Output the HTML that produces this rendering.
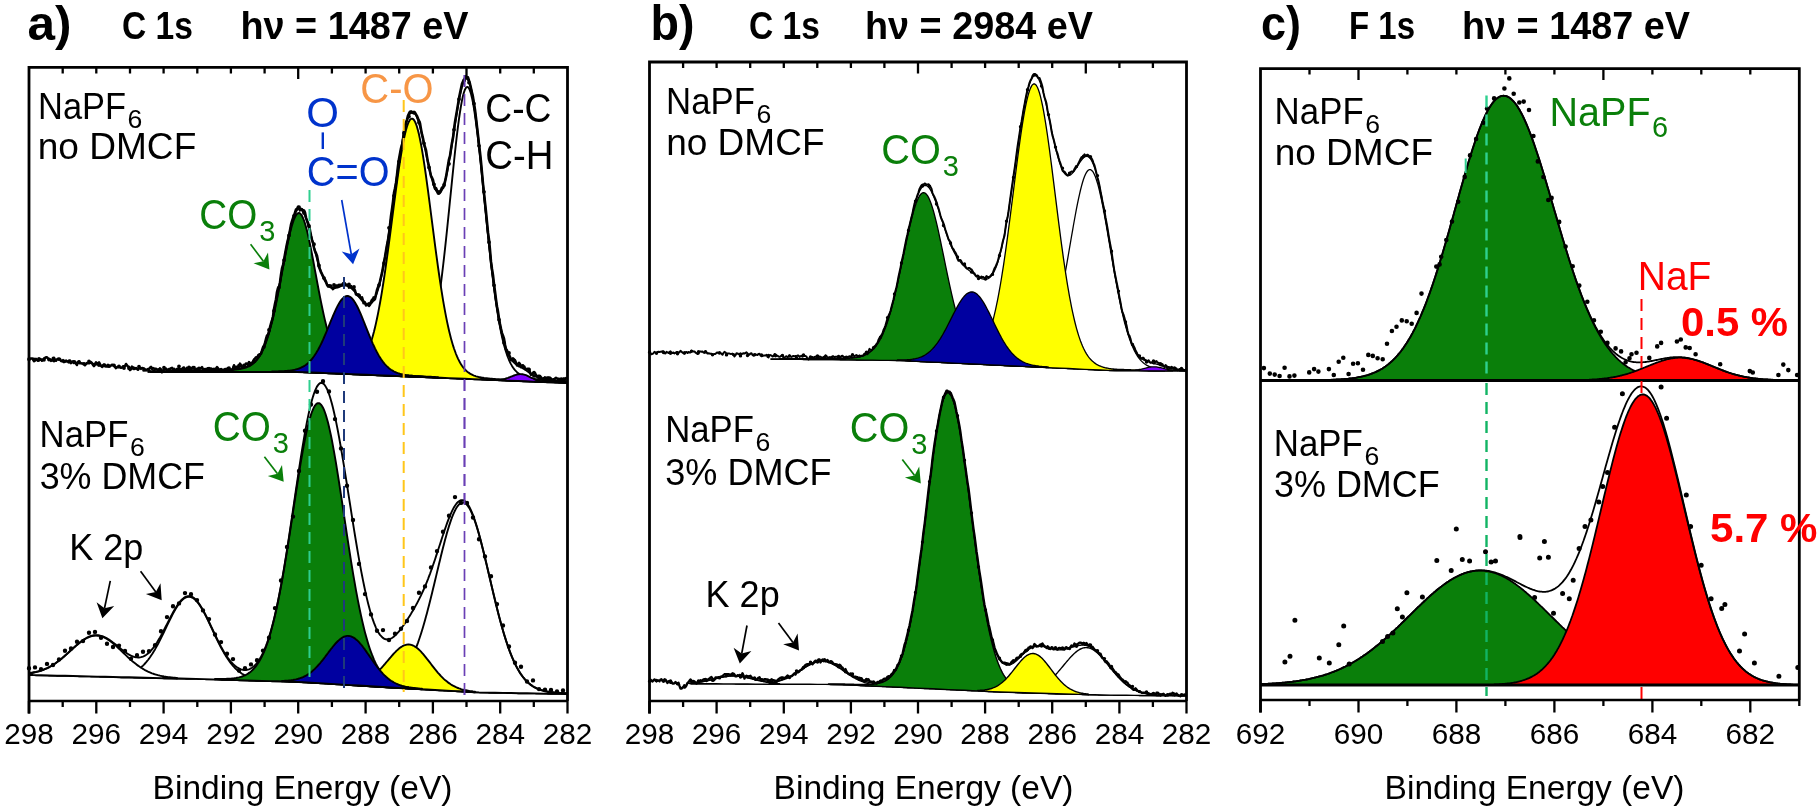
<!DOCTYPE html>
<html><head><meta charset="utf-8"><title>XPS spectra</title>
<style>html,body{margin:0;padding:0;background:#fff}svg{display:block;filter:blur(0.6px)}text{font-family:"Liberation Sans",sans-serif}</style>
</head><body>
<svg width="1820" height="812" viewBox="0 0 1820 812">
<rect width="1820" height="812" fill="#fff"/>
<path d="M464.5 75V696" stroke="#6a3fb5" stroke-width="1.7" stroke-dasharray="12 7" fill="none"/>
<path d="M150.0 372.0 L151.0 372.0 L152.0 372.0 L153.0 372.0 L154.0 372.0 L155.0 372.0 L156.0 372.0 L157.0 372.0 L158.0 372.0 L159.0 372.0 L160.0 372.0 L161.0 372.0 L162.0 372.0 L163.0 372.0 L164.0 372.0 L165.0 372.0 L166.0 372.0 L167.0 372.0 L168.0 372.0 L169.0 372.0 L170.0 372.0 L171.0 372.0 L172.0 372.0 L173.0 372.0 L174.0 372.0 L175.0 372.0 L176.0 372.0 L177.0 372.0 L178.0 372.0 L179.0 372.0 L180.0 372.0 L181.0 372.0 L182.0 372.0 L183.0 372.0 L184.0 372.0 L185.0 372.0 L186.0 372.0 L187.0 372.0 L188.0 372.0 L189.0 372.0 L190.0 372.0 L191.0 372.0 L192.0 372.0 L193.0 372.0 L194.0 372.0 L195.0 372.0 L196.0 372.0 L197.0 372.0 L198.0 372.0 L199.0 372.0 L200.0 372.0 L201.0 372.0 L202.0 372.0 L203.0 372.0 L204.0 372.0 L205.0 372.0 L206.0 372.0 L207.0 372.0 L208.0 372.0 L209.0 372.0 L210.0 372.0 L211.0 372.0 L212.0 372.0 L213.0 372.0 L214.0 372.0 L215.0 372.0 L216.0 372.0 L217.0 372.0 L218.0 372.0 L219.0 372.0 L220.0 372.0 L221.0 372.0 L222.0 372.0 L223.0 372.0 L224.0 372.0 L225.0 372.0 L226.0 372.0 L227.0 372.0 L228.0 372.0 L229.0 372.0 L230.0 372.0 L231.0 372.0 L232.0 372.0 L233.0 372.0 L234.0 372.0 L235.0 372.0 L236.0 372.0 L237.0 372.0 L238.0 372.0 L239.0 372.0 L240.0 372.0 L241.0 372.0 L242.0 372.0 L243.0 372.0 L244.0 372.0 L245.0 372.0 L246.0 372.0 L247.0 372.0 L248.0 372.0 L249.0 372.0 L250.0 372.0 L251.0 372.0 L252.0 372.0 L253.0 372.0 L254.0 372.0 L255.0 372.0 L256.0 372.0 L257.0 372.0 L258.0 372.0 L259.0 372.0 L260.0 372.0 L261.0 372.0 L262.0 372.0 L263.0 372.0 L264.0 372.0 L265.0 372.0 L266.0 372.0 L267.0 372.0 L268.0 372.0 L269.0 372.0 L270.0 372.0 L271.0 372.0 L272.0 372.0 L273.0 372.0 L274.0 372.0 L275.0 372.0 L276.0 372.0 L277.0 372.0 L278.0 372.0 L279.0 372.0 L280.0 372.0 L281.0 372.0 L282.0 372.0 L283.0 372.0 L284.0 372.0 L285.0 372.0 L286.0 372.0 L287.0 372.0 L288.0 372.0 L289.0 372.0 L290.0 372.0 L291.0 372.0 L292.0 372.0 L293.0 372.0 L294.0 372.0 L295.0 372.0 L296.0 372.0 L297.0 372.0 L298.0 372.0 L299.0 372.0 L300.0 372.0 L301.0 372.0 L302.0 372.1 L303.0 372.1 L304.0 372.2 L305.0 372.2 L306.0 372.2 L307.0 372.3 L308.0 372.3 L309.0 372.4 L310.0 372.4 L311.0 372.5 L312.0 372.5 L313.0 372.5 L314.0 372.6 L315.0 372.6 L316.0 372.7 L317.0 372.7 L318.0 372.7 L319.0 372.8 L320.0 372.8 L321.0 372.9 L322.0 372.9 L323.0 372.9 L324.0 373.0 L325.0 373.0 L326.0 373.1 L327.0 373.1 L328.0 373.2 L329.0 373.2 L330.0 373.2 L331.0 373.3 L332.0 373.3 L333.0 373.4 L334.0 373.4 L335.0 373.4 L336.0 373.5 L337.0 373.5 L338.0 373.6 L339.0 373.6 L340.0 373.6 L341.0 373.7 L342.0 373.7 L343.0 373.8 L344.0 373.8 L345.0 373.9 L346.0 373.9 L347.0 373.9 L348.0 374.0 L349.0 374.0 L350.0 374.1 L351.0 374.1 L352.0 374.1 L353.0 374.2 L354.0 374.2 L355.0 374.3 L356.0 374.3 L357.0 374.3 L358.0 374.4 L359.0 374.4 L360.0 374.5 L361.0 374.5 L362.0 374.5 L363.0 374.6 L364.0 374.6 L365.0 374.7 L366.0 374.7 L367.0 374.8 L368.0 374.8 L369.0 374.8 L370.0 374.9 L371.0 374.9 L372.0 375.0 L373.0 375.0 L374.0 375.0 L375.0 375.1 L376.0 375.1 L377.0 375.2 L378.0 375.2 L379.0 375.2 L380.0 375.3 L381.0 375.3 L382.0 375.4 L383.0 375.4 L384.0 375.5 L385.0 375.5 L386.0 375.5 L387.0 375.6 L388.0 375.6 L389.0 375.7 L390.0 375.7 L391.0 375.7 L392.0 375.8 L393.0 375.8 L394.0 375.9 L395.0 375.9 L396.0 375.9 L397.0 376.0 L398.0 376.0 L399.0 376.1 L400.0 376.1 L401.0 376.2 L402.0 376.2 L403.0 376.2 L404.0 376.3 L405.0 376.3 L406.0 376.4 L407.0 376.4 L408.0 376.4 L409.0 376.5 L410.0 376.5 L411.0 376.6 L412.0 376.6 L413.0 376.6 L414.0 376.7 L415.0 376.7 L416.0 376.8 L417.0 376.8 L418.0 376.9 L419.0 376.9 L420.0 376.9 L421.0 377.0 L422.0 377.0 L423.0 377.1 L424.0 377.1 L425.0 377.1 L426.0 377.2 L427.0 377.2 L428.0 377.3 L429.0 377.3 L430.0 377.3 L431.0 377.4 L432.0 377.4 L433.0 377.5 L434.0 377.5 L435.0 377.6 L436.0 377.6 L437.0 377.6 L438.0 377.7 L439.0 377.7 L440.0 377.8 L441.0 377.8 L442.0 377.8 L443.0 377.9 L444.0 377.9 L445.0 378.0 L446.0 378.0 L447.0 378.0 L448.0 378.1 L449.0 378.1 L450.0 378.2 L451.0 378.2 L452.0 378.3 L453.0 378.3 L454.0 378.3 L455.0 378.4 L456.0 378.4 L457.0 378.5 L458.0 378.5 L459.0 378.5 L460.0 378.6 L461.0 378.6 L462.0 378.7 L463.0 378.7 L464.0 378.7 L465.0 378.8 L466.0 378.8 L467.0 378.9 L468.0 378.9 L469.0 378.9 L470.0 379.0 L471.0 379.0 L472.0 379.1 L473.0 379.1 L474.0 379.2 L475.0 379.2 L476.0 379.2 L477.0 379.3 L478.0 379.3 L479.0 379.4 L480.0 379.4 L481.0 379.4 L482.0 379.5 L483.0 379.5 L484.0 379.6 L485.0 379.6 L486.0 379.6 L487.0 379.7 L488.0 379.7 L489.0 379.8 L490.0 379.8 L491.0 379.9 L492.0 379.9 L493.0 379.9 L494.0 380.0 L495.0 380.0 L496.0 380.1 L497.0 380.1 L498.0 380.1 L499.0 380.2 L500.0 380.2 L501.0 380.3 L502.0 380.3 L503.0 380.3 L504.0 380.4 L505.0 380.4 L506.0 380.5 L507.0 380.5 L508.0 380.6 L509.0 380.6 L510.0 380.6 L511.0 380.7 L512.0 380.7 L513.0 380.8 L514.0 380.8 L515.0 380.8 L516.0 380.9 L517.0 380.9 L518.0 381.0 L519.0 381.0 L520.0 381.0 L521.0 381.1 L522.0 381.1 L523.0 381.2 L524.0 381.2 L525.0 381.3 L526.0 381.3 L527.0 381.3 L528.0 381.4 L529.0 381.4 L530.0 381.5 L531.0 381.5 L532.0 381.5 L533.0 381.6 L534.0 381.6 L535.0 381.7 L536.0 381.7 L537.0 381.7 L538.0 381.8 L539.0 381.8 L540.0 381.9 L541.0 381.9 L542.0 382.0 L543.0 382.0 L544.0 382.0 L545.0 382.1 L546.0 382.1 L547.0 382.2 L548.0 382.2 L549.0 382.2 L550.0 382.3 L551.0 382.3 L552.0 382.4 L553.0 382.4 L554.0 382.4 L555.0 382.5 L556.0 382.5 L557.0 382.6 L558.0 382.6 L559.0 382.7 L560.0 382.7 L561.0 382.7 L562.0 382.8 L563.0 382.8 L564.0 382.9 L565.0 382.9 L566.0 382.9 L567.0 383.0" fill="none" stroke="#000" stroke-width="1.9"/>
<path d="M312.0 372.0 L313.0 372.0 L314.0 372.1 L315.0 372.1 L316.0 372.1 L317.0 372.2 L318.0 372.2 L319.0 372.2 L320.0 372.3 L321.0 372.3 L322.0 372.3 L323.0 372.4 L324.0 372.4 L325.0 372.4 L326.0 372.5 L327.0 372.5 L328.0 372.5 L329.0 372.6 L330.0 372.6 L331.0 372.6 L332.0 372.7 L333.0 372.7 L334.0 372.7 L335.0 372.8 L336.0 372.8 L337.0 372.8 L338.0 372.8 L339.0 372.9 L340.0 372.9 L341.0 372.9 L342.0 373.0 L343.0 373.0 L344.0 373.0 L345.0 373.1 L346.0 373.1 L347.0 373.1 L348.0 373.1 L349.0 373.2 L350.0 373.2 L351.0 373.2 L352.0 373.2 L353.0 373.3 L354.0 373.3 L355.0 373.3 L356.0 373.3 L357.0 373.4 L358.0 373.4 L359.0 373.4 L360.0 373.4 L361.0 373.5 L362.0 373.5 L363.0 373.5 L364.0 373.5 L365.0 373.5 L366.0 373.6 L367.0 373.6 L368.0 373.6 L369.0 373.6 L370.0 373.6 L371.0 373.7 L372.0 373.7 L373.0 373.7 L374.0 373.7 L375.0 373.7 L376.0 373.7 L377.0 373.7 L378.0 373.7 L379.0 373.8 L380.0 373.8 L381.0 373.8 L382.0 373.8 L383.0 373.8 L384.0 373.8 L385.0 373.8 L386.0 373.8 L387.0 373.8 L388.0 373.8 L389.0 373.8 L390.0 373.8 L391.0 373.8 L392.0 373.7 L393.0 373.7 L394.0 373.7 L395.0 373.7 L396.0 373.7 L397.0 373.6 L398.0 373.6 L399.0 373.5 L400.0 373.5 L401.0 373.4 L402.0 373.3 L403.0 373.3 L404.0 373.2 L405.0 373.0 L406.0 372.9 L407.0 372.7 L408.0 372.5 L409.0 372.3 L410.0 372.0 L411.0 371.7 L412.0 371.4 L413.0 371.0 L414.0 370.5 L415.0 370.0 L416.0 369.3 L417.0 368.6 L418.0 367.8 L419.0 366.8 L420.0 365.8 L421.0 364.5 L422.0 363.1 L423.0 361.6 L424.0 359.8 L425.0 357.8 L426.0 355.6 L427.0 353.2 L428.0 350.4 L429.0 347.4 L430.0 344.1 L431.0 340.4 L432.0 336.4 L433.0 332.0 L434.0 327.3 L435.0 322.1 L436.0 316.6 L437.0 310.7 L438.0 304.3 L439.0 297.5 L440.0 290.4 L441.0 282.8 L442.0 274.8 L443.0 266.5 L444.0 257.8 L445.0 248.9 L446.0 239.6 L447.0 230.1 L448.0 220.4 L449.0 210.6 L450.0 200.7 L451.0 190.8 L452.0 180.9 L453.0 171.1 L454.0 161.5 L455.0 152.1 L456.0 143.1 L457.0 134.5 L458.0 126.4 L459.0 118.9 L460.0 112.0 L461.0 105.8 L462.0 100.4 L463.0 95.8 L464.0 92.2 L465.0 89.4 L466.0 87.7 L467.0 86.9 L468.0 87.2 L469.0 88.4 L470.0 90.6 L471.0 93.8 L472.0 97.9 L473.0 102.9 L474.0 108.7 L475.0 115.3 L476.0 122.5 L477.0 130.4 L478.0 138.8 L479.0 147.6 L480.0 156.9 L481.0 166.4 L482.0 176.2 L483.0 186.1 L484.0 196.1 L485.0 206.1 L486.0 216.1 L487.0 225.9 L488.0 235.6 L489.0 245.1 L490.0 254.4 L491.0 263.3 L492.0 271.9 L493.0 280.2 L494.0 288.1 L495.0 295.6 L496.0 302.6 L497.0 309.3 L498.0 315.6 L499.0 321.5 L500.0 326.9 L501.0 332.0 L502.0 336.7 L503.0 341.0 L504.0 344.9 L505.0 348.6 L506.0 351.8 L507.0 354.8 L508.0 357.5 L509.0 360.0 L510.0 362.2 L511.0 364.1 L512.0 365.9 L513.0 367.5 L514.0 368.9 L515.0 370.1 L516.0 371.2 L517.0 372.2 L518.0 373.1 L519.0 373.8 L520.0 374.5 L521.0 375.1 L522.0 375.6 L523.0 376.1 L524.0 376.5 L525.0 376.9 L526.0 377.2 L527.0 377.5 L528.0 377.8 L529.0 378.0 L530.0 378.2 L531.0 378.4 L532.0 378.6 L533.0 378.8 L534.0 378.9 L535.0 379.1 L536.0 379.2 L537.0 379.3 L538.0 379.5 L539.0 379.6 L540.0 379.7 L541.0 379.8 L542.0 379.9 L543.0 380.0 L544.0 380.1 L545.0 380.2 L546.0 380.3 L547.0 380.3 L548.0 380.4 L549.0 380.5 L550.0 380.6 L551.0 380.7 L552.0 380.7 L553.0 380.8 L554.0 380.9 L555.0 381.0 L556.0 381.0 L557.0 381.1 L558.0 381.2 L559.0 381.3 L560.0 381.3 L561.0 381.4 L562.0 381.5 L563.0 381.5 L564.0 381.6 L565.0 381.7 L566.0 381.7 L567.0 381.8 L567.0 383.0 L559.0 382.7 L551.0 382.3 L543.0 382.0 L535.0 381.7 L527.0 381.3 L519.0 381.0 L511.0 380.7 L503.0 380.3 L495.0 380.0 L487.0 379.7 L479.0 379.4 L471.0 379.0 L463.0 378.7 L455.0 378.4 L447.0 378.0 L439.0 377.7 L431.0 377.4 L423.0 377.1 L415.0 376.7 L407.0 376.4 L399.0 376.1 L391.0 375.7 L383.0 375.4 L375.0 375.1 L367.0 374.8 L359.0 374.4 L351.0 374.1 L343.0 373.8 L335.0 373.4 L327.0 373.1 L319.0 372.8Z" fill="#fff" stroke="#000" stroke-width="1.9" stroke-linejoin="round"/>
<path d="M295.0 371.5 L296.0 371.5 L297.0 371.5 L298.0 371.5 L299.0 371.5 L300.0 371.5 L301.0 371.5 L302.0 371.5 L303.0 371.6 L304.0 371.6 L305.0 371.6 L306.0 371.6 L307.0 371.7 L308.0 371.7 L309.0 371.7 L310.0 371.8 L311.0 371.8 L312.0 371.8 L313.0 371.8 L314.0 371.9 L315.0 371.9 L316.0 371.9 L317.0 372.0 L318.0 372.0 L319.0 372.0 L320.0 372.0 L321.0 372.0 L322.0 372.1 L323.0 372.1 L324.0 372.1 L325.0 372.1 L326.0 372.2 L327.0 372.2 L328.0 372.2 L329.0 372.2 L330.0 372.2 L331.0 372.2 L332.0 372.2 L333.0 372.2 L334.0 372.2 L335.0 372.2 L336.0 372.2 L337.0 372.2 L338.0 372.1 L339.0 372.1 L340.0 372.0 L341.0 372.0 L342.0 371.9 L343.0 371.8 L344.0 371.7 L345.0 371.6 L346.0 371.4 L347.0 371.2 L348.0 371.0 L349.0 370.8 L350.0 370.5 L351.0 370.1 L352.0 369.7 L353.0 369.3 L354.0 368.8 L355.0 368.2 L356.0 367.6 L357.0 366.9 L358.0 366.0 L359.0 365.1 L360.0 364.0 L361.0 362.9 L362.0 361.6 L363.0 360.1 L364.0 358.5 L365.0 356.8 L366.0 354.8 L367.0 352.7 L368.0 350.4 L369.0 347.8 L370.0 345.0 L371.0 342.0 L372.0 338.8 L373.0 335.2 L374.0 331.5 L375.0 327.4 L376.0 323.1 L377.0 318.5 L378.0 313.6 L379.0 308.4 L380.0 303.0 L381.0 297.3 L382.0 291.3 L383.0 285.0 L384.0 278.5 L385.0 271.8 L386.0 264.8 L387.0 257.7 L388.0 250.4 L389.0 242.9 L390.0 235.3 L391.0 227.7 L392.0 219.9 L393.0 212.2 L394.0 204.5 L395.0 196.9 L396.0 189.4 L397.0 182.0 L398.0 174.9 L399.0 167.9 L400.0 161.3 L401.0 155.0 L402.0 149.1 L403.0 143.6 L404.0 138.5 L405.0 134.0 L406.0 130.0 L407.0 126.5 L408.0 123.7 L409.0 121.4 L410.0 119.8 L411.0 118.9 L412.0 118.6 L413.0 119.0 L414.0 120.0 L415.0 121.7 L416.0 124.0 L417.0 126.9 L418.0 130.5 L419.0 134.6 L420.0 139.2 L421.0 144.3 L422.0 149.9 L423.0 155.9 L424.0 162.3 L425.0 169.0 L426.0 176.0 L427.0 183.3 L428.0 190.7 L429.0 198.3 L430.0 206.0 L431.0 213.8 L432.0 221.6 L433.0 229.4 L434.0 237.1 L435.0 244.8 L436.0 252.3 L437.0 259.7 L438.0 267.0 L439.0 274.0 L440.0 280.8 L441.0 287.4 L442.0 293.7 L443.0 299.8 L444.0 305.6 L445.0 311.1 L446.0 316.4 L447.0 321.4 L448.0 326.0 L449.0 330.5 L450.0 334.6 L451.0 338.4 L452.0 342.0 L453.0 345.4 L454.0 348.5 L455.0 351.3 L456.0 354.0 L457.0 356.4 L458.0 358.6 L459.0 360.6 L460.0 362.5 L461.0 364.2 L462.0 365.7 L463.0 367.1 L464.0 368.3 L465.0 369.5 L466.0 370.5 L467.0 371.4 L468.0 372.2 L469.0 372.9 L470.0 373.6 L471.0 374.2 L472.0 374.7 L473.0 375.2 L474.0 375.6 L475.0 375.9 L476.0 376.3 L477.0 376.6 L478.0 376.8 L479.0 377.1 L480.0 377.3 L481.0 377.5 L482.0 377.7 L483.0 377.8 L484.0 378.0 L485.0 378.1 L486.0 378.2 L487.0 378.3 L488.0 378.4 L489.0 378.5 L490.0 378.6 L491.0 378.7 L492.0 378.8 L493.0 378.9 L494.0 378.9 L495.0 379.0 L496.0 379.1 L497.0 379.2 L498.0 379.2 L499.0 379.3 L500.0 379.4 L501.0 379.4 L502.0 379.5 L503.0 379.5 L504.0 379.6 L505.0 379.7 L506.0 379.7 L507.0 379.8 L508.0 379.8 L509.0 379.9 L510.0 379.9 L511.0 380.0 L512.0 380.0 L513.0 380.1 L514.0 380.1 L515.0 380.2 L516.0 380.3 L517.0 380.3 L518.0 380.4 L519.0 380.4 L520.0 380.5 L521.0 380.5 L522.0 380.6 L523.0 380.6 L524.0 380.7 L525.0 380.7 L526.0 380.8 L527.0 380.8 L528.0 380.9 L529.0 380.9 L529.0 381.4 L521.0 381.1 L513.0 380.8 L505.0 380.4 L497.0 380.1 L489.0 379.8 L481.0 379.4 L473.0 379.1 L465.0 378.8 L457.0 378.5 L449.0 378.1 L441.0 377.8 L433.0 377.5 L425.0 377.1 L417.0 376.8 L409.0 376.5 L401.0 376.2 L393.0 375.8 L385.0 375.5 L377.0 375.2 L369.0 374.8 L361.0 374.5 L353.0 374.2 L345.0 373.9 L337.0 373.5 L329.0 373.2 L321.0 372.9 L313.0 372.5 L305.0 372.2 L297.0 372.0Z" fill="#ffff00" stroke="#000" stroke-width="1.9" stroke-linejoin="round"/>
<path d="M159.0 371.5 L160.0 371.5 L161.0 371.5 L162.0 371.5 L163.0 371.5 L164.0 371.5 L165.0 371.5 L166.0 371.4 L167.0 371.4 L168.0 371.4 L169.0 371.4 L170.0 371.4 L171.0 371.4 L172.0 371.4 L173.0 371.4 L174.0 371.4 L175.0 371.4 L176.0 371.4 L177.0 371.3 L178.0 371.3 L179.0 371.3 L180.0 371.3 L181.0 371.3 L182.0 371.3 L183.0 371.3 L184.0 371.3 L185.0 371.3 L186.0 371.2 L187.0 371.2 L188.0 371.2 L189.0 371.2 L190.0 371.2 L191.0 371.2 L192.0 371.2 L193.0 371.1 L194.0 371.1 L195.0 371.1 L196.0 371.1 L197.0 371.1 L198.0 371.1 L199.0 371.0 L200.0 371.0 L201.0 371.0 L202.0 371.0 L203.0 371.0 L204.0 370.9 L205.0 370.9 L206.0 370.9 L207.0 370.9 L208.0 370.8 L209.0 370.8 L210.0 370.8 L211.0 370.8 L212.0 370.7 L213.0 370.7 L214.0 370.7 L215.0 370.7 L216.0 370.6 L217.0 370.6 L218.0 370.6 L219.0 370.5 L220.0 370.5 L221.0 370.4 L222.0 370.4 L223.0 370.4 L224.0 370.3 L225.0 370.3 L226.0 370.2 L227.0 370.2 L228.0 370.1 L229.0 370.1 L230.0 370.0 L231.0 369.9 L232.0 369.9 L233.0 369.8 L234.0 369.7 L235.0 369.6 L236.0 369.5 L237.0 369.4 L238.0 369.3 L239.0 369.1 L240.0 369.0 L241.0 368.8 L242.0 368.6 L243.0 368.4 L244.0 368.1 L245.0 367.8 L246.0 367.5 L247.0 367.2 L248.0 366.7 L249.0 366.3 L250.0 365.8 L251.0 365.2 L252.0 364.5 L253.0 363.8 L254.0 362.9 L255.0 362.0 L256.0 361.0 L257.0 359.8 L258.0 358.5 L259.0 357.1 L260.0 355.5 L261.0 353.8 L262.0 351.9 L263.0 349.8 L264.0 347.5 L265.0 345.1 L266.0 342.4 L267.0 339.5 L268.0 336.4 L269.0 333.1 L270.0 329.6 L271.0 325.8 L272.0 321.9 L273.0 317.7 L274.0 313.3 L275.0 308.7 L276.0 304.0 L277.0 299.1 L278.0 294.0 L279.0 288.9 L280.0 283.6 L281.0 278.3 L282.0 272.9 L283.0 267.5 L284.0 262.2 L285.0 256.9 L286.0 251.7 L287.0 246.7 L288.0 241.8 L289.0 237.2 L290.0 232.9 L291.0 228.9 L292.0 225.3 L293.0 222.1 L294.0 219.3 L295.0 217.0 L296.0 215.2 L297.0 213.9 L298.0 213.2 L299.0 213.0 L300.0 213.4 L301.0 214.4 L302.0 215.9 L303.0 218.0 L304.0 220.5 L305.0 223.5 L306.0 226.9 L307.0 230.8 L308.0 234.9 L309.0 239.4 L310.0 244.2 L311.0 249.1 L312.0 254.2 L313.0 259.5 L314.0 264.9 L315.0 270.3 L316.0 275.7 L317.0 281.1 L318.0 286.5 L319.0 291.7 L320.0 296.9 L321.0 301.9 L322.0 306.8 L323.0 311.5 L324.0 316.1 L325.0 320.4 L326.0 324.5 L327.0 328.5 L328.0 332.2 L329.0 335.6 L330.0 338.9 L331.0 342.0 L332.0 344.8 L333.0 347.4 L334.0 349.8 L335.0 352.1 L336.0 354.1 L337.0 356.0 L338.0 357.7 L339.0 359.3 L340.0 360.7 L341.0 362.0 L342.0 363.1 L343.0 364.2 L344.0 365.1 L345.0 365.9 L346.0 366.7 L347.0 367.4 L348.0 368.0 L349.0 368.5 L350.0 369.0 L351.0 369.4 L352.0 369.8 L353.0 370.1 L354.0 370.4 L355.0 370.7 L356.0 371.0 L357.0 371.2 L358.0 371.4 L359.0 371.6 L360.0 371.8 L361.0 371.9 L362.0 372.1 L363.0 372.2 L364.0 372.4 L365.0 372.5 L366.0 372.6 L367.0 372.7 L368.0 372.8 L369.0 372.9 L370.0 373.0 L371.0 373.1 L372.0 373.2 L373.0 373.3 L374.0 373.4 L375.0 373.5 L376.0 373.5 L377.0 373.6 L378.0 373.7 L379.0 373.8 L380.0 373.9 L381.0 373.9 L382.0 374.0 L383.0 374.1 L384.0 374.1 L385.0 374.2 L386.0 374.3 L387.0 374.4 L388.0 374.4 L389.0 374.5 L390.0 374.6 L391.0 374.6 L392.0 374.7 L393.0 374.7 L394.0 374.8 L395.0 374.9 L396.0 374.9 L397.0 375.0 L398.0 375.1 L399.0 375.1 L400.0 375.2 L401.0 375.2 L402.0 375.3 L403.0 375.3 L404.0 375.4 L405.0 375.5 L406.0 375.5 L407.0 375.6 L408.0 375.6 L409.0 375.7 L410.0 375.7 L411.0 375.8 L412.0 375.8 L413.0 375.9 L414.0 376.0 L415.0 376.0 L416.0 376.1 L417.0 376.1 L418.0 376.2 L419.0 376.2 L420.0 376.3 L421.0 376.3 L422.0 376.4 L423.0 376.4 L424.0 376.5 L425.0 376.5 L426.0 376.6 L427.0 376.6 L428.0 376.7 L429.0 376.7 L430.0 376.8 L431.0 376.8 L432.0 376.9 L433.0 376.9 L434.0 377.0 L435.0 377.0 L436.0 377.1 L437.0 377.1 L438.0 377.2 L438.0 377.7 L430.0 377.3 L422.0 377.0 L414.0 376.7 L406.0 376.4 L398.0 376.0 L390.0 375.7 L382.0 375.4 L374.0 375.0 L366.0 374.7 L358.0 374.4 L350.0 374.1 L342.0 373.7 L334.0 373.4 L326.0 373.1 L318.0 372.7 L310.0 372.4 L302.0 372.1 L294.0 372.0 L286.0 372.0 L278.0 372.0 L270.0 372.0 L262.0 372.0 L254.0 372.0 L246.0 372.0 L238.0 372.0 L230.0 372.0 L222.0 372.0 L214.0 372.0 L206.0 372.0 L198.0 372.0 L190.0 372.0 L182.0 372.0 L174.0 372.0 L166.0 372.0Z" fill="#0a7f0a" stroke="#000" stroke-width="1.9" stroke-linejoin="round"/>
<path d="M272.0 371.5 L273.0 371.5 L274.0 371.5 L275.0 371.4 L276.0 371.4 L277.0 371.4 L278.0 371.4 L279.0 371.3 L280.0 371.3 L281.0 371.3 L282.0 371.2 L283.0 371.2 L284.0 371.1 L285.0 371.0 L286.0 371.0 L287.0 370.9 L288.0 370.8 L289.0 370.7 L290.0 370.6 L291.0 370.4 L292.0 370.3 L293.0 370.1 L294.0 369.9 L295.0 369.7 L296.0 369.4 L297.0 369.1 L298.0 368.8 L299.0 368.5 L300.0 368.1 L301.0 367.7 L302.0 367.2 L303.0 366.7 L304.0 366.1 L305.0 365.5 L306.0 364.8 L307.0 364.0 L308.0 363.2 L309.0 362.2 L310.0 361.2 L311.0 360.1 L312.0 359.0 L313.0 357.7 L314.0 356.3 L315.0 354.8 L316.0 353.3 L317.0 351.6 L318.0 349.9 L319.0 348.0 L320.0 346.1 L321.0 344.1 L322.0 342.0 L323.0 339.8 L324.0 337.5 L325.0 335.2 L326.0 332.9 L327.0 330.5 L328.0 328.0 L329.0 325.6 L330.0 323.1 L331.0 320.7 L332.0 318.3 L333.0 315.9 L334.0 313.6 L335.0 311.3 L336.0 309.2 L337.0 307.2 L338.0 305.2 L339.0 303.5 L340.0 301.8 L341.0 300.4 L342.0 299.1 L343.0 298.1 L344.0 297.2 L345.0 296.6 L346.0 296.2 L347.0 296.0 L348.0 296.0 L349.0 296.3 L350.0 296.8 L351.0 297.5 L352.0 298.4 L353.0 299.6 L354.0 300.9 L355.0 302.5 L356.0 304.2 L357.0 306.0 L358.0 308.0 L359.0 310.1 L360.0 312.4 L361.0 314.7 L362.0 317.1 L363.0 319.6 L364.0 322.0 L365.0 324.6 L366.0 327.1 L367.0 329.6 L368.0 332.1 L369.0 334.6 L370.0 337.1 L371.0 339.5 L372.0 341.8 L373.0 344.1 L374.0 346.2 L375.0 348.4 L376.0 350.4 L377.0 352.3 L378.0 354.1 L379.0 355.9 L380.0 357.5 L381.0 359.1 L382.0 360.5 L383.0 361.9 L384.0 363.1 L385.0 364.3 L386.0 365.4 L387.0 366.4 L388.0 367.3 L389.0 368.2 L390.0 369.0 L391.0 369.7 L392.0 370.3 L393.0 370.9 L394.0 371.5 L395.0 372.0 L396.0 372.4 L397.0 372.8 L398.0 373.2 L399.0 373.5 L400.0 373.8 L401.0 374.1 L402.0 374.3 L403.0 374.5 L404.0 374.7 L405.0 374.9 L406.0 375.1 L407.0 375.2 L408.0 375.3 L409.0 375.5 L410.0 375.6 L411.0 375.7 L412.0 375.8 L413.0 375.9 L414.0 375.9 L415.0 376.0 L416.0 376.1 L417.0 376.2 L418.0 376.2 L419.0 376.3 L420.0 376.4 L421.0 376.4 L422.0 376.5 L423.0 376.5 L423.0 377.1 L415.0 376.7 L407.0 376.4 L399.0 376.1 L391.0 375.7 L383.0 375.4 L375.0 375.1 L367.0 374.8 L359.0 374.4 L351.0 374.1 L343.0 373.8 L335.0 373.4 L327.0 373.1 L319.0 372.8 L311.0 372.5 L303.0 372.1 L295.0 372.0 L287.0 372.0 L279.0 372.0Z" fill="#0000a0" stroke="#000" stroke-width="1.9" stroke-linejoin="round"/>
<path d="M500.0 379.7 L501.0 379.6 L502.0 379.4 L503.0 379.3 L504.0 379.1 L505.0 378.8 L506.0 378.5 L507.0 378.2 L508.0 377.9 L509.0 377.5 L510.0 377.1 L511.0 376.7 L512.0 376.3 L513.0 375.9 L514.0 375.5 L515.0 375.1 L516.0 374.8 L517.0 374.5 L518.0 374.3 L519.0 374.2 L520.0 374.1 L521.0 374.1 L522.0 374.2 L523.0 374.3 L524.0 374.6 L525.0 374.9 L526.0 375.2 L527.0 375.6 L528.0 376.1 L529.0 376.6 L530.0 377.1 L531.0 377.6 L532.0 378.0 L533.0 378.5 L534.0 379.0 L535.0 379.4 L536.0 379.8 L537.0 380.1 L538.0 380.4 L539.0 380.7 L540.0 381.0 L541.0 381.2 L542.0 381.4 L542.0 382.0 L534.0 381.6 L526.0 381.3 L518.0 381.0 L510.0 380.6 L502.0 380.3Z" fill="#8000ff" stroke="#000" stroke-width="1.9" stroke-linejoin="round"/>
<path d="M150.0 371.3 L151.0 371.2 L152.0 371.2 L153.0 371.2 L154.0 371.2 L155.0 371.2 L156.0 371.2 L157.0 371.2 L158.0 371.2 L159.0 371.2 L160.0 371.2 L161.0 371.2 L162.0 371.1 L163.0 371.1 L164.0 371.1 L165.0 371.1 L166.0 371.1 L167.0 371.1 L168.0 371.1 L169.0 371.1 L170.0 371.1 L171.0 371.0 L172.0 371.0 L173.0 371.0 L174.0 371.0 L175.0 371.0 L176.0 371.0 L177.0 371.0 L178.0 371.0 L179.0 370.9 L180.0 370.9 L181.0 370.9 L182.0 370.9 L183.0 370.9 L184.0 370.9 L185.0 370.8 L186.0 370.8 L187.0 370.8 L188.0 370.8 L189.0 370.8 L190.0 370.8 L191.0 370.7 L192.0 370.7 L193.0 370.7 L194.0 370.7 L195.0 370.7 L196.0 370.6 L197.0 370.6 L198.0 370.6 L199.0 370.6 L200.0 370.6 L201.0 370.5 L202.0 370.5 L203.0 370.5 L204.0 370.5 L205.0 370.4 L206.0 370.4 L207.0 370.4 L208.0 370.3 L209.0 370.3 L210.0 370.3 L211.0 370.2 L212.0 370.2 L213.0 370.2 L214.0 370.1 L215.0 370.1 L216.0 370.1 L217.0 370.0 L218.0 370.0 L219.0 370.0 L220.0 369.9 L221.0 369.9 L222.0 369.8 L223.0 369.8 L224.0 369.7 L225.0 369.7 L226.0 369.6 L227.0 369.6 L228.0 369.5 L229.0 369.4 L230.0 369.4 L231.0 369.3 L232.0 369.2 L233.0 369.1 L234.0 369.0 L235.0 368.9 L236.0 368.8 L237.0 368.7 L238.0 368.6 L239.0 368.4 L240.0 368.2 L241.0 368.1 L242.0 367.8 L243.0 367.6 L244.0 367.4 L245.0 367.1 L246.0 366.7 L247.0 366.4 L248.0 365.9 L249.0 365.5 L250.0 364.9 L251.0 364.3 L252.0 363.7 L253.0 362.9 L254.0 362.1 L255.0 361.1 L256.0 360.1 L257.0 358.9 L258.0 357.6 L259.0 356.1 L260.0 354.6 L261.0 352.8 L262.0 350.9 L263.0 348.8 L264.0 346.5 L265.0 344.0 L266.0 341.3 L267.0 338.4 L268.0 335.3 L269.0 332.0 L270.0 328.4 L271.0 324.7 L272.0 320.7 L273.0 316.5 L274.0 312.1 L275.0 307.5 L276.0 302.7 L277.0 297.8 L278.0 292.7 L279.0 287.5 L280.0 282.2 L281.0 276.8 L282.0 271.3 L283.0 265.9 L284.0 260.5 L285.0 255.1 L286.0 249.9 L287.0 244.7 L288.0 239.8 L289.0 235.1 L290.0 230.6 L291.0 226.5 L292.0 222.7 L293.0 219.3 L294.0 216.3 L295.0 213.7 L296.0 211.7 L297.0 210.1 L298.0 209.1 L299.0 208.5 L300.0 208.5 L301.0 209.0 L302.0 210.0 L303.0 211.5 L304.0 213.4 L305.0 215.7 L306.0 218.4 L307.0 221.4 L308.0 224.7 L309.0 228.2 L310.0 231.8 L311.0 235.6 L312.0 239.5 L313.0 243.5 L314.0 247.4 L315.0 251.3 L316.0 255.1 L317.0 258.7 L318.0 262.3 L319.0 265.7 L320.0 268.8 L321.0 271.8 L322.0 274.5 L323.0 276.9 L324.0 279.2 L325.0 281.1 L326.0 282.8 L327.0 284.3 L328.0 285.4 L329.0 286.4 L330.0 287.1 L331.0 287.7 L332.0 288.0 L333.0 288.2 L334.0 288.2 L335.0 288.1 L336.0 287.9 L337.0 287.6 L338.0 287.3 L339.0 286.9 L340.0 286.5 L341.0 286.2 L342.0 285.9 L343.0 285.7 L344.0 285.6 L345.0 285.6 L346.0 285.6 L347.0 285.8 L348.0 286.2 L349.0 286.6 L350.0 287.2 L351.0 288.0 L352.0 288.8 L353.0 289.8 L354.0 290.8 L355.0 292.0 L356.0 293.2 L357.0 294.4 L358.0 295.7 L359.0 297.0 L360.0 298.2 L361.0 299.5 L362.0 300.6 L363.0 301.7 L364.0 302.6 L365.0 303.4 L366.0 304.0 L367.0 304.4 L368.0 304.5 L369.0 304.5 L370.0 304.1 L371.0 303.5 L372.0 302.5 L373.0 301.3 L374.0 299.7 L375.0 297.7 L376.0 295.4 L377.0 292.6 L378.0 289.6 L379.0 286.1 L380.0 282.2 L381.0 278.0 L382.0 273.4 L383.0 268.5 L384.0 263.2 L385.0 257.6 L386.0 251.7 L387.0 245.5 L388.0 239.0 L389.0 232.4 L390.0 225.5 L391.0 218.5 L392.0 211.4 L393.0 204.2 L394.0 196.9 L395.0 189.7 L396.0 182.5 L397.0 175.5 L398.0 168.6 L399.0 161.9 L400.0 155.4 L401.0 149.3 L402.0 143.4 L403.0 138.0 L404.0 133.0 L405.0 128.4 L406.0 124.4 L407.0 120.8 L408.0 117.8 L409.0 115.4 L410.0 113.6 L411.0 112.4 L412.0 111.8 L413.0 111.8 L414.0 112.3 L415.0 113.5 L416.0 115.2 L417.0 117.4 L418.0 120.1 L419.0 123.2 L420.0 126.8 L421.0 130.7 L422.0 134.9 L423.0 139.3 L424.0 143.9 L425.0 148.6 L426.0 153.4 L427.0 158.2 L428.0 162.9 L429.0 167.4 L430.0 171.8 L431.0 175.9 L432.0 179.6 L433.0 183.0 L434.0 186.0 L435.0 188.5 L436.0 190.5 L437.0 191.9 L438.0 192.7 L439.0 193.0 L440.0 192.6 L441.0 191.6 L442.0 189.9 L443.0 187.6 L444.0 184.8 L445.0 181.3 L446.0 177.3 L447.0 172.7 L448.0 167.7 L449.0 162.2 L450.0 156.4 L451.0 150.3 L452.0 144.0 L453.0 137.5 L454.0 131.0 L455.0 124.4 L456.0 118.0 L457.0 111.8 L458.0 105.9 L459.0 100.4 L460.0 95.3 L461.0 90.7 L462.0 86.8 L463.0 83.6 L464.0 81.2 L465.0 79.5 L466.0 78.8 L467.0 78.9 L468.0 79.9 L469.0 81.8 L470.0 84.7 L471.0 88.4 L472.0 93.0 L473.0 98.4 L474.0 104.6 L475.0 111.5 L476.0 119.1 L477.0 127.2 L478.0 135.8 L479.0 144.9 L480.0 154.3 L481.0 164.0 L482.0 173.9 L483.0 183.9 L484.0 194.1 L485.0 204.2 L486.0 214.2 L487.0 224.1 L488.0 233.9 L489.0 243.4 L490.0 252.7 L491.0 261.7 L492.0 270.3 L493.0 278.6 L494.0 286.5 L495.0 294.0 L496.0 301.1 L497.0 307.7 L498.0 314.0 L499.0 319.8 L500.0 325.1 L501.0 330.1 L502.0 334.6 L503.0 338.7 L504.0 342.5 L505.0 345.8 L506.0 348.8 L507.0 351.5 L508.0 353.8 L509.0 355.9 L510.0 357.6 L511.0 359.2 L512.0 360.5 L513.0 361.6 L514.0 362.6 L515.0 363.5 L516.0 364.2 L517.0 364.9 L518.0 365.5 L519.0 366.1 L520.0 366.7 L521.0 367.2 L522.0 367.8 L523.0 368.4 L524.0 369.0 L525.0 369.7 L526.0 370.3 L527.0 371.0 L528.0 371.7 L529.0 372.4 L530.0 373.1 L531.0 373.7 L532.0 374.4 L533.0 375.0 L534.0 375.5 L535.0 376.1 L536.0 376.6 L537.0 377.0 L538.0 377.4 L539.0 377.8 L540.0 378.1 L541.0 378.4 L542.0 378.7 L543.0 378.9 L544.0 379.1 L545.0 379.3 L546.0 379.4 L547.0 379.6 L548.0 379.7 L549.0 379.8 L550.0 379.9 L551.0 380.0 L552.0 380.1 L553.0 380.2 L554.0 380.3 L555.0 380.4 L556.0 380.5 L557.0 380.6 L558.0 380.6 L559.0 380.7 L560.0 380.8 L561.0 380.9 L562.0 380.9 L563.0 381.0 L564.0 381.1 L565.0 381.2 L566.0 381.2 L567.0 381.3" fill="none" stroke="#000" stroke-width="1.9"/>
<path d="M29.0 359.7 L30.0 358.7 L31.0 358.5 L32.0 358.5 L33.0 359.0 L34.0 361.2 L35.0 360.7 L36.0 358.9 L37.0 359.8 L38.0 360.8 L39.0 360.5 L40.0 359.3 L41.0 359.2 L42.0 360.7 L43.0 359.6 L44.0 358.5 L45.0 358.0 L46.0 357.3 L47.0 357.4 L48.0 358.4 L49.0 358.9 L50.0 359.4 L51.0 360.8 L52.0 360.4 L53.0 358.0 L54.0 357.7 L55.0 360.0 L56.0 360.6 L57.0 359.3 L58.0 358.8 L59.0 359.3 L60.0 359.0 L61.0 361.0 L62.0 361.1 L63.0 360.2 L64.0 361.9 L65.0 361.5 L66.0 360.6 L67.0 361.4 L68.0 361.6 L69.0 360.5 L70.0 360.6 L71.0 363.1 L72.0 361.7 L73.0 361.4 L74.0 363.0 L75.0 361.7 L76.0 363.6 L77.0 364.9 L78.0 362.1 L79.0 361.6 L80.0 363.3 L81.0 363.2 L82.0 363.4 L83.0 363.6 L84.0 363.7 L85.0 365.2 L86.0 364.0 L87.0 363.0 L88.0 363.3 L89.0 363.3 L90.0 362.8 L91.0 362.2 L92.0 363.2 L93.0 364.7 L94.0 366.0 L95.0 364.1 L96.0 362.4 L97.0 364.3 L98.0 363.3 L99.0 362.4 L100.0 364.2 L101.0 365.9 L102.0 366.8 L103.0 365.4 L104.0 364.5 L105.0 364.7 L106.0 366.5 L107.0 366.5 L108.0 364.9 L109.0 365.7 L110.0 366.0 L111.0 365.6 L112.0 364.8 L113.0 365.0 L114.0 365.8 L115.0 366.9 L116.0 368.1 L117.0 367.1 L118.0 367.2 L119.0 367.0 L120.0 367.4 L121.0 367.8 L122.0 367.5 L123.0 366.4 L124.0 366.3 L125.0 366.0 L126.0 364.0 L127.0 365.3 L128.0 366.5 L129.0 367.0 L130.0 370.0 L131.0 369.2 L132.0 366.6 L133.0 367.7 L134.0 368.8 L135.0 368.6 L136.0 368.0 L137.0 368.9 L138.0 369.7 L139.0 368.2 L140.0 367.8 L141.0 368.8 L142.0 368.0 L143.0 368.3 L144.0 368.6 L145.0 369.4 L146.0 370.4 L147.0 369.7 L148.0 369.1 L149.0 369.0 L150.0 367.8 L151.0 366.9 L152.0 369.0 L153.0 368.1 L154.0 368.6 L155.0 368.9 L156.0 368.8 L157.0 369.6 L158.0 369.7 L159.0 370.6 L160.0 368.4 L161.0 369.4 L162.0 372.2 L163.0 371.0 L164.0 369.4 L165.0 369.3 L166.0 368.6 L167.0 369.8 L168.0 370.2 L169.0 369.1 L170.0 368.9 L171.0 368.3 L172.0 367.9 L173.0 369.6 L174.0 370.6 L175.0 370.4 L176.0 370.5 L177.0 369.0 L178.0 368.7 L179.0 368.8 L180.0 369.1 L181.0 369.2 L182.0 368.9 L183.0 368.0 L184.0 367.5 L185.0 370.3 L186.0 370.4 L187.0 367.9 L188.0 368.8 L189.0 371.1 L190.0 369.4 L191.0 367.9 L192.0 368.7 L193.0 367.2 L194.0 368.5 L195.0 370.0 L196.0 369.4 L197.0 368.7 L198.0 369.1 L199.0 369.2 L200.0 368.7 L201.0 368.1 L202.0 367.1 L203.0 369.4 L204.0 370.0 L205.0 369.0 L206.0 369.4 L207.0 368.7 L208.0 368.3 L209.0 369.2 L210.0 369.4 L211.0 368.6 L212.0 368.9 L213.0 370.1 L214.0 370.7 L215.0 369.9 L216.0 368.7 L217.0 367.1 L218.0 368.4 L219.0 370.6 L220.0 369.5 L221.0 369.1 L222.0 369.9 L223.0 370.1 L224.0 370.2 L225.0 369.0 L226.0 369.5 L227.0 368.7 L228.0 368.0 L229.0 369.6 L230.0 369.5 L231.0 370.7 L232.0 371.2 L233.0 368.3 L234.0 365.3 L235.0 367.0 L236.0 367.6 L237.0 366.7 L238.0 368.3 L239.0 366.6 L240.0 363.7 L241.0 365.3 L242.0 367.1 L243.0 366.4 L244.0 366.1 L245.0 365.3 L246.0 363.5 L247.0 363.8 L248.0 363.9 L249.0 362.1 L250.0 362.9 L251.0 363.7 L252.0 363.0 L253.0 361.4 L254.0 359.5 L255.0 358.6 L256.0 357.3 L257.0 357.3 L258.0 356.0 L259.0 354.8 L260.0 354.2 L261.0 354.0 L262.0 350.5 L263.0 347.3 L264.0 346.2 L265.0 342.9 L266.0 339.0 L267.0 335.7 L268.0 334.6 L269.0 331.6 L270.0 327.4 L271.0 323.5 L272.0 320.5 L273.0 316.5 L274.0 309.0 L275.0 303.8 L276.0 299.3 L277.0 292.0 L278.0 288.2 L279.0 287.2 L280.0 282.4 L281.0 274.7 L282.0 268.4 L283.0 265.1 L284.0 260.7 L285.0 254.3 L286.0 248.9 L287.0 243.7 L288.0 239.6 L289.0 235.3 L290.0 230.3 L291.0 224.7 L292.0 221.2 L293.0 218.1 L294.0 215.7 L295.0 212.6 L296.0 209.4 L297.0 209.0 L298.0 206.8 L299.0 207.9 L300.0 210.4 L301.0 208.9 L302.0 209.3 L303.0 211.6 L304.0 210.4 L305.0 212.6 L306.0 217.6 L307.0 220.4 L308.0 222.8 L309.0 225.9 L310.0 230.4 L311.0 235.6 L312.0 239.9 L313.0 242.8 L314.0 247.8 L315.0 251.2 L316.0 253.2 L317.0 255.7 L318.0 261.1 L319.0 267.0 L320.0 269.5 L321.0 272.2 L322.0 274.2 L323.0 276.2 L324.0 278.1 L325.0 279.7 L326.0 281.7 L327.0 284.7 L328.0 286.3 L329.0 285.9 L330.0 285.5 L331.0 285.5 L332.0 287.9 L333.0 289.1 L334.0 287.7 L335.0 286.8 L336.0 285.5 L337.0 285.5 L338.0 287.0 L339.0 286.3 L340.0 285.0 L341.0 284.8 L342.0 284.8 L343.0 283.4 L344.0 282.9 L345.0 283.6 L346.0 284.7 L347.0 284.9 L348.0 285.0 L349.0 287.6 L350.0 287.3 L351.0 286.1 L352.0 287.4 L353.0 288.9 L354.0 288.9 L355.0 290.5 L356.0 294.4 L357.0 295.0 L358.0 294.3 L359.0 294.8 L360.0 296.6 L361.0 297.6 L362.0 297.4 L363.0 300.8 L364.0 301.9 L365.0 302.5 L366.0 305.4 L367.0 305.0 L368.0 304.3 L369.0 305.8 L370.0 304.7 L371.0 301.8 L372.0 299.8 L373.0 299.1 L374.0 300.1 L375.0 298.9 L376.0 294.4 L377.0 290.0 L378.0 287.3 L379.0 284.9 L380.0 281.3 L381.0 277.0 L382.0 272.9 L383.0 267.5 L384.0 261.9 L385.0 256.8 L386.0 250.8 L387.0 244.9 L388.0 240.2 L389.0 233.6 L390.0 225.1 L391.0 216.0 L392.0 209.2 L393.0 201.7 L394.0 192.8 L395.0 188.2 L396.0 183.0 L397.0 175.0 L398.0 165.9 L399.0 159.0 L400.0 153.5 L401.0 148.2 L402.0 145.1 L403.0 139.3 L404.0 131.5 L405.0 125.6 L406.0 122.2 L407.0 119.6 L408.0 115.6 L409.0 113.5 L410.0 111.7 L411.0 111.4 L412.0 112.8 L413.0 112.7 L414.0 111.9 L415.0 112.5 L416.0 114.5 L417.0 115.9 L418.0 118.4 L419.0 120.7 L420.0 123.3 L421.0 129.1 L422.0 134.4 L423.0 138.3 L424.0 144.0 L425.0 147.0 L426.0 150.1 L427.0 156.6 L428.0 162.4 L429.0 166.4 L430.0 171.4 L431.0 176.0 L432.0 177.7 L433.0 180.0 L434.0 184.9 L435.0 188.6 L436.0 188.1 L437.0 190.4 L438.0 193.5 L439.0 193.7 L440.0 192.5 L441.0 189.9 L442.0 187.6 L443.0 187.9 L444.0 185.9 L445.0 181.6 L446.0 177.1 L447.0 171.3 L448.0 165.3 L449.0 159.3 L450.0 156.0 L451.0 149.1 L452.0 142.8 L453.0 137.8 L454.0 129.3 L455.0 122.0 L456.0 116.2 L457.0 110.4 L458.0 104.4 L459.0 98.1 L460.0 93.2 L461.0 88.5 L462.0 83.7 L463.0 81.4 L464.0 80.9 L465.0 77.9 L466.0 76.3 L467.0 77.3 L468.0 77.4 L469.0 80.7 L470.0 84.0 L471.0 88.3 L472.0 92.7 L473.0 97.1 L474.0 103.8 L475.0 109.6 L476.0 117.9 L477.0 126.6 L478.0 135.2 L479.0 144.4 L480.0 152.3 L481.0 161.9 L482.0 172.9 L483.0 183.9 L484.0 193.1 L485.0 202.3 L486.0 211.6 L487.0 222.2 L488.0 232.5 L489.0 239.8 L490.0 250.0 L491.0 261.7 L492.0 269.0 L493.0 275.2 L494.0 283.8 L495.0 291.3 L496.0 299.4 L497.0 306.4 L498.0 311.6 L499.0 318.6 L500.0 324.0 L501.0 328.8 L502.0 333.1 L503.0 335.7 L504.0 338.7 L505.0 344.8 L506.0 349.2 L507.0 350.4 L508.0 353.0 L509.0 355.0 L510.0 356.8 L511.0 360.0 L512.0 360.3 L513.0 358.3 L514.0 359.3 L515.0 360.3 L516.0 362.7 L517.0 365.3 L518.0 364.4 L519.0 362.9 L520.0 364.1 L521.0 367.2 L522.0 365.5 L523.0 365.3 L524.0 367.5 L525.0 368.7 L526.0 369.3 L527.0 368.8 L528.0 369.1 L529.0 369.1 L530.0 372.4 L531.0 374.8 L532.0 373.8 L533.0 372.8 L534.0 372.0 L535.0 373.0 L536.0 375.2 L537.0 375.9 L538.0 376.3 L539.0 375.7 L540.0 376.0 L541.0 377.3 L542.0 378.8 L543.0 380.8 L544.0 379.7 L545.0 377.4 L546.0 377.7 L547.0 378.0 L548.0 377.5 L549.0 378.1 L550.0 377.9 L551.0 378.6 L552.0 379.6 L553.0 379.4 L554.0 379.4 L555.0 378.6 L556.0 377.9 L557.0 378.5 L558.0 378.9 L559.0 379.4 L560.0 380.0 L561.0 378.6 L562.0 378.8 L563.0 378.8 L564.0 378.3 L565.0 379.3 L566.0 378.1 L567.0 378.5" fill="none" stroke="#000" stroke-width="2.6" stroke-linejoin="round"/>
<path d="M29.0 359.2h0M34.0 359.4h0M39.0 358.8h0M44.0 359.8h0M49.0 359.6h0M54.0 360.6h0M59.0 359.1h0M64.0 361.4h0M69.0 361.8h0M74.0 361.9h0M79.0 362.0h0M84.0 363.8h0M89.0 361.5h0M94.0 364.7h0M99.0 365.0h0M104.0 365.5h0M109.0 366.2h0M114.0 365.3h0M119.0 366.3h0M124.0 368.0h0M129.0 368.2h0M134.0 368.4h0M139.0 366.7h0M144.0 369.9h0M149.0 371.2h0M154.0 371.1h0M159.0 370.0h0M164.0 367.7h0M169.0 370.9h0M174.0 369.4h0M179.0 366.3h0M184.0 370.0h0M189.0 367.5h0M194.0 367.7h0M199.0 368.5h0M204.0 370.9h0M209.0 368.6h0M214.0 369.3h0M219.0 371.1h0M224.0 370.7h0M229.0 368.2h0M234.0 367.6h0M239.0 365.7h0M244.0 365.4h0M249.0 365.0h0M254.0 361.6h0M259.0 355.3h0M264.0 346.8h0M269.0 330.0h0M274.0 311.0h0M279.0 287.4h0M284.0 260.2h0M289.0 235.5h0M294.0 215.8h0M299.0 207.1h0M304.0 212.9h0M309.0 225.9h0M314.0 244.2h0M319.0 265.4h0M324.0 278.1h0M329.0 285.8h0M334.0 285.0h0M339.0 285.4h0M344.0 283.8h0M349.0 284.5h0M354.0 286.9h0M359.0 295.5h0M364.0 302.7h0M369.0 304.0h0M374.0 297.9h0M379.0 285.1h0M384.0 263.2h0M389.0 227.8h0M394.0 195.8h0M399.0 161.6h0M404.0 132.9h0M409.0 116.6h0M414.0 112.8h0M419.0 122.6h0M424.0 143.3h0M429.0 167.4h0M434.0 184.3h0M439.0 191.9h0M444.0 184.9h0M449.0 163.8h0M454.0 129.8h0M459.0 99.3h0M464.0 80.4h0M469.0 82.6h0M474.0 103.6h0M479.0 145.8h0M484.0 191.8h0M489.0 242.2h0M494.0 285.3h0M499.0 319.8h0M504.0 342.8h0M509.0 352.9h0M514.0 360.4h0M519.0 365.5h0M524.0 367.2h0M529.0 369.4h0M534.0 375.9h0M539.0 377.4h0M544.0 378.7h0M549.0 378.2h0M554.0 380.7h0M559.0 379.4h0M564.0 381.5h0" stroke="#000" stroke-width="3.8" stroke-linecap="round" fill="none"/>
<path d="M29.0 675.0 L30.0 675.0 L31.0 675.0 L32.0 675.1 L33.0 675.1 L34.0 675.1 L35.0 675.1 L36.0 675.2 L37.0 675.2 L38.0 675.2 L39.0 675.2 L40.0 675.3 L41.0 675.3 L42.0 675.3 L43.0 675.3 L44.0 675.4 L45.0 675.4 L46.0 675.4 L47.0 675.4 L48.0 675.4 L49.0 675.5 L50.0 675.5 L51.0 675.5 L52.0 675.5 L53.0 675.6 L54.0 675.6 L55.0 675.6 L56.0 675.6 L57.0 675.7 L58.0 675.7 L59.0 675.7 L60.0 675.7 L61.0 675.7 L62.0 675.8 L63.0 675.8 L64.0 675.8 L65.0 675.8 L66.0 675.9 L67.0 675.9 L68.0 675.9 L69.0 675.9 L70.0 676.0 L71.0 676.0 L72.0 676.0 L73.0 676.0 L74.0 676.1 L75.0 676.1 L76.0 676.1 L77.0 676.1 L78.0 676.1 L79.0 676.2 L80.0 676.2 L81.0 676.2 L82.0 676.2 L83.0 676.3 L84.0 676.3 L85.0 676.3 L86.0 676.3 L87.0 676.4 L88.0 676.4 L89.0 676.4 L90.0 676.4 L91.0 676.5 L92.0 676.5 L93.0 676.5 L94.0 676.5 L95.0 676.5 L96.0 676.6 L97.0 676.6 L98.0 676.6 L99.0 676.6 L100.0 676.7 L101.0 676.7 L102.0 676.7 L103.0 676.7 L104.0 676.8 L105.0 676.8 L106.0 676.8 L107.0 676.8 L108.0 676.8 L109.0 676.9 L110.0 676.9 L111.0 676.9 L112.0 676.9 L113.0 677.0 L114.0 677.0 L115.0 677.0 L116.0 677.0 L117.0 677.1 L118.0 677.1 L119.0 677.1 L120.0 677.1 L121.0 677.2 L122.0 677.2 L123.0 677.2 L124.0 677.2 L125.0 677.2 L126.0 677.3 L127.0 677.3 L128.0 677.3 L129.0 677.3 L130.0 677.4 L131.0 677.4 L132.0 677.4 L133.0 677.4 L134.0 677.5 L135.0 677.5 L136.0 677.5 L137.0 677.5 L138.0 677.5 L139.0 677.6 L140.0 677.6 L141.0 677.6 L142.0 677.6 L143.0 677.7 L144.0 677.7 L145.0 677.7 L146.0 677.7 L147.0 677.8 L148.0 677.8 L149.0 677.8 L150.0 677.8 L151.0 677.9 L152.0 677.9 L153.0 677.9 L154.0 677.9 L155.0 677.9 L156.0 678.0 L157.0 678.0 L158.0 678.0 L159.0 678.0 L160.0 678.1 L161.0 678.1 L162.0 678.1 L163.0 678.1 L164.0 678.2 L165.0 678.2 L166.0 678.2 L167.0 678.2 L168.0 678.3 L169.0 678.3 L170.0 678.3 L171.0 678.3 L172.0 678.3 L173.0 678.4 L174.0 678.4 L175.0 678.4 L176.0 678.4 L177.0 678.5 L178.0 678.5 L179.0 678.5 L180.0 678.5 L181.0 678.6 L182.0 678.6 L183.0 678.6 L184.0 678.6 L185.0 678.6 L186.0 678.7 L187.0 678.7 L188.0 678.7 L189.0 678.7 L190.0 678.8 L191.0 678.8 L192.0 678.8 L193.0 678.8 L194.0 678.9 L195.0 678.9 L196.0 678.9 L197.0 678.9 L198.0 679.0 L199.0 679.0 L200.0 679.0 L201.0 679.0 L202.0 679.1 L203.0 679.1 L204.0 679.1 L205.0 679.1 L206.0 679.2 L207.0 679.2 L208.0 679.2 L209.0 679.3 L210.0 679.3 L211.0 679.3 L212.0 679.4 L213.0 679.4 L214.0 679.4 L215.0 679.5 L216.0 679.5 L217.0 679.5 L218.0 679.5 L219.0 679.6 L220.0 679.6 L221.0 679.6 L222.0 679.7 L223.0 679.7 L224.0 679.7 L225.0 679.8 L226.0 679.8 L227.0 679.8 L228.0 679.8 L229.0 679.9 L230.0 679.9 L231.0 679.9 L232.0 680.0 L233.0 680.0 L234.0 680.0 L235.0 680.0 L236.0 680.1 L237.0 680.1 L238.0 680.1 L239.0 680.2 L240.0 680.2 L241.0 680.2 L242.0 680.3 L243.0 680.3 L244.0 680.3 L245.0 680.4 L246.0 680.4 L247.0 680.4 L248.0 680.4 L249.0 680.5 L250.0 680.5 L251.0 680.5 L252.0 680.6 L253.0 680.6 L254.0 680.6 L255.0 680.6 L256.0 680.7 L257.0 680.7 L258.0 680.7 L259.0 680.8 L260.0 680.8 L261.0 680.8 L262.0 680.9 L263.0 680.9 L264.0 680.9 L265.0 681.0 L266.0 681.0 L267.0 681.0 L268.0 681.0 L269.0 681.1 L270.0 681.1 L271.0 681.1 L272.0 681.2 L273.0 681.2 L274.0 681.2 L275.0 681.2 L276.0 681.3 L277.0 681.3 L278.0 681.3 L279.0 681.4 L280.0 681.4 L281.0 681.4 L282.0 681.5 L283.0 681.5 L284.0 681.5 L285.0 681.5 L286.0 681.6 L287.0 681.6 L288.0 681.6 L289.0 681.7 L290.0 681.7 L291.0 681.7 L292.0 681.8 L293.0 681.8 L294.0 681.8 L295.0 681.9 L296.0 681.9 L297.0 681.9 L298.0 681.9 L299.0 682.0 L300.0 682.0 L301.0 682.1 L302.0 682.1 L303.0 682.2 L304.0 682.2 L305.0 682.3 L306.0 682.4 L307.0 682.4 L308.0 682.5 L309.0 682.5 L310.0 682.6 L311.0 682.7 L312.0 682.7 L313.0 682.8 L314.0 682.8 L315.0 682.9 L316.0 683.0 L317.0 683.0 L318.0 683.1 L319.0 683.1 L320.0 683.2 L321.0 683.3 L322.0 683.3 L323.0 683.4 L324.0 683.4 L325.0 683.5 L326.0 683.6 L327.0 683.6 L328.0 683.7 L329.0 683.7 L330.0 683.8 L331.0 683.9 L332.0 683.9 L333.0 684.0 L334.0 684.0 L335.0 684.1 L336.0 684.2 L337.0 684.2 L338.0 684.3 L339.0 684.3 L340.0 684.4 L341.0 684.5 L342.0 684.5 L343.0 684.6 L344.0 684.6 L345.0 684.7 L346.0 684.8 L347.0 684.8 L348.0 684.9 L349.0 684.9 L350.0 685.0 L351.0 685.1 L352.0 685.1 L353.0 685.2 L354.0 685.2 L355.0 685.3 L356.0 685.4 L357.0 685.4 L358.0 685.5 L359.0 685.5 L360.0 685.6 L361.0 685.7 L362.0 685.7 L363.0 685.8 L364.0 685.8 L365.0 685.9 L366.0 686.0 L367.0 686.0 L368.0 686.1 L369.0 686.1 L370.0 686.2 L371.0 686.3 L372.0 686.3 L373.0 686.4 L374.0 686.4 L375.0 686.5 L376.0 686.6 L377.0 686.6 L378.0 686.7 L379.0 686.7 L380.0 686.8 L381.0 686.9 L382.0 686.9 L383.0 687.0 L384.0 687.0 L385.0 687.1 L386.0 687.2 L387.0 687.2 L388.0 687.3 L389.0 687.3 L390.0 687.4 L391.0 687.5 L392.0 687.5 L393.0 687.6 L394.0 687.6 L395.0 687.7 L396.0 687.8 L397.0 687.8 L398.0 687.9 L399.0 687.9 L400.0 688.0 L401.0 688.1 L402.0 688.1 L403.0 688.2 L404.0 688.2 L405.0 688.3 L406.0 688.3 L407.0 688.4 L408.0 688.5 L409.0 688.5 L410.0 688.6 L411.0 688.6 L412.0 688.7 L413.0 688.7 L414.0 688.8 L415.0 688.8 L416.0 688.9 L417.0 689.0 L418.0 689.0 L419.0 689.1 L420.0 689.1 L421.0 689.2 L422.0 689.2 L423.0 689.3 L424.0 689.4 L425.0 689.4 L426.0 689.5 L427.0 689.5 L428.0 689.6 L429.0 689.6 L430.0 689.7 L431.0 689.7 L432.0 689.8 L433.0 689.9 L434.0 689.9 L435.0 690.0 L436.0 690.0 L437.0 690.1 L438.0 690.1 L439.0 690.2 L440.0 690.2 L441.0 690.3 L442.0 690.4 L443.0 690.4 L444.0 690.5 L445.0 690.5 L446.0 690.6 L447.0 690.6 L448.0 690.7 L449.0 690.8 L450.0 690.8 L451.0 690.9 L452.0 690.9 L453.0 691.0 L454.0 691.0 L455.0 691.1 L456.0 691.1 L457.0 691.2 L458.0 691.3 L459.0 691.3 L460.0 691.4 L461.0 691.4 L462.0 691.5 L463.0 691.5 L464.0 691.6 L465.0 691.7 L466.0 691.7 L467.0 691.8 L468.0 691.8 L469.0 691.9 L470.0 691.9 L471.0 692.0 L472.0 692.0 L473.0 692.1 L474.0 692.2 L475.0 692.2 L476.0 692.3 L477.0 692.3 L478.0 692.4 L479.0 692.4 L480.0 692.5 L481.0 692.5 L482.0 692.5 L483.0 692.6 L484.0 692.6 L485.0 692.6 L486.0 692.6 L487.0 692.6 L488.0 692.6 L489.0 692.7 L490.0 692.7 L491.0 692.7 L492.0 692.7 L493.0 692.7 L494.0 692.7 L495.0 692.8 L496.0 692.8 L497.0 692.8 L498.0 692.8 L499.0 692.8 L500.0 692.8 L501.0 692.9 L502.0 692.9 L503.0 692.9 L504.0 692.9 L505.0 692.9 L506.0 692.9 L507.0 693.0 L508.0 693.0 L509.0 693.0 L510.0 693.0 L511.0 693.0 L512.0 693.0 L513.0 693.1 L514.0 693.1 L515.0 693.1 L516.0 693.1 L517.0 693.1 L518.0 693.2 L519.0 693.2 L520.0 693.2 L521.0 693.2 L522.0 693.2 L523.0 693.2 L524.0 693.3 L525.0 693.3 L526.0 693.3 L527.0 693.3 L528.0 693.3 L529.0 693.3 L530.0 693.4 L531.0 693.4 L532.0 693.4 L533.0 693.4 L534.0 693.4 L535.0 693.4 L536.0 693.5 L537.0 693.5 L538.0 693.5 L539.0 693.5 L540.0 693.5 L541.0 693.5 L542.0 693.6 L543.0 693.6 L544.0 693.6 L545.0 693.6 L546.0 693.6 L547.0 693.6 L548.0 693.7 L549.0 693.7 L550.0 693.7 L551.0 693.7 L552.0 693.7 L553.0 693.8 L554.0 693.8 L555.0 693.8 L556.0 693.8 L557.0 693.8 L558.0 693.8 L559.0 693.9 L560.0 693.9 L561.0 693.9 L562.0 693.9 L563.0 693.9 L564.0 693.9 L565.0 694.0 L566.0 694.0 L567.0 694.0" fill="none" stroke="#000" stroke-width="1.9"/>
<path d="M110.0 676.4 L111.0 676.3 L112.0 676.3 L113.0 676.3 L114.0 676.2 L115.0 676.2 L116.0 676.1 L117.0 676.1 L118.0 676.0 L119.0 675.9 L120.0 675.8 L121.0 675.7 L122.0 675.5 L123.0 675.4 L124.0 675.2 L125.0 675.0 L126.0 674.8 L127.0 674.5 L128.0 674.3 L129.0 674.0 L130.0 673.7 L131.0 673.3 L132.0 672.9 L133.0 672.5 L134.0 672.0 L135.0 671.5 L136.0 670.9 L137.0 670.3 L138.0 669.7 L139.0 669.0 L140.0 668.2 L141.0 667.4 L142.0 666.5 L143.0 665.6 L144.0 664.6 L145.0 663.5 L146.0 662.4 L147.0 661.2 L148.0 660.0 L149.0 658.7 L150.0 657.3 L151.0 655.8 L152.0 654.3 L153.0 652.7 L154.0 651.1 L155.0 649.4 L156.0 647.6 L157.0 645.8 L158.0 644.0 L159.0 642.1 L160.0 640.1 L161.0 638.1 L162.0 636.1 L163.0 634.0 L164.0 632.0 L165.0 629.9 L166.0 627.8 L167.0 625.7 L168.0 623.6 L169.0 621.5 L170.0 619.5 L171.0 617.5 L172.0 615.5 L173.0 613.6 L174.0 611.8 L175.0 610.0 L176.0 608.3 L177.0 606.7 L178.0 605.2 L179.0 603.8 L180.0 602.5 L181.0 601.3 L182.0 600.2 L183.0 599.3 L184.0 598.5 L185.0 597.9 L186.0 597.4 L187.0 597.0 L188.0 596.8 L189.0 596.7 L190.0 596.8 L191.0 597.1 L192.0 597.5 L193.0 598.0 L194.0 598.7 L195.0 599.6 L196.0 600.5 L197.0 601.7 L198.0 602.9 L199.0 604.2 L200.0 605.7 L201.0 607.3 L202.0 608.9 L203.0 610.7 L204.0 612.5 L205.0 614.4 L206.0 616.4 L207.0 618.4 L208.0 620.4 L209.0 622.5 L210.0 624.7 L211.0 626.8 L212.0 628.9 L213.0 631.1 L214.0 633.2 L215.0 635.3 L216.0 637.5 L217.0 639.5 L218.0 641.6 L219.0 643.6 L220.0 645.6 L221.0 647.5 L222.0 649.3 L223.0 651.1 L224.0 652.9 L225.0 654.6 L226.0 656.2 L227.0 657.8 L228.0 659.3 L229.0 660.7 L230.0 662.1 L231.0 663.4 L232.0 664.6 L233.0 665.8 L234.0 666.9 L235.0 668.0 L236.0 669.0 L237.0 669.9 L238.0 670.7 L239.0 671.6 L240.0 672.3 L241.0 673.0 L242.0 673.7 L243.0 674.3 L244.0 674.9 L245.0 675.4 L246.0 675.9 L247.0 676.3 L248.0 676.7 L249.0 677.1 L250.0 677.5 L251.0 677.8 L252.0 678.1 L253.0 678.3 L254.0 678.6 L255.0 678.8 L256.0 679.0 L257.0 679.2 L258.0 679.4 L259.0 679.5 L260.0 679.7 L261.0 679.8 L262.0 680.0 L263.0 680.1 L264.0 680.2 L265.0 680.3 L266.0 680.4 L267.0 680.4 L268.0 680.5 L268.0 681.0 L260.0 680.8 L252.0 680.6 L244.0 680.3 L236.0 680.1 L228.0 679.8 L220.0 679.6 L212.0 679.4 L204.0 679.1 L196.0 678.9 L188.0 678.7 L180.0 678.5 L172.0 678.3 L164.0 678.2 L156.0 678.0 L148.0 677.8 L140.0 677.6 L132.0 677.4 L124.0 677.2 L116.0 677.0Z" fill="#fff" stroke="#000" stroke-width="1.9" stroke-linejoin="round"/>
<path d="M29.0 673.3 L30.0 673.2 L31.0 673.0 L32.0 672.9 L33.0 672.7 L34.0 672.5 L35.0 672.3 L36.0 672.1 L37.0 671.8 L38.0 671.6 L39.0 671.3 L40.0 671.0 L41.0 670.7 L42.0 670.3 L43.0 670.0 L44.0 669.6 L45.0 669.2 L46.0 668.7 L47.0 668.3 L48.0 667.8 L49.0 667.3 L50.0 666.8 L51.0 666.2 L52.0 665.6 L53.0 665.0 L54.0 664.3 L55.0 663.7 L56.0 663.0 L57.0 662.3 L58.0 661.5 L59.0 660.8 L60.0 660.0 L61.0 659.2 L62.0 658.4 L63.0 657.5 L64.0 656.7 L65.0 655.8 L66.0 654.9 L67.0 654.0 L68.0 653.1 L69.0 652.2 L70.0 651.3 L71.0 650.4 L72.0 649.5 L73.0 648.5 L74.0 647.6 L75.0 646.8 L76.0 645.9 L77.0 645.0 L78.0 644.2 L79.0 643.3 L80.0 642.6 L81.0 641.8 L82.0 641.1 L83.0 640.4 L84.0 639.7 L85.0 639.1 L86.0 638.5 L87.0 638.0 L88.0 637.5 L89.0 637.1 L90.0 636.7 L91.0 636.3 L92.0 636.1 L93.0 635.9 L94.0 635.7 L95.0 635.6 L96.0 635.6 L97.0 635.6 L98.0 635.7 L99.0 635.8 L100.0 636.0 L101.0 636.3 L102.0 636.6 L103.0 637.0 L104.0 637.4 L105.0 637.9 L106.0 638.4 L107.0 639.0 L108.0 639.6 L109.0 640.3 L110.0 641.0 L111.0 641.7 L112.0 642.5 L113.0 643.3 L114.0 644.2 L115.0 645.0 L116.0 645.9 L117.0 646.8 L118.0 647.8 L119.0 648.7 L120.0 649.6 L121.0 650.6 L122.0 651.6 L123.0 652.5 L124.0 653.5 L125.0 654.4 L126.0 655.4 L127.0 656.3 L128.0 657.3 L129.0 658.2 L130.0 659.1 L131.0 660.0 L132.0 660.9 L133.0 661.7 L134.0 662.5 L135.0 663.3 L136.0 664.1 L137.0 664.9 L138.0 665.6 L139.0 666.3 L140.0 667.0 L141.0 667.7 L142.0 668.3 L143.0 668.9 L144.0 669.5 L145.0 670.1 L146.0 670.6 L147.0 671.1 L148.0 671.6 L149.0 672.0 L150.0 672.5 L151.0 672.9 L152.0 673.3 L153.0 673.6 L154.0 674.0 L155.0 674.3 L156.0 674.6 L157.0 674.9 L158.0 675.2 L159.0 675.4 L160.0 675.7 L161.0 675.9 L162.0 676.1 L163.0 676.3 L164.0 676.5 L165.0 676.6 L166.0 676.8 L167.0 676.9 L168.0 677.1 L169.0 677.2 L170.0 677.3 L171.0 677.4 L172.0 677.5 L173.0 677.6 L174.0 677.7 L175.0 677.8 L176.0 677.9 L177.0 677.9 L177.0 678.5 L169.0 678.3 L161.0 678.1 L153.0 677.9 L145.0 677.7 L137.0 677.5 L129.0 677.3 L121.0 677.2 L113.0 677.0 L105.0 676.8 L97.0 676.6 L89.0 676.4 L81.0 676.2 L73.0 676.0 L65.0 675.8 L57.0 675.7 L49.0 675.5 L41.0 675.3 L33.0 675.1Z" fill="#fff" stroke="#000" stroke-width="1.9" stroke-linejoin="round"/>
<path d="M356.0 684.8 L357.0 684.9 L358.0 684.9 L359.0 685.0 L360.0 685.0 L361.0 685.0 L362.0 685.1 L363.0 685.1 L364.0 685.1 L365.0 685.1 L366.0 685.2 L367.0 685.2 L368.0 685.2 L369.0 685.2 L370.0 685.2 L371.0 685.2 L372.0 685.1 L373.0 685.1 L374.0 685.1 L375.0 685.0 L376.0 685.0 L377.0 684.9 L378.0 684.8 L379.0 684.7 L380.0 684.6 L381.0 684.5 L382.0 684.3 L383.0 684.1 L384.0 683.9 L385.0 683.7 L386.0 683.4 L387.0 683.1 L388.0 682.8 L389.0 682.5 L390.0 682.1 L391.0 681.6 L392.0 681.2 L393.0 680.6 L394.0 680.1 L395.0 679.4 L396.0 678.8 L397.0 678.0 L398.0 677.2 L399.0 676.3 L400.0 675.4 L401.0 674.4 L402.0 673.3 L403.0 672.1 L404.0 670.9 L405.0 669.5 L406.0 668.1 L407.0 666.5 L408.0 664.9 L409.0 663.2 L410.0 661.3 L411.0 659.4 L412.0 657.3 L413.0 655.1 L414.0 652.9 L415.0 650.5 L416.0 648.0 L417.0 645.3 L418.0 642.6 L419.0 639.7 L420.0 636.8 L421.0 633.7 L422.0 630.5 L423.0 627.2 L424.0 623.8 L425.0 620.2 L426.0 616.6 L427.0 612.9 L428.0 609.1 L429.0 605.3 L430.0 601.3 L431.0 597.3 L432.0 593.2 L433.0 589.1 L434.0 585.0 L435.0 580.8 L436.0 576.6 L437.0 572.4 L438.0 568.2 L439.0 564.0 L440.0 559.9 L441.0 555.8 L442.0 551.7 L443.0 547.7 L444.0 543.9 L445.0 540.1 L446.0 536.4 L447.0 532.8 L448.0 529.4 L449.0 526.1 L450.0 523.1 L451.0 520.1 L452.0 517.4 L453.0 514.9 L454.0 512.6 L455.0 510.5 L456.0 508.6 L457.0 507.0 L458.0 505.6 L459.0 504.4 L460.0 503.6 L461.0 503.0 L462.0 502.6 L463.0 502.5 L464.0 502.7 L465.0 503.2 L466.0 503.9 L467.0 504.9 L468.0 506.1 L469.0 507.6 L470.0 509.4 L471.0 511.4 L472.0 513.6 L473.0 516.0 L474.0 518.6 L475.0 521.5 L476.0 524.5 L477.0 527.7 L478.0 531.1 L479.0 534.6 L480.0 538.3 L481.0 542.0 L482.0 545.9 L483.0 549.9 L484.0 553.9 L485.0 558.0 L486.0 562.2 L487.0 566.4 L488.0 570.7 L489.0 575.0 L490.0 579.2 L491.0 583.5 L492.0 587.8 L493.0 592.0 L494.0 596.2 L495.0 600.3 L496.0 604.4 L497.0 608.4 L498.0 612.4 L499.0 616.2 L500.0 620.0 L501.0 623.7 L502.0 627.3 L503.0 630.8 L504.0 634.1 L505.0 637.4 L506.0 640.6 L507.0 643.6 L508.0 646.6 L509.0 649.4 L510.0 652.1 L511.0 654.7 L512.0 657.1 L513.0 659.5 L514.0 661.7 L515.0 663.9 L516.0 665.9 L517.0 667.8 L518.0 669.6 L519.0 671.3 L520.0 672.9 L521.0 674.4 L522.0 675.8 L523.0 677.2 L524.0 678.4 L525.0 679.6 L526.0 680.7 L527.0 681.7 L528.0 682.7 L529.0 683.5 L530.0 684.4 L531.0 685.1 L532.0 685.8 L533.0 686.5 L534.0 687.1 L535.0 687.6 L536.0 688.1 L537.0 688.6 L538.0 689.0 L539.0 689.4 L540.0 689.8 L541.0 690.1 L542.0 690.4 L543.0 690.7 L544.0 691.0 L545.0 691.2 L546.0 691.4 L547.0 691.6 L548.0 691.8 L549.0 692.0 L550.0 692.1 L551.0 692.3 L552.0 692.4 L553.0 692.5 L554.0 692.6 L555.0 692.7 L556.0 692.8 L557.0 692.9 L558.0 692.9 L559.0 693.0 L560.0 693.1 L561.0 693.1 L562.0 693.2 L563.0 693.2 L564.0 693.3 L565.0 693.3 L566.0 693.4 L567.0 693.4 L567.0 694.0 L559.0 693.9 L551.0 693.7 L543.0 693.6 L535.0 693.4 L527.0 693.3 L519.0 693.2 L511.0 693.0 L503.0 692.9 L495.0 692.8 L487.0 692.6 L479.0 692.4 L471.0 692.0 L463.0 691.5 L455.0 691.1 L447.0 690.6 L439.0 690.2 L431.0 689.7 L423.0 689.3 L415.0 688.8 L407.0 688.4 L399.0 687.9 L391.0 687.5 L383.0 687.0 L375.0 686.5 L367.0 686.0 L359.0 685.5Z" fill="#fff" stroke="#000" stroke-width="1.9" stroke-linejoin="round"/>
<path d="M343.0 684.1 L344.0 684.1 L345.0 684.1 L346.0 684.1 L347.0 684.0 L348.0 684.0 L349.0 684.0 L350.0 683.9 L351.0 683.8 L352.0 683.7 L353.0 683.6 L354.0 683.5 L355.0 683.4 L356.0 683.2 L357.0 683.0 L358.0 682.8 L359.0 682.6 L360.0 682.4 L361.0 682.1 L362.0 681.7 L363.0 681.4 L364.0 681.0 L365.0 680.6 L366.0 680.1 L367.0 679.6 L368.0 679.1 L369.0 678.5 L370.0 677.9 L371.0 677.3 L372.0 676.6 L373.0 675.8 L374.0 675.0 L375.0 674.2 L376.0 673.3 L377.0 672.4 L378.0 671.5 L379.0 670.5 L380.0 669.4 L381.0 668.4 L382.0 667.3 L383.0 666.2 L384.0 665.0 L385.0 663.9 L386.0 662.7 L387.0 661.5 L388.0 660.3 L389.0 659.1 L390.0 658.0 L391.0 656.8 L392.0 655.6 L393.0 654.5 L394.0 653.4 L395.0 652.4 L396.0 651.3 L397.0 650.4 L398.0 649.5 L399.0 648.6 L400.0 647.8 L401.0 647.1 L402.0 646.5 L403.0 645.9 L404.0 645.4 L405.0 645.1 L406.0 644.8 L407.0 644.6 L408.0 644.5 L409.0 644.5 L410.0 644.6 L411.0 644.8 L412.0 645.1 L413.0 645.5 L414.0 646.0 L415.0 646.6 L416.0 647.3 L417.0 648.0 L418.0 648.8 L419.0 649.7 L420.0 650.7 L421.0 651.7 L422.0 652.8 L423.0 653.9 L424.0 655.1 L425.0 656.3 L426.0 657.6 L427.0 658.9 L428.0 660.1 L429.0 661.4 L430.0 662.7 L431.0 664.0 L432.0 665.3 L433.0 666.6 L434.0 667.9 L435.0 669.2 L436.0 670.4 L437.0 671.6 L438.0 672.8 L439.0 673.9 L440.0 675.0 L441.0 676.1 L442.0 677.1 L443.0 678.1 L444.0 679.1 L445.0 680.0 L446.0 680.8 L447.0 681.6 L448.0 682.4 L449.0 683.1 L450.0 683.8 L451.0 684.5 L452.0 685.1 L453.0 685.7 L454.0 686.2 L455.0 686.7 L456.0 687.2 L457.0 687.6 L458.0 688.0 L459.0 688.4 L460.0 688.7 L461.0 689.1 L462.0 689.4 L463.0 689.6 L464.0 689.9 L465.0 690.1 L466.0 690.3 L467.0 690.5 L468.0 690.7 L469.0 690.9 L470.0 691.1 L471.0 691.2 L472.0 691.3 L473.0 691.5 L474.0 691.6 L475.0 691.7 L475.0 692.2 L467.0 691.8 L459.0 691.3 L451.0 690.9 L443.0 690.4 L435.0 690.0 L427.0 689.5 L419.0 689.1 L411.0 688.6 L403.0 688.2 L395.0 687.7 L387.0 687.2 L379.0 686.7 L371.0 686.3 L363.0 685.8 L355.0 685.3 L347.0 684.8Z" fill="#ffff00" stroke="#000" stroke-width="1.9" stroke-linejoin="round"/>
<path d="M215.0 678.9 L216.0 679.0 L217.0 679.0 L218.0 679.0 L219.0 679.0 L220.0 679.0 L221.0 679.0 L222.0 679.0 L223.0 678.9 L224.0 678.9 L225.0 678.9 L226.0 678.9 L227.0 678.8 L228.0 678.8 L229.0 678.7 L230.0 678.7 L231.0 678.6 L232.0 678.5 L233.0 678.4 L234.0 678.3 L235.0 678.1 L236.0 678.0 L237.0 677.8 L238.0 677.6 L239.0 677.4 L240.0 677.1 L241.0 676.8 L242.0 676.5 L243.0 676.1 L244.0 675.7 L245.0 675.3 L246.0 674.8 L247.0 674.2 L248.0 673.6 L249.0 672.9 L250.0 672.2 L251.0 671.4 L252.0 670.5 L253.0 669.5 L254.0 668.5 L255.0 667.3 L256.0 666.1 L257.0 664.7 L258.0 663.3 L259.0 661.7 L260.0 660.0 L261.0 658.1 L262.0 656.2 L263.0 654.0 L264.0 651.8 L265.0 649.3 L266.0 646.8 L267.0 644.0 L268.0 641.1 L269.0 638.0 L270.0 634.7 L271.0 631.3 L272.0 627.6 L273.0 623.8 L274.0 619.8 L275.0 615.5 L276.0 611.1 L277.0 606.6 L278.0 601.8 L279.0 596.8 L280.0 591.7 L281.0 586.3 L282.0 580.9 L283.0 575.2 L284.0 569.4 L285.0 563.4 L286.0 557.4 L287.0 551.2 L288.0 544.8 L289.0 538.4 L290.0 532.0 L291.0 525.4 L292.0 518.8 L293.0 512.2 L294.0 505.6 L295.0 499.0 L296.0 492.5 L297.0 486.0 L298.0 479.6 L299.0 473.3 L300.0 467.1 L301.0 461.1 L302.0 455.3 L303.0 449.7 L304.0 444.3 L305.0 439.2 L306.0 434.3 L307.0 429.7 L308.0 425.4 L309.0 421.5 L310.0 417.9 L311.0 414.6 L312.0 411.8 L313.0 409.3 L314.0 407.2 L315.0 405.6 L316.0 404.3 L317.0 403.5 L318.0 403.1 L319.0 403.2 L320.0 403.7 L321.0 404.6 L322.0 406.0 L323.0 407.7 L324.0 409.9 L325.0 412.5 L326.0 415.5 L327.0 418.9 L328.0 422.6 L329.0 426.7 L330.0 431.1 L331.0 435.8 L332.0 440.8 L333.0 446.1 L334.0 451.6 L335.0 457.3 L336.0 463.2 L337.0 469.3 L338.0 475.6 L339.0 482.0 L340.0 488.5 L341.0 495.1 L342.0 501.7 L343.0 508.4 L344.0 515.1 L345.0 521.8 L346.0 528.5 L347.0 535.1 L348.0 541.7 L349.0 548.1 L350.0 554.5 L351.0 560.8 L352.0 567.0 L353.0 573.1 L354.0 578.9 L355.0 584.7 L356.0 590.3 L357.0 595.7 L358.0 600.9 L359.0 606.0 L360.0 610.8 L361.0 615.5 L362.0 620.0 L363.0 624.3 L364.0 628.4 L365.0 632.4 L366.0 636.1 L367.0 639.6 L368.0 643.0 L369.0 646.2 L370.0 649.2 L371.0 652.0 L372.0 654.7 L373.0 657.2 L374.0 659.6 L375.0 661.8 L376.0 663.9 L377.0 665.8 L378.0 667.6 L379.0 669.3 L380.0 670.8 L381.0 672.3 L382.0 673.6 L383.0 674.8 L384.0 676.0 L385.0 677.0 L386.0 678.0 L387.0 678.9 L388.0 679.8 L389.0 680.5 L390.0 681.2 L391.0 681.9 L392.0 682.4 L393.0 683.0 L394.0 683.5 L395.0 683.9 L396.0 684.3 L397.0 684.7 L398.0 685.1 L399.0 685.4 L400.0 685.7 L401.0 686.0 L402.0 686.2 L403.0 686.4 L404.0 686.6 L405.0 686.8 L406.0 687.0 L407.0 687.2 L408.0 687.3 L409.0 687.5 L410.0 687.6 L411.0 687.7 L412.0 687.8 L413.0 687.9 L414.0 688.0 L415.0 688.1 L416.0 688.2 L417.0 688.3 L418.0 688.4 L419.0 688.5 L420.0 688.6 L421.0 688.7 L422.0 688.7 L422.0 689.2 L414.0 688.8 L406.0 688.3 L398.0 687.9 L390.0 687.4 L382.0 686.9 L374.0 686.4 L366.0 686.0 L358.0 685.5 L350.0 685.0 L342.0 684.5 L334.0 684.0 L326.0 683.6 L318.0 683.1 L310.0 682.6 L302.0 682.1 L294.0 681.8 L286.0 681.6 L278.0 681.3 L270.0 681.1 L262.0 680.9 L254.0 680.6 L246.0 680.4 L238.0 680.1 L230.0 679.9 L222.0 679.7Z" fill="#0a7f0a" stroke="#000" stroke-width="1.9" stroke-linejoin="round"/>
<path d="M282.0 680.9 L283.0 680.9 L284.0 680.9 L285.0 680.8 L286.0 680.8 L287.0 680.7 L288.0 680.6 L289.0 680.5 L290.0 680.4 L291.0 680.3 L292.0 680.1 L293.0 680.0 L294.0 679.8 L295.0 679.6 L296.0 679.4 L297.0 679.1 L298.0 678.8 L299.0 678.5 L300.0 678.2 L301.0 677.8 L302.0 677.5 L303.0 677.1 L304.0 676.6 L305.0 676.1 L306.0 675.6 L307.0 675.0 L308.0 674.4 L309.0 673.7 L310.0 673.0 L311.0 672.2 L312.0 671.4 L313.0 670.5 L314.0 669.6 L315.0 668.7 L316.0 667.7 L317.0 666.6 L318.0 665.5 L319.0 664.4 L320.0 663.3 L321.0 662.0 L322.0 660.8 L323.0 659.6 L324.0 658.3 L325.0 657.0 L326.0 655.6 L327.0 654.3 L328.0 653.0 L329.0 651.6 L330.0 650.3 L331.0 649.0 L332.0 647.8 L333.0 646.5 L334.0 645.3 L335.0 644.1 L336.0 643.0 L337.0 642.0 L338.0 641.0 L339.0 640.1 L340.0 639.2 L341.0 638.5 L342.0 637.8 L343.0 637.2 L344.0 636.7 L345.0 636.4 L346.0 636.1 L347.0 635.9 L348.0 635.9 L349.0 636.0 L350.0 636.1 L351.0 636.4 L352.0 636.8 L353.0 637.3 L354.0 637.9 L355.0 638.6 L356.0 639.4 L357.0 640.2 L358.0 641.2 L359.0 642.2 L360.0 643.3 L361.0 644.5 L362.0 645.7 L363.0 647.0 L364.0 648.4 L365.0 649.7 L366.0 651.1 L367.0 652.6 L368.0 654.0 L369.0 655.4 L370.0 656.9 L371.0 658.3 L372.0 659.8 L373.0 661.2 L374.0 662.6 L375.0 664.0 L376.0 665.3 L377.0 666.7 L378.0 668.0 L379.0 669.2 L380.0 670.4 L381.0 671.6 L382.0 672.7 L383.0 673.8 L384.0 674.8 L385.0 675.8 L386.0 676.7 L387.0 677.6 L388.0 678.4 L389.0 679.2 L390.0 680.0 L391.0 680.7 L392.0 681.3 L393.0 681.9 L394.0 682.5 L395.0 683.0 L396.0 683.5 L397.0 684.0 L398.0 684.4 L399.0 684.8 L400.0 685.2 L401.0 685.5 L402.0 685.9 L403.0 686.1 L404.0 686.4 L405.0 686.7 L406.0 686.9 L407.0 687.1 L408.0 687.3 L409.0 687.5 L410.0 687.6 L411.0 687.8 L412.0 687.9 L413.0 688.1 L414.0 688.2 L415.0 688.3 L415.0 688.8 L407.0 688.4 L399.0 687.9 L391.0 687.5 L383.0 687.0 L375.0 686.5 L367.0 686.0 L359.0 685.5 L351.0 685.1 L343.0 684.6 L335.0 684.1 L327.0 683.6 L319.0 683.1 L311.0 682.7 L303.0 682.2 L295.0 681.9 L287.0 681.6Z" fill="#0000a0" stroke="#000" stroke-width="1.9" stroke-linejoin="round"/>
<path d="M29.0 673.1 L30.0 673.0 L31.0 672.8 L32.0 672.7 L33.0 672.5 L34.0 672.3 L35.0 672.1 L36.0 671.9 L37.0 671.6 L38.0 671.4 L39.0 671.1 L40.0 670.8 L41.0 670.5 L42.0 670.1 L43.0 669.8 L44.0 669.4 L45.0 669.0 L46.0 668.5 L47.0 668.1 L48.0 667.6 L49.0 667.1 L50.0 666.5 L51.0 666.0 L52.0 665.4 L53.0 664.8 L54.0 664.1 L55.0 663.5 L56.0 662.8 L57.0 662.1 L58.0 661.3 L59.0 660.5 L60.0 659.8 L61.0 659.0 L62.0 658.1 L63.0 657.3 L64.0 656.4 L65.0 655.5 L66.0 654.7 L67.0 653.8 L68.0 652.9 L69.0 651.9 L70.0 651.0 L71.0 650.1 L72.0 649.2 L73.0 648.3 L74.0 647.4 L75.0 646.5 L76.0 645.6 L77.0 644.7 L78.0 643.9 L79.0 643.1 L80.0 642.3 L81.0 641.5 L82.0 640.8 L83.0 640.1 L84.0 639.4 L85.0 638.8 L86.0 638.2 L87.0 637.6 L88.0 637.2 L89.0 636.7 L90.0 636.3 L91.0 636.0 L92.0 635.7 L93.0 635.5 L94.0 635.3 L95.0 635.2 L96.0 635.2 L97.0 635.2 L98.0 635.3 L99.0 635.4 L100.0 635.6 L101.0 635.8 L102.0 636.1 L103.0 636.5 L104.0 636.9 L105.0 637.3 L106.0 637.8 L107.0 638.4 L108.0 639.0 L109.0 639.6 L110.0 640.3 L111.0 641.0 L112.0 641.7 L113.0 642.5 L114.0 643.2 L115.0 644.0 L116.0 644.8 L117.0 645.6 L118.0 646.5 L119.0 647.3 L120.0 648.1 L121.0 648.9 L122.0 649.7 L123.0 650.5 L124.0 651.2 L125.0 652.0 L126.0 652.7 L127.0 653.4 L128.0 654.0 L129.0 654.6 L130.0 655.2 L131.0 655.7 L132.0 656.1 L133.0 656.5 L134.0 656.8 L135.0 657.1 L136.0 657.3 L137.0 657.4 L138.0 657.5 L139.0 657.5 L140.0 657.4 L141.0 657.2 L142.0 656.9 L143.0 656.6 L144.0 656.2 L145.0 655.6 L146.0 655.0 L147.0 654.3 L148.0 653.5 L149.0 652.6 L150.0 651.7 L151.0 650.6 L152.0 649.4 L153.0 648.2 L154.0 646.9 L155.0 645.5 L156.0 644.0 L157.0 642.5 L158.0 640.8 L159.0 639.1 L160.0 637.4 L161.0 635.6 L162.0 633.8 L163.0 631.9 L164.0 629.9 L165.0 628.0 L166.0 626.0 L167.0 624.1 L168.0 622.1 L169.0 620.1 L170.0 618.2 L171.0 616.3 L172.0 614.4 L173.0 612.5 L174.0 610.7 L175.0 609.0 L176.0 607.4 L177.0 605.8 L178.0 604.3 L179.0 603.0 L180.0 601.7 L181.0 600.5 L182.0 599.5 L183.0 598.6 L184.0 597.8 L185.0 597.2 L186.0 596.7 L187.0 596.4 L188.0 596.2 L189.0 596.1 L190.0 596.2 L191.0 596.5 L192.0 596.9 L193.0 597.4 L194.0 598.1 L195.0 599.0 L196.0 600.0 L197.0 601.1 L198.0 602.3 L199.0 603.6 L200.0 605.1 L201.0 606.7 L202.0 608.3 L203.0 610.1 L204.0 611.9 L205.0 613.8 L206.0 615.7 L207.0 617.7 L208.0 619.8 L209.0 621.9 L210.0 624.0 L211.0 626.1 L212.0 628.2 L213.0 630.4 L214.0 632.5 L215.0 634.6 L216.0 636.7 L217.0 638.7 L218.0 640.8 L219.0 642.7 L220.0 644.7 L221.0 646.6 L222.0 648.4 L223.0 650.2 L224.0 651.9 L225.0 653.5 L226.0 655.1 L227.0 656.6 L228.0 658.0 L229.0 659.3 L230.0 660.6 L231.0 661.8 L232.0 662.9 L233.0 664.0 L234.0 664.9 L235.0 665.8 L236.0 666.6 L237.0 667.3 L238.0 667.9 L239.0 668.5 L240.0 668.9 L241.0 669.3 L242.0 669.6 L243.0 669.8 L244.0 670.0 L245.0 670.0 L246.0 670.0 L247.0 669.8 L248.0 669.6 L249.0 669.3 L250.0 668.9 L251.0 668.3 L252.0 667.7 L253.0 667.0 L254.0 666.2 L255.0 665.2 L256.0 664.1 L257.0 662.9 L258.0 661.6 L259.0 660.1 L260.0 658.5 L261.0 656.8 L262.0 654.9 L263.0 652.9 L264.0 650.7 L265.0 648.3 L266.0 645.8 L267.0 643.1 L268.0 640.2 L269.0 637.1 L270.0 633.9 L271.0 630.4 L272.0 626.8 L273.0 623.0 L274.0 618.9 L275.0 614.7 L276.0 610.3 L277.0 605.7 L278.0 600.9 L279.0 595.9 L280.0 590.7 L281.0 585.4 L282.0 579.8 L283.0 574.1 L284.0 568.3 L285.0 562.2 L286.0 556.1 L287.0 549.8 L288.0 543.4 L289.0 536.8 L290.0 530.2 L291.0 523.5 L292.0 516.8 L293.0 510.0 L294.0 503.2 L295.0 496.4 L296.0 489.5 L297.0 482.8 L298.0 476.1 L299.0 469.4 L300.0 462.9 L301.0 456.5 L302.0 450.2 L303.0 444.1 L304.0 438.2 L305.0 432.5 L306.0 427.1 L307.0 421.8 L308.0 416.9 L309.0 412.2 L310.0 407.8 L311.0 403.7 L312.0 400.0 L313.0 396.6 L314.0 393.5 L315.0 390.9 L316.0 388.6 L317.0 386.6 L318.0 385.1 L319.0 384.0 L320.0 383.2 L321.0 382.9 L322.0 383.0 L323.0 383.4 L324.0 384.2 L325.0 385.5 L326.0 387.1 L327.0 389.0 L328.0 391.4 L329.0 394.0 L330.0 397.0 L331.0 400.4 L332.0 404.0 L333.0 408.0 L334.0 412.2 L335.0 416.7 L336.0 421.4 L337.0 426.4 L338.0 431.5 L339.0 436.9 L340.0 442.5 L341.0 448.2 L342.0 454.1 L343.0 460.1 L344.0 466.2 L345.0 472.3 L346.0 478.6 L347.0 484.9 L348.0 491.3 L349.0 497.7 L350.0 504.0 L351.0 510.4 L352.0 516.8 L353.0 523.1 L354.0 529.3 L355.0 535.5 L356.0 541.5 L357.0 547.5 L358.0 553.4 L359.0 559.1 L360.0 564.7 L361.0 570.1 L362.0 575.3 L363.0 580.4 L364.0 585.3 L365.0 590.0 L366.0 594.6 L367.0 598.9 L368.0 603.0 L369.0 606.8 L370.0 610.5 L371.0 613.9 L372.0 617.2 L373.0 620.1 L374.0 622.9 L375.0 625.4 L376.0 627.8 L377.0 629.8 L378.0 631.7 L379.0 633.4 L380.0 634.8 L381.0 636.0 L382.0 637.1 L383.0 637.9 L384.0 638.6 L385.0 639.0 L386.0 639.3 L387.0 639.5 L388.0 639.4 L389.0 639.3 L390.0 639.0 L391.0 638.5 L392.0 638.0 L393.0 637.3 L394.0 636.5 L395.0 635.6 L396.0 634.7 L397.0 633.6 L398.0 632.5 L399.0 631.3 L400.0 630.1 L401.0 628.8 L402.0 627.4 L403.0 626.0 L404.0 624.6 L405.0 623.2 L406.0 621.7 L407.0 620.1 L408.0 618.6 L409.0 617.0 L410.0 615.4 L411.0 613.8 L412.0 612.1 L413.0 610.4 L414.0 608.7 L415.0 606.9 L416.0 605.1 L417.0 603.3 L418.0 601.4 L419.0 599.4 L420.0 597.4 L421.0 595.4 L422.0 593.2 L423.0 591.0 L424.0 588.8 L425.0 586.5 L426.0 584.1 L427.0 581.6 L428.0 579.1 L429.0 576.4 L430.0 573.8 L431.0 571.0 L432.0 568.2 L433.0 565.3 L434.0 562.4 L435.0 559.5 L436.0 556.4 L437.0 553.4 L438.0 550.3 L439.0 547.3 L440.0 544.2 L441.0 541.1 L442.0 538.0 L443.0 535.0 L444.0 532.0 L445.0 529.1 L446.0 526.2 L447.0 523.4 L448.0 520.7 L449.0 518.1 L450.0 515.7 L451.0 513.4 L452.0 511.2 L453.0 509.2 L454.0 507.3 L455.0 505.7 L456.0 504.2 L457.0 503.0 L458.0 502.0 L459.0 501.2 L460.0 500.6 L461.0 500.2 L462.0 500.2 L463.0 500.3 L464.0 500.7 L465.0 501.3 L466.0 502.2 L467.0 503.4 L468.0 504.7 L469.0 506.3 L470.0 508.2 L471.0 510.3 L472.0 512.6 L473.0 515.1 L474.0 517.8 L475.0 520.7 L476.0 523.8 L477.0 527.0 L478.0 530.5 L479.0 534.0 L480.0 537.7 L481.0 541.5 L482.0 545.4 L483.0 549.4 L484.0 553.4 L485.0 557.6 L486.0 561.8 L487.0 566.0 L488.0 570.3 L489.0 574.6 L490.0 578.8 L491.0 583.1 L492.0 587.4 L493.0 591.6 L494.0 595.8 L495.0 600.0 L496.0 604.1 L497.0 608.1 L498.0 612.0 L499.0 615.9 L500.0 619.7 L501.0 623.4 L502.0 627.0 L503.0 630.5 L504.0 633.9 L505.0 637.1 L506.0 640.3 L507.0 643.3 L508.0 646.3 L509.0 649.1 L510.0 651.8 L511.0 654.4 L512.0 656.9 L513.0 659.2 L514.0 661.5 L515.0 663.6 L516.0 665.6 L517.0 667.5 L518.0 669.3 L519.0 671.1 L520.0 672.7 L521.0 674.2 L522.0 675.6 L523.0 677.0 L524.0 678.2 L525.0 679.4 L526.0 680.5 L527.0 681.5 L528.0 682.4 L529.0 683.3 L530.0 684.1 L531.0 684.9 L532.0 685.6 L533.0 686.3 L534.0 686.9 L535.0 687.4 L536.0 687.9 L537.0 688.4 L538.0 688.8 L539.0 689.2 L540.0 689.6 L541.0 689.9 L542.0 690.3 L543.0 690.5 L544.0 690.8 L545.0 691.0 L546.0 691.2 L547.0 691.4 L548.0 691.6 L549.0 691.8 L550.0 691.9 L551.0 692.1 L552.0 692.2 L553.0 692.3 L554.0 692.4 L555.0 692.5 L556.0 692.6 L557.0 692.7 L558.0 692.8 L559.0 692.8 L560.0 692.9 L561.0 693.0 L562.0 693.0 L563.0 693.1 L564.0 693.1 L565.0 693.2 L566.0 693.2 L567.0 693.3" fill="none" stroke="#000" stroke-width="1.9"/>
<path d="M29.0 668.2h0M35.0 667.4h0M41.0 669.2h0M47.0 663.9h0M53.0 665.0h0M59.0 659.4h0M65.0 650.7h0M71.0 648.4h0M77.0 641.7h0M83.0 641.1h0M89.0 632.8h0M95.0 631.9h0M101.0 637.8h0M107.0 643.7h0M113.0 647.0h0M119.0 645.6h0M125.0 650.9h0M131.0 658.8h0M137.0 655.2h0M143.0 651.7h0M149.0 651.2h0M155.0 645.2h0M161.0 631.2h0M167.0 617.1h0M173.0 606.2h0M179.0 603.4h0M185.0 593.1h0M191.0 594.3h0M197.0 600.1h0M203.0 610.4h0M209.0 619.1h0M215.0 634.5h0M221.0 642.1h0M227.0 653.8h0M233.0 659.1h0M239.0 670.5h0M245.0 668.3h0M251.0 664.4h0M257.0 660.2h0M263.0 650.6h0M269.0 637.8h0M275.0 608.1h0M281.0 580.5h0M287.0 547.0h0M293.0 516.6h0M299.0 471.0h0M305.0 430.7h0M311.0 404.5h0M317.0 391.8h0M323.0 381.2h0M329.0 391.4h0M335.0 419.1h0M341.0 448.4h0M347.0 485.7h0M353.0 520.0h0M359.0 563.9h0M365.0 594.1h0M371.0 614.4h0M377.0 630.7h0M383.0 630.1h0M389.0 640.0h0M395.0 633.7h0M401.0 628.8h0M407.0 621.0h0M413.0 608.0h0M419.0 592.7h0M425.0 586.4h0M431.0 567.4h0M437.0 551.1h0M443.0 531.8h0M449.0 515.8h0M455.0 497.1h0M461.0 502.9h0M467.0 503.0h0M473.0 517.5h0M479.0 539.2h0M485.0 556.5h0M491.0 576.2h0M497.0 604.1h0M503.0 625.5h0M509.0 646.4h0M515.0 662.8h0M521.0 666.7h0M527.0 681.5h0M533.0 680.4h0M539.0 689.1h0M545.0 689.6h0M551.0 690.0h0M557.0 691.4h0M563.0 690.4h0" stroke="#000" stroke-width="4.4" stroke-linecap="round" fill="none"/>
<path d="M309.5 190V677" stroke="#2fcf8f" stroke-width="2.0" stroke-dasharray="12 7" fill="none"/>
<path d="M344 277V692" stroke="#1f3a7a" stroke-width="2.0" stroke-dasharray="12 7" fill="none"/>
<path d="M403.7 100V692" stroke="#ffc61a" stroke-width="2.0" stroke-dasharray="12 7" fill="none"/>
<path d="M464.5 75V696" stroke="#6a3fb5" stroke-width="1.7" stroke-dasharray="12 7" fill="none"/>
<path d="M29 713.5V66.0M29 67.4H567.5M567.5 66.0V701" fill="none" stroke="#000" stroke-width="2.8"/>
<path d="M29 701H567.5" fill="none" stroke="#000" stroke-width="2.3"/>
<text x="29.0" y="743.5" font-size="29.7" text-anchor="middle">298</text>
<text x="96.3" y="743.5" font-size="29.7" text-anchor="middle">296</text>
<text x="163.6" y="743.5" font-size="29.7" text-anchor="middle">294</text>
<text x="230.9" y="743.5" font-size="29.7" text-anchor="middle">292</text>
<text x="298.2" y="743.5" font-size="29.7" text-anchor="middle">290</text>
<text x="365.6" y="743.5" font-size="29.7" text-anchor="middle">288</text>
<text x="432.9" y="743.5" font-size="29.7" text-anchor="middle">286</text>
<text x="500.2" y="743.5" font-size="29.7" text-anchor="middle">284</text>
<text x="567.5" y="743.5" font-size="29.7" text-anchor="middle">282</text>
<path d="M29.0 701v12.5M62.7 701v6M62.7 67.4v6M96.3 701v12.5M96.3 67.4v6M130.0 701v6M130.0 67.4v6M163.6 701v12.5M163.6 67.4v6M197.3 701v6M197.3 67.4v6M230.9 701v12.5M230.9 67.4v6M264.6 701v6M264.6 67.4v6M298.2 701v12.5M298.2 67.4v11.5M331.9 701v6M331.9 67.4v6M365.6 701v12.5M365.6 67.4v6M399.2 701v6M399.2 67.4v6M432.9 701v12.5M432.9 67.4v6M466.5 701v6M466.5 67.4v11.5M500.2 701v12.5M500.2 67.4v6M533.8 701v6M533.8 67.4v6M567.5 701v12.5" stroke="#000" stroke-width="2.3" fill="none"/>
<path d="M770.5 359.4 L771.5 359.4 L772.5 359.4 L773.5 359.4 L774.5 359.4 L775.5 359.4 L776.5 359.4 L777.5 359.4 L778.5 359.4 L779.5 359.4 L780.5 359.4 L781.5 359.4 L782.5 359.4 L783.5 359.4 L784.5 359.4 L785.5 359.4 L786.5 359.4 L787.5 359.4 L788.5 359.4 L789.5 359.4 L790.5 359.4 L791.5 359.4 L792.5 359.4 L793.5 359.4 L794.5 359.4 L795.5 359.4 L796.5 359.4 L797.5 359.4 L798.5 359.4 L799.5 359.4 L800.5 359.4 L801.5 359.4 L802.5 359.4 L803.5 359.5 L804.5 359.5 L805.5 359.5 L806.5 359.5 L807.5 359.5 L808.5 359.5 L809.5 359.5 L810.5 359.5 L811.5 359.5 L812.5 359.5 L813.5 359.5 L814.5 359.5 L815.5 359.5 L816.5 359.5 L817.5 359.5 L818.5 359.5 L819.5 359.5 L820.5 359.5 L821.5 359.5 L822.5 359.5 L823.5 359.5 L824.5 359.6 L825.5 359.6 L826.5 359.6 L827.5 359.6 L828.5 359.6 L829.5 359.6 L830.5 359.6 L831.5 359.6 L832.5 359.7 L833.5 359.7 L834.5 359.7 L835.5 359.7 L836.5 359.7 L837.5 359.7 L838.5 359.7 L839.5 359.7 L840.5 359.8 L841.5 359.8 L842.5 359.8 L843.5 359.8 L844.5 359.8 L845.5 359.8 L846.5 359.8 L847.5 359.8 L848.5 359.9 L849.5 359.9 L850.5 359.9 L851.5 359.9 L852.5 359.9 L853.5 359.9 L854.5 359.9 L855.5 359.9 L856.5 360.0 L857.5 360.0 L858.5 360.0 L859.5 360.0 L860.5 360.0 L861.5 360.0 L862.5 360.0 L863.5 360.0 L864.5 360.1 L865.5 360.1 L866.5 360.1 L867.5 360.1 L868.5 360.1 L869.5 360.1 L870.5 360.1 L871.5 360.1 L872.5 360.2 L873.5 360.2 L874.5 360.2 L875.5 360.2 L876.5 360.2 L877.5 360.2 L878.5 360.2 L879.5 360.2 L880.5 360.3 L881.5 360.3 L882.5 360.3 L883.5 360.3 L884.5 360.3 L885.5 360.3 L886.5 360.3 L887.5 360.3 L888.5 360.4 L889.5 360.4 L890.5 360.4 L891.5 360.4 L892.5 360.4 L893.5 360.4 L894.5 360.4 L895.5 360.4 L896.5 360.5 L897.5 360.5 L898.5 360.5 L899.5 360.5 L900.5 360.5 L901.5 360.6 L902.5 360.6 L903.5 360.7 L904.5 360.7 L905.5 360.8 L906.5 360.8 L907.5 360.9 L908.5 360.9 L909.5 361.0 L910.5 361.0 L911.5 361.0 L912.5 361.1 L913.5 361.1 L914.5 361.2 L915.5 361.2 L916.5 361.3 L917.5 361.3 L918.5 361.4 L919.5 361.4 L920.5 361.5 L921.5 361.5 L922.5 361.6 L923.5 361.6 L924.5 361.7 L925.5 361.7 L926.5 361.8 L927.5 361.8 L928.5 361.9 L929.5 361.9 L930.5 362.0 L931.5 362.0 L932.5 362.0 L933.5 362.1 L934.5 362.1 L935.5 362.2 L936.5 362.2 L937.5 362.3 L938.5 362.3 L939.5 362.4 L940.5 362.4 L941.5 362.5 L942.5 362.5 L943.5 362.6 L944.5 362.6 L945.5 362.7 L946.5 362.7 L947.5 362.8 L948.5 362.8 L949.5 362.9 L950.5 362.9 L951.5 363.0 L952.5 363.0 L953.5 363.0 L954.5 363.1 L955.5 363.1 L956.5 363.2 L957.5 363.2 L958.5 363.3 L959.5 363.3 L960.5 363.4 L961.5 363.4 L962.5 363.5 L963.5 363.5 L964.5 363.6 L965.5 363.6 L966.5 363.7 L967.5 363.7 L968.5 363.8 L969.5 363.8 L970.5 363.9 L971.5 363.9 L972.5 364.0 L973.5 364.0 L974.5 364.0 L975.5 364.1 L976.5 364.1 L977.5 364.2 L978.5 364.2 L979.5 364.3 L980.5 364.3 L981.5 364.4 L982.5 364.4 L983.5 364.5 L984.5 364.5 L985.5 364.6 L986.5 364.6 L987.5 364.7 L988.5 364.7 L989.5 364.8 L990.5 364.8 L991.5 364.9 L992.5 364.9 L993.5 365.0 L994.5 365.0 L995.5 365.0 L996.5 365.1 L997.5 365.1 L998.5 365.2 L999.5 365.2 L1000.5 365.3 L1001.5 365.3 L1002.5 365.4 L1003.5 365.4 L1004.5 365.5 L1005.5 365.5 L1006.5 365.6 L1007.5 365.6 L1008.5 365.7 L1009.5 365.7 L1010.5 365.8 L1011.5 365.8 L1012.5 365.9 L1013.5 365.9 L1014.5 366.0 L1015.5 366.0 L1016.5 366.0 L1017.5 366.1 L1018.5 366.1 L1019.5 366.2 L1020.5 366.2 L1021.5 366.3 L1022.5 366.3 L1023.5 366.4 L1024.5 366.4 L1025.5 366.5 L1026.5 366.5 L1027.5 366.6 L1028.5 366.6 L1029.5 366.7 L1030.5 366.7 L1031.5 366.8 L1032.5 366.8 L1033.5 366.9 L1034.5 366.9 L1035.5 367.0 L1036.5 367.0 L1037.5 367.0 L1038.5 367.1 L1039.5 367.1 L1040.5 367.2 L1041.5 367.2 L1042.5 367.3 L1043.5 367.3 L1044.5 367.4 L1045.5 367.4 L1046.5 367.5 L1047.5 367.5 L1048.5 367.6 L1049.5 367.6 L1050.5 367.7 L1051.5 367.7 L1052.5 367.8 L1053.5 367.8 L1054.5 367.9 L1055.5 367.9 L1056.5 368.0 L1057.5 368.0 L1058.5 368.0 L1059.5 368.1 L1060.5 368.1 L1061.5 368.2 L1062.5 368.2 L1063.5 368.3 L1064.5 368.3 L1065.5 368.4 L1066.5 368.4 L1067.5 368.5 L1068.5 368.5 L1069.5 368.6 L1070.5 368.6 L1071.5 368.7 L1072.5 368.7 L1073.5 368.8 L1074.5 368.8 L1075.5 368.9 L1076.5 368.9 L1077.5 369.0 L1078.5 369.0 L1079.5 369.0 L1080.5 369.1 L1081.5 369.1 L1082.5 369.2 L1083.5 369.2 L1084.5 369.3 L1085.5 369.3 L1086.5 369.4 L1087.5 369.4 L1088.5 369.5 L1089.5 369.5 L1090.5 369.6 L1091.5 369.6 L1092.5 369.7 L1093.5 369.7 L1094.5 369.8 L1095.5 369.8 L1096.5 369.9 L1097.5 369.9 L1098.5 370.0 L1099.5 370.0 L1100.5 370.0 L1101.5 370.1 L1102.5 370.1 L1103.5 370.2 L1104.5 370.2 L1105.5 370.3 L1106.5 370.3 L1107.5 370.4 L1108.5 370.4 L1109.5 370.5 L1110.5 370.5 L1111.5 370.5 L1112.5 370.5 L1113.5 370.5 L1114.5 370.5 L1115.5 370.5 L1116.5 370.5 L1117.5 370.5 L1118.5 370.6 L1119.5 370.6 L1120.5 370.6 L1121.5 370.6 L1122.5 370.6 L1123.5 370.6 L1124.5 370.6 L1125.5 370.6 L1126.5 370.6 L1127.5 370.6 L1128.5 370.6 L1129.5 370.6 L1130.5 370.6 L1131.5 370.6 L1132.5 370.6 L1133.5 370.7 L1134.5 370.7 L1135.5 370.7 L1136.5 370.7 L1137.5 370.7 L1138.5 370.7 L1139.5 370.7 L1140.5 370.7 L1141.5 370.7 L1142.5 370.7 L1143.5 370.7 L1144.5 370.7 L1145.5 370.7 L1146.5 370.7 L1147.5 370.7 L1148.5 370.8 L1149.5 370.8 L1150.5 370.8 L1151.5 370.8 L1152.5 370.8 L1153.5 370.8 L1154.5 370.8 L1155.5 370.8 L1156.5 370.8 L1157.5 370.8 L1158.5 370.8 L1159.5 370.8 L1160.5 370.8 L1161.5 370.8 L1162.5 370.8 L1163.5 370.8 L1164.5 370.9 L1165.5 370.9 L1166.5 370.9 L1167.5 370.9 L1168.5 370.9 L1169.5 370.9 L1170.5 370.9 L1171.5 370.9 L1172.5 370.9 L1173.5 370.9 L1174.5 370.9 L1175.5 370.9 L1176.5 370.9 L1177.5 370.9 L1178.5 370.9 L1179.5 371.0 L1180.5 371.0 L1181.5 371.0 L1182.5 371.0 L1183.5 371.0 L1184.5 371.0 L1185.5 371.0 L1186.5 371.0" fill="none" stroke="#000" stroke-width="1.3"/>
<path d="M985.5 364.1 L986.5 364.1 L987.5 364.1 L988.5 364.2 L989.5 364.2 L990.5 364.3 L991.5 364.3 L992.5 364.3 L993.5 364.4 L994.5 364.4 L995.5 364.4 L996.5 364.5 L997.5 364.5 L998.5 364.5 L999.5 364.6 L1000.5 364.6 L1001.5 364.6 L1002.5 364.7 L1003.5 364.7 L1004.5 364.7 L1005.5 364.7 L1006.5 364.8 L1007.5 364.8 L1008.5 364.8 L1009.5 364.8 L1010.5 364.8 L1011.5 364.8 L1012.5 364.8 L1013.5 364.8 L1014.5 364.8 L1015.5 364.8 L1016.5 364.8 L1017.5 364.8 L1018.5 364.7 L1019.5 364.7 L1020.5 364.6 L1021.5 364.5 L1022.5 364.4 L1023.5 364.3 L1024.5 364.2 L1025.5 364.0 L1026.5 363.8 L1027.5 363.6 L1028.5 363.3 L1029.5 363.0 L1030.5 362.6 L1031.5 362.2 L1032.5 361.8 L1033.5 361.3 L1034.5 360.7 L1035.5 360.0 L1036.5 359.3 L1037.5 358.4 L1038.5 357.5 L1039.5 356.5 L1040.5 355.3 L1041.5 354.1 L1042.5 352.7 L1043.5 351.1 L1044.5 349.5 L1045.5 347.6 L1046.5 345.7 L1047.5 343.5 L1048.5 341.1 L1049.5 338.6 L1050.5 335.9 L1051.5 333.0 L1052.5 329.9 L1053.5 326.6 L1054.5 323.0 L1055.5 319.3 L1056.5 315.3 L1057.5 311.2 L1058.5 306.8 L1059.5 302.2 L1060.5 297.5 L1061.5 292.5 L1062.5 287.4 L1063.5 282.2 L1064.5 276.8 L1065.5 271.2 L1066.5 265.6 L1067.5 259.8 L1068.5 254.0 L1069.5 248.2 L1070.5 242.4 L1071.5 236.5 L1072.5 230.8 L1073.5 225.0 L1074.5 219.5 L1075.5 214.0 L1076.5 208.7 L1077.5 203.7 L1078.5 198.8 L1079.5 194.3 L1080.5 190.0 L1081.5 186.1 L1082.5 182.5 L1083.5 179.3 L1084.5 176.6 L1085.5 174.2 L1086.5 172.4 L1087.5 171.0 L1088.5 170.0 L1089.5 169.6 L1090.5 169.6 L1091.5 170.2 L1092.5 171.2 L1093.5 172.7 L1094.5 174.7 L1095.5 177.1 L1096.5 180.0 L1097.5 183.2 L1098.5 186.9 L1099.5 190.9 L1100.5 195.3 L1101.5 199.9 L1102.5 204.8 L1103.5 210.0 L1104.5 215.4 L1105.5 220.9 L1106.5 226.6 L1107.5 232.4 L1108.5 238.3 L1109.5 244.2 L1110.5 250.1 L1111.5 256.0 L1112.5 261.9 L1113.5 267.7 L1114.5 273.4 L1115.5 279.0 L1116.5 284.4 L1117.5 289.7 L1118.5 294.9 L1119.5 299.9 L1120.5 304.7 L1121.5 309.3 L1122.5 313.8 L1123.5 318.0 L1124.5 322.0 L1125.5 325.8 L1126.5 329.4 L1127.5 332.7 L1128.5 335.9 L1129.5 338.9 L1130.5 341.6 L1131.5 344.2 L1132.5 346.6 L1133.5 348.8 L1134.5 350.9 L1135.5 352.8 L1136.5 354.5 L1137.5 356.1 L1138.5 357.5 L1139.5 358.8 L1140.5 360.0 L1141.5 361.1 L1142.5 362.1 L1143.5 363.0 L1144.5 363.8 L1145.5 364.5 L1146.5 365.1 L1147.5 365.7 L1148.5 366.2 L1149.5 366.7 L1150.5 367.1 L1151.5 367.4 L1152.5 367.8 L1153.5 368.1 L1154.5 368.3 L1155.5 368.5 L1156.5 368.7 L1157.5 368.9 L1158.5 369.1 L1159.5 369.2 L1160.5 369.3 L1161.5 369.4 L1162.5 369.5 L1163.5 369.6 L1164.5 369.7 L1165.5 369.7 L1166.5 369.8 L1167.5 369.9 L1168.5 369.9 L1169.5 370.0 L1170.5 370.0 L1171.5 370.0 L1172.5 370.1 L1173.5 370.1 L1174.5 370.1 L1175.5 370.2 L1176.5 370.2 L1177.5 370.2 L1178.5 370.2 L1179.5 370.3 L1180.5 370.3 L1181.5 370.3 L1182.5 370.3 L1183.5 370.4 L1184.5 370.4 L1185.5 370.4 L1186.5 370.4 L1186.5 371.0 L1178.5 370.9 L1170.5 370.9 L1162.5 370.8 L1154.5 370.8 L1146.5 370.7 L1138.5 370.7 L1130.5 370.6 L1122.5 370.6 L1114.5 370.5 L1106.5 370.3 L1098.5 370.0 L1090.5 369.6 L1082.5 369.2 L1074.5 368.8 L1066.5 368.4 L1058.5 368.0 L1050.5 367.7 L1042.5 367.3 L1034.5 366.9 L1026.5 366.5 L1018.5 366.1 L1010.5 365.8 L1002.5 365.4 L994.5 365.0 L986.5 364.6Z" fill="#fff" stroke="#000" stroke-width="1.3" stroke-linejoin="round"/>
<path d="M904.5 360.2 L905.5 360.2 L906.5 360.3 L907.5 360.3 L908.5 360.4 L909.5 360.4 L910.5 360.4 L911.5 360.5 L912.5 360.5 L913.5 360.6 L914.5 360.6 L915.5 360.6 L916.5 360.7 L917.5 360.7 L918.5 360.7 L919.5 360.8 L920.5 360.8 L921.5 360.9 L922.5 360.9 L923.5 360.9 L924.5 361.0 L925.5 361.0 L926.5 361.0 L927.5 361.1 L928.5 361.1 L929.5 361.1 L930.5 361.2 L931.5 361.2 L932.5 361.2 L933.5 361.3 L934.5 361.3 L935.5 361.3 L936.5 361.4 L937.5 361.4 L938.5 361.4 L939.5 361.4 L940.5 361.5 L941.5 361.5 L942.5 361.5 L943.5 361.5 L944.5 361.6 L945.5 361.6 L946.5 361.6 L947.5 361.6 L948.5 361.6 L949.5 361.6 L950.5 361.6 L951.5 361.6 L952.5 361.6 L953.5 361.6 L954.5 361.6 L955.5 361.6 L956.5 361.5 L957.5 361.5 L958.5 361.4 L959.5 361.4 L960.5 361.3 L961.5 361.2 L962.5 361.0 L963.5 360.9 L964.5 360.7 L965.5 360.5 L966.5 360.3 L967.5 360.0 L968.5 359.7 L969.5 359.4 L970.5 359.0 L971.5 358.5 L972.5 358.0 L973.5 357.4 L974.5 356.8 L975.5 356.0 L976.5 355.2 L977.5 354.3 L978.5 353.3 L979.5 352.1 L980.5 350.8 L981.5 349.4 L982.5 347.9 L983.5 346.2 L984.5 344.3 L985.5 342.2 L986.5 340.0 L987.5 337.6 L988.5 334.9 L989.5 332.1 L990.5 329.0 L991.5 325.7 L992.5 322.1 L993.5 318.3 L994.5 314.2 L995.5 309.8 L996.5 305.2 L997.5 300.3 L998.5 295.1 L999.5 289.7 L1000.5 284.0 L1001.5 278.0 L1002.5 271.7 L1003.5 265.3 L1004.5 258.5 L1005.5 251.6 L1006.5 244.4 L1007.5 237.1 L1008.5 229.5 L1009.5 221.9 L1010.5 214.1 L1011.5 206.2 L1012.5 198.3 L1013.5 190.4 L1014.5 182.4 L1015.5 174.5 L1016.5 166.7 L1017.5 159.0 L1018.5 151.4 L1019.5 144.1 L1020.5 137.0 L1021.5 130.2 L1022.5 123.7 L1023.5 117.6 L1024.5 111.9 L1025.5 106.7 L1026.5 101.9 L1027.5 97.6 L1028.5 93.8 L1029.5 90.7 L1030.5 88.1 L1031.5 86.1 L1032.5 84.7 L1033.5 84.0 L1034.5 83.9 L1035.5 84.5 L1036.5 85.7 L1037.5 87.5 L1038.5 90.0 L1039.5 93.0 L1040.5 96.6 L1041.5 100.8 L1042.5 105.5 L1043.5 110.6 L1044.5 116.3 L1045.5 122.3 L1046.5 128.8 L1047.5 135.5 L1048.5 142.6 L1049.5 149.9 L1050.5 157.5 L1051.5 165.2 L1052.5 173.1 L1053.5 181.1 L1054.5 189.1 L1055.5 197.2 L1056.5 205.2 L1057.5 213.2 L1058.5 221.1 L1059.5 228.9 L1060.5 236.6 L1061.5 244.1 L1062.5 251.4 L1063.5 258.6 L1064.5 265.5 L1065.5 272.2 L1066.5 278.6 L1067.5 284.8 L1068.5 290.7 L1069.5 296.3 L1070.5 301.7 L1071.5 306.8 L1072.5 311.6 L1073.5 316.2 L1074.5 320.5 L1075.5 324.5 L1076.5 328.3 L1077.5 331.8 L1078.5 335.1 L1079.5 338.1 L1080.5 341.0 L1081.5 343.6 L1082.5 346.0 L1083.5 348.2 L1084.5 350.2 L1085.5 352.1 L1086.5 353.8 L1087.5 355.4 L1088.5 356.8 L1089.5 358.1 L1090.5 359.2 L1091.5 360.3 L1092.5 361.3 L1093.5 362.1 L1094.5 362.9 L1095.5 363.6 L1096.5 364.3 L1097.5 364.8 L1098.5 365.4 L1099.5 365.8 L1100.5 366.2 L1101.5 366.6 L1102.5 366.9 L1103.5 367.3 L1104.5 367.5 L1105.5 367.8 L1106.5 368.0 L1107.5 368.2 L1108.5 368.4 L1109.5 368.6 L1110.5 368.7 L1111.5 368.8 L1112.5 368.9 L1113.5 369.0 L1114.5 369.1 L1115.5 369.1 L1116.5 369.2 L1117.5 369.3 L1118.5 369.3 L1119.5 369.4 L1120.5 369.4 L1121.5 369.4 L1122.5 369.5 L1123.5 369.5 L1124.5 369.6 L1125.5 369.6 L1126.5 369.6 L1127.5 369.6 L1128.5 369.7 L1129.5 369.7 L1130.5 369.7 L1131.5 369.8 L1132.5 369.8 L1133.5 369.8 L1134.5 369.8 L1135.5 369.9 L1136.5 369.9 L1137.5 369.9 L1138.5 369.9 L1139.5 369.9 L1140.5 370.0 L1141.5 370.0 L1142.5 370.0 L1143.5 370.0 L1144.5 370.0 L1145.5 370.1 L1146.5 370.1 L1147.5 370.1 L1148.5 370.1 L1149.5 370.1 L1150.5 370.1 L1151.5 370.2 L1152.5 370.2 L1153.5 370.2 L1154.5 370.2 L1155.5 370.2 L1156.5 370.2 L1157.5 370.3 L1158.5 370.3 L1159.5 370.3 L1160.5 370.3 L1161.5 370.3 L1162.5 370.3 L1163.5 370.3 L1164.5 370.4 L1164.5 370.9 L1156.5 370.8 L1148.5 370.8 L1140.5 370.7 L1132.5 370.6 L1124.5 370.6 L1116.5 370.5 L1108.5 370.4 L1100.5 370.0 L1092.5 369.7 L1084.5 369.3 L1076.5 368.9 L1068.5 368.5 L1060.5 368.1 L1052.5 367.8 L1044.5 367.4 L1036.5 367.0 L1028.5 366.6 L1020.5 366.2 L1012.5 365.9 L1004.5 365.5 L996.5 365.1 L988.5 364.7 L980.5 364.3 L972.5 364.0 L964.5 363.6 L956.5 363.2 L948.5 362.8 L940.5 362.4 L932.5 362.0 L924.5 361.7 L916.5 361.3 L908.5 360.9Z" fill="#ffff00" stroke="#000" stroke-width="1.3" stroke-linejoin="round"/>
<path d="M799.5 358.9 L800.5 358.9 L801.5 358.9 L802.5 358.9 L803.5 358.9 L804.5 358.9 L805.5 358.9 L806.5 358.9 L807.5 358.9 L808.5 358.9 L809.5 358.9 L810.5 358.9 L811.5 358.9 L812.5 358.9 L813.5 358.8 L814.5 358.8 L815.5 358.8 L816.5 358.8 L817.5 358.8 L818.5 358.8 L819.5 358.8 L820.5 358.8 L821.5 358.8 L822.5 358.8 L823.5 358.8 L824.5 358.8 L825.5 358.8 L826.5 358.8 L827.5 358.8 L828.5 358.8 L829.5 358.8 L830.5 358.8 L831.5 358.7 L832.5 358.7 L833.5 358.7 L834.5 358.7 L835.5 358.7 L836.5 358.7 L837.5 358.7 L838.5 358.7 L839.5 358.6 L840.5 358.6 L841.5 358.6 L842.5 358.6 L843.5 358.5 L844.5 358.5 L845.5 358.5 L846.5 358.4 L847.5 358.4 L848.5 358.3 L849.5 358.3 L850.5 358.2 L851.5 358.1 L852.5 358.0 L853.5 357.9 L854.5 357.8 L855.5 357.7 L856.5 357.5 L857.5 357.4 L858.5 357.2 L859.5 356.9 L860.5 356.7 L861.5 356.4 L862.5 356.1 L863.5 355.8 L864.5 355.4 L865.5 354.9 L866.5 354.4 L867.5 353.9 L868.5 353.3 L869.5 352.6 L870.5 351.8 L871.5 351.0 L872.5 350.1 L873.5 349.1 L874.5 348.0 L875.5 346.8 L876.5 345.5 L877.5 344.0 L878.5 342.5 L879.5 340.8 L880.5 338.9 L881.5 337.0 L882.5 334.9 L883.5 332.6 L884.5 330.1 L885.5 327.5 L886.5 324.8 L887.5 321.9 L888.5 318.8 L889.5 315.5 L890.5 312.1 L891.5 308.5 L892.5 304.7 L893.5 300.8 L894.5 296.8 L895.5 292.6 L896.5 288.2 L897.5 283.8 L898.5 279.2 L899.5 274.6 L900.5 269.9 L901.5 265.1 L902.5 260.4 L903.5 255.6 L904.5 250.8 L905.5 246.0 L906.5 241.3 L907.5 236.6 L908.5 232.1 L909.5 227.6 L910.5 223.4 L911.5 219.3 L912.5 215.4 L913.5 211.7 L914.5 208.3 L915.5 205.2 L916.5 202.4 L917.5 199.9 L918.5 197.7 L919.5 195.9 L920.5 194.5 L921.5 193.5 L922.5 192.9 L923.5 192.6 L924.5 192.8 L925.5 193.4 L926.5 194.3 L927.5 195.7 L928.5 197.4 L929.5 199.5 L930.5 202.0 L931.5 204.8 L932.5 207.9 L933.5 211.3 L934.5 214.9 L935.5 218.8 L936.5 222.9 L937.5 227.2 L938.5 231.7 L939.5 236.3 L940.5 241.0 L941.5 245.8 L942.5 250.6 L943.5 255.5 L944.5 260.4 L945.5 265.3 L946.5 270.2 L947.5 275.0 L948.5 279.7 L949.5 284.4 L950.5 288.9 L951.5 293.3 L952.5 297.7 L953.5 301.8 L954.5 305.9 L955.5 309.7 L956.5 313.5 L957.5 317.0 L958.5 320.4 L959.5 323.6 L960.5 326.7 L961.5 329.6 L962.5 332.3 L963.5 334.8 L964.5 337.2 L965.5 339.5 L966.5 341.6 L967.5 343.5 L968.5 345.3 L969.5 347.0 L970.5 348.6 L971.5 350.0 L972.5 351.3 L973.5 352.5 L974.5 353.6 L975.5 354.6 L976.5 355.5 L977.5 356.4 L978.5 357.1 L979.5 357.8 L980.5 358.5 L981.5 359.0 L982.5 359.6 L983.5 360.0 L984.5 360.5 L985.5 360.8 L986.5 361.2 L987.5 361.5 L988.5 361.8 L989.5 362.1 L990.5 362.3 L991.5 362.5 L992.5 362.7 L993.5 362.9 L994.5 363.1 L995.5 363.2 L996.5 363.4 L997.5 363.5 L998.5 363.6 L999.5 363.8 L1000.5 363.9 L1001.5 364.0 L1002.5 364.1 L1003.5 364.2 L1004.5 364.3 L1005.5 364.3 L1006.5 364.4 L1007.5 364.5 L1008.5 364.6 L1009.5 364.7 L1010.5 364.7 L1011.5 364.8 L1012.5 364.9 L1013.5 365.0 L1014.5 365.0 L1015.5 365.1 L1016.5 365.2 L1017.5 365.2 L1018.5 365.3 L1019.5 365.4 L1020.5 365.4 L1021.5 365.5 L1022.5 365.5 L1023.5 365.6 L1024.5 365.7 L1025.5 365.7 L1026.5 365.8 L1027.5 365.9 L1028.5 365.9 L1029.5 366.0 L1030.5 366.0 L1031.5 366.1 L1032.5 366.2 L1033.5 366.2 L1034.5 366.3 L1035.5 366.3 L1036.5 366.4 L1037.5 366.4 L1038.5 366.5 L1039.5 366.6 L1040.5 366.6 L1041.5 366.7 L1042.5 366.7 L1043.5 366.8 L1044.5 366.8 L1045.5 366.9 L1046.5 367.0 L1047.5 367.0 L1048.5 367.1 L1048.5 367.6 L1040.5 367.2 L1032.5 366.8 L1024.5 366.4 L1016.5 366.0 L1008.5 365.7 L1000.5 365.3 L992.5 364.9 L984.5 364.5 L976.5 364.1 L968.5 363.8 L960.5 363.4 L952.5 363.0 L944.5 362.6 L936.5 362.2 L928.5 361.9 L920.5 361.5 L912.5 361.1 L904.5 360.7 L896.5 360.5 L888.5 360.4 L880.5 360.3 L872.5 360.2 L864.5 360.1 L856.5 360.0 L848.5 359.9 L840.5 359.8 L832.5 359.7 L824.5 359.6 L816.5 359.5 L808.5 359.5 L800.5 359.4Z" fill="#0a7f0a" stroke="#000" stroke-width="1.3" stroke-linejoin="round"/>
<path d="M897.5 360.0 L898.5 359.9 L899.5 359.9 L900.5 359.9 L901.5 359.9 L902.5 359.9 L903.5 359.9 L904.5 359.8 L905.5 359.8 L906.5 359.8 L907.5 359.7 L908.5 359.6 L909.5 359.6 L910.5 359.5 L911.5 359.3 L912.5 359.2 L913.5 359.0 L914.5 358.9 L915.5 358.7 L916.5 358.4 L917.5 358.2 L918.5 357.9 L919.5 357.5 L920.5 357.2 L921.5 356.8 L922.5 356.3 L923.5 355.8 L924.5 355.3 L925.5 354.7 L926.5 354.0 L927.5 353.3 L928.5 352.6 L929.5 351.8 L930.5 350.9 L931.5 349.9 L932.5 348.9 L933.5 347.8 L934.5 346.7 L935.5 345.4 L936.5 344.1 L937.5 342.8 L938.5 341.3 L939.5 339.8 L940.5 338.3 L941.5 336.7 L942.5 335.0 L943.5 333.2 L944.5 331.4 L945.5 329.6 L946.5 327.7 L947.5 325.8 L948.5 323.8 L949.5 321.9 L950.5 319.9 L951.5 317.9 L952.5 315.9 L953.5 313.9 L954.5 312.0 L955.5 310.1 L956.5 308.2 L957.5 306.4 L958.5 304.6 L959.5 302.9 L960.5 301.3 L961.5 299.8 L962.5 298.4 L963.5 297.2 L964.5 296.0 L965.5 295.0 L966.5 294.1 L967.5 293.3 L968.5 292.8 L969.5 292.3 L970.5 292.0 L971.5 291.9 L972.5 292.0 L973.5 292.2 L974.5 292.6 L975.5 293.1 L976.5 293.8 L977.5 294.6 L978.5 295.6 L979.5 296.7 L980.5 298.0 L981.5 299.3 L982.5 300.8 L983.5 302.4 L984.5 304.1 L985.5 305.9 L986.5 307.8 L987.5 309.7 L988.5 311.6 L989.5 313.6 L990.5 315.7 L991.5 317.8 L992.5 319.8 L993.5 321.9 L994.5 324.0 L995.5 326.1 L996.5 328.1 L997.5 330.1 L998.5 332.1 L999.5 334.0 L1000.5 335.9 L1001.5 337.8 L1002.5 339.6 L1003.5 341.3 L1004.5 342.9 L1005.5 344.5 L1006.5 346.1 L1007.5 347.5 L1008.5 348.9 L1009.5 350.2 L1010.5 351.5 L1011.5 352.7 L1012.5 353.8 L1013.5 354.8 L1014.5 355.8 L1015.5 356.7 L1016.5 357.6 L1017.5 358.4 L1018.5 359.1 L1019.5 359.8 L1020.5 360.4 L1021.5 361.0 L1022.5 361.6 L1023.5 362.1 L1024.5 362.5 L1025.5 363.0 L1026.5 363.4 L1027.5 363.7 L1028.5 364.0 L1029.5 364.3 L1030.5 364.6 L1031.5 364.9 L1032.5 365.1 L1033.5 365.3 L1034.5 365.5 L1035.5 365.7 L1036.5 365.9 L1037.5 366.0 L1038.5 366.1 L1039.5 366.3 L1040.5 366.4 L1041.5 366.5 L1042.5 366.6 L1043.5 366.7 L1044.5 366.8 L1045.5 366.9 L1046.5 367.0 L1046.5 367.5 L1038.5 367.1 L1030.5 366.7 L1022.5 366.3 L1014.5 366.0 L1006.5 365.6 L998.5 365.2 L990.5 364.8 L982.5 364.4 L974.5 364.0 L966.5 363.7 L958.5 363.3 L950.5 362.9 L942.5 362.5 L934.5 362.1 L926.5 361.8 L918.5 361.4 L910.5 361.0 L902.5 360.6Z" fill="#0000a0" stroke="#000" stroke-width="1.3" stroke-linejoin="round"/>
<path d="M1135.5 370.1 L1136.5 370.0 L1137.5 369.8 L1138.5 369.7 L1139.5 369.5 L1140.5 369.3 L1141.5 369.1 L1142.5 368.8 L1143.5 368.6 L1144.5 368.3 L1145.5 368.1 L1146.5 367.8 L1147.5 367.6 L1148.5 367.4 L1149.5 367.2 L1150.5 367.0 L1151.5 366.9 L1152.5 366.8 L1153.5 366.8 L1154.5 366.8 L1155.5 366.8 L1156.5 366.9 L1157.5 367.1 L1158.5 367.3 L1159.5 367.5 L1160.5 367.7 L1161.5 367.9 L1162.5 368.2 L1163.5 368.5 L1164.5 368.7 L1165.5 369.0 L1166.5 369.2 L1167.5 369.5 L1168.5 369.7 L1169.5 369.9 L1170.5 370.1 L1171.5 370.2 L1172.5 370.3 L1172.5 370.9 L1164.5 370.9 L1156.5 370.8 L1148.5 370.8 L1140.5 370.7Z" fill="#8000ff" stroke="#000" stroke-width="1.3" stroke-linejoin="round"/>
<path d="M770.5 358.8 L771.5 358.8 L772.5 358.8 L773.5 358.8 L774.5 358.8 L775.5 358.8 L776.5 358.8 L777.5 358.8 L778.5 358.8 L779.5 358.7 L780.5 358.7 L781.5 358.7 L782.5 358.7 L783.5 358.7 L784.5 358.7 L785.5 358.7 L786.5 358.7 L787.5 358.7 L788.5 358.7 L789.5 358.7 L790.5 358.7 L791.5 358.7 L792.5 358.7 L793.5 358.7 L794.5 358.7 L795.5 358.7 L796.5 358.7 L797.5 358.6 L798.5 358.6 L799.5 358.6 L800.5 358.6 L801.5 358.6 L802.5 358.6 L803.5 358.6 L804.5 358.6 L805.5 358.6 L806.5 358.6 L807.5 358.6 L808.5 358.6 L809.5 358.5 L810.5 358.5 L811.5 358.5 L812.5 358.5 L813.5 358.5 L814.5 358.5 L815.5 358.5 L816.5 358.5 L817.5 358.5 L818.5 358.4 L819.5 358.4 L820.5 358.4 L821.5 358.4 L822.5 358.4 L823.5 358.4 L824.5 358.4 L825.5 358.4 L826.5 358.4 L827.5 358.4 L828.5 358.4 L829.5 358.4 L830.5 358.3 L831.5 358.3 L832.5 358.3 L833.5 358.3 L834.5 358.3 L835.5 358.3 L836.5 358.3 L837.5 358.2 L838.5 358.2 L839.5 358.2 L840.5 358.2 L841.5 358.1 L842.5 358.1 L843.5 358.1 L844.5 358.0 L845.5 358.0 L846.5 358.0 L847.5 357.9 L848.5 357.8 L849.5 357.8 L850.5 357.7 L851.5 357.6 L852.5 357.5 L853.5 357.4 L854.5 357.3 L855.5 357.1 L856.5 357.0 L857.5 356.8 L858.5 356.6 L859.5 356.4 L860.5 356.1 L861.5 355.8 L862.5 355.5 L863.5 355.2 L864.5 354.8 L865.5 354.3 L866.5 353.8 L867.5 353.3 L868.5 352.6 L869.5 352.0 L870.5 351.2 L871.5 350.4 L872.5 349.4 L873.5 348.4 L874.5 347.3 L875.5 346.1 L876.5 344.8 L877.5 343.3 L878.5 341.7 L879.5 340.0 L880.5 338.2 L881.5 336.2 L882.5 334.1 L883.5 331.8 L884.5 329.3 L885.5 326.7 L886.5 324.0 L887.5 321.0 L888.5 317.9 L889.5 314.6 L890.5 311.2 L891.5 307.5 L892.5 303.8 L893.5 299.8 L894.5 295.7 L895.5 291.5 L896.5 287.2 L897.5 282.7 L898.5 278.1 L899.5 273.4 L900.5 268.6 L901.5 263.8 L902.5 259.0 L903.5 254.1 L904.5 249.2 L905.5 244.4 L906.5 239.5 L907.5 234.8 L908.5 230.1 L909.5 225.5 L910.5 221.1 L911.5 216.8 L912.5 212.8 L913.5 208.9 L914.5 205.2 L915.5 201.9 L916.5 198.7 L917.5 195.9 L918.5 193.4 L919.5 191.2 L920.5 189.4 L921.5 187.9 L922.5 186.7 L923.5 185.9 L924.5 185.5 L925.5 185.4 L926.5 185.7 L927.5 186.3 L928.5 187.2 L929.5 188.4 L930.5 189.9 L931.5 191.7 L932.5 193.7 L933.5 195.9 L934.5 198.4 L935.5 201.0 L936.5 203.7 L937.5 206.6 L938.5 209.5 L939.5 212.6 L940.5 215.6 L941.5 218.7 L942.5 221.8 L943.5 224.9 L944.5 227.9 L945.5 230.9 L946.5 233.8 L947.5 236.6 L948.5 239.3 L949.5 241.8 L950.5 244.3 L951.5 246.7 L952.5 248.9 L953.5 251.0 L954.5 252.9 L955.5 254.8 L956.5 256.5 L957.5 258.1 L958.5 259.6 L959.5 260.9 L960.5 262.2 L961.5 263.4 L962.5 264.5 L963.5 265.5 L964.5 266.5 L965.5 267.4 L966.5 268.3 L967.5 269.1 L968.5 269.9 L969.5 270.7 L970.5 271.5 L971.5 272.2 L972.5 273.0 L973.5 273.7 L974.5 274.4 L975.5 275.1 L976.5 275.8 L977.5 276.5 L978.5 277.1 L979.5 277.6 L980.5 278.1 L981.5 278.6 L982.5 278.9 L983.5 279.2 L984.5 279.3 L985.5 279.3 L986.5 279.2 L987.5 278.9 L988.5 278.4 L989.5 277.7 L990.5 276.8 L991.5 275.7 L992.5 274.3 L993.5 272.6 L994.5 270.6 L995.5 268.4 L996.5 265.9 L997.5 263.0 L998.5 259.8 L999.5 256.3 L1000.5 252.5 L1001.5 248.4 L1002.5 243.9 L1003.5 239.1 L1004.5 234.0 L1005.5 228.6 L1006.5 223.0 L1007.5 217.0 L1008.5 210.8 L1009.5 204.5 L1010.5 197.9 L1011.5 191.1 L1012.5 184.2 L1013.5 177.3 L1014.5 170.2 L1015.5 163.1 L1016.5 156.1 L1017.5 149.1 L1018.5 142.2 L1019.5 135.4 L1020.5 128.8 L1021.5 122.4 L1022.5 116.3 L1023.5 110.5 L1024.5 105.0 L1025.5 99.9 L1026.5 95.2 L1027.5 91.0 L1028.5 87.2 L1029.5 84.0 L1030.5 81.2 L1031.5 79.0 L1032.5 77.3 L1033.5 76.2 L1034.5 75.7 L1035.5 75.7 L1036.5 76.2 L1037.5 77.3 L1038.5 78.8 L1039.5 80.9 L1040.5 83.4 L1041.5 86.3 L1042.5 89.6 L1043.5 93.3 L1044.5 97.2 L1045.5 101.5 L1046.5 105.9 L1047.5 110.5 L1048.5 115.2 L1049.5 120.0 L1050.5 124.8 L1051.5 129.6 L1052.5 134.4 L1053.5 139.0 L1054.5 143.5 L1055.5 147.8 L1056.5 151.8 L1057.5 155.6 L1058.5 159.1 L1059.5 162.3 L1060.5 165.2 L1061.5 167.8 L1062.5 170.0 L1063.5 171.8 L1064.5 173.3 L1065.5 174.4 L1066.5 175.1 L1067.5 175.5 L1068.5 175.6 L1069.5 175.4 L1070.5 174.9 L1071.5 174.1 L1072.5 173.1 L1073.5 171.9 L1074.5 170.6 L1075.5 169.1 L1076.5 167.6 L1077.5 166.0 L1078.5 164.4 L1079.5 162.8 L1080.5 161.4 L1081.5 160.0 L1082.5 158.8 L1083.5 157.8 L1084.5 157.0 L1085.5 156.5 L1086.5 156.3 L1087.5 156.4 L1088.5 156.9 L1089.5 157.7 L1090.5 158.9 L1091.5 160.4 L1092.5 162.4 L1093.5 164.7 L1094.5 167.4 L1095.5 170.5 L1096.5 174.0 L1097.5 177.8 L1098.5 181.9 L1099.5 186.3 L1100.5 191.1 L1101.5 196.0 L1102.5 201.3 L1103.5 206.7 L1104.5 212.3 L1105.5 218.1 L1106.5 223.9 L1107.5 229.9 L1108.5 235.9 L1109.5 242.0 L1110.5 248.0 L1111.5 254.0 L1112.5 259.9 L1113.5 265.8 L1114.5 271.6 L1115.5 277.2 L1116.5 282.8 L1117.5 288.1 L1118.5 293.4 L1119.5 298.4 L1120.5 303.2 L1121.5 307.9 L1122.5 312.3 L1123.5 316.6 L1124.5 320.6 L1125.5 324.4 L1126.5 328.0 L1127.5 331.4 L1128.5 334.6 L1129.5 337.5 L1130.5 340.3 L1131.5 342.8 L1132.5 345.2 L1133.5 347.4 L1134.5 349.3 L1135.5 351.1 L1136.5 352.7 L1137.5 354.2 L1138.5 355.5 L1139.5 356.6 L1140.5 357.6 L1141.5 358.5 L1142.5 359.3 L1143.5 359.9 L1144.5 360.5 L1145.5 360.9 L1146.5 361.3 L1147.5 361.7 L1148.5 362.0 L1149.5 362.3 L1150.5 362.5 L1151.5 362.7 L1152.5 363.0 L1153.5 363.2 L1154.5 363.5 L1155.5 363.8 L1156.5 364.1 L1157.5 364.4 L1158.5 364.7 L1159.5 365.1 L1160.5 365.4 L1161.5 365.8 L1162.5 366.2 L1163.5 366.5 L1164.5 366.8 L1165.5 367.2 L1166.5 367.5 L1167.5 367.8 L1168.5 368.0 L1169.5 368.3 L1170.5 368.5 L1171.5 368.7 L1172.5 368.9 L1173.5 369.0 L1174.5 369.2 L1175.5 369.3 L1176.5 369.4 L1177.5 369.5 L1178.5 369.5 L1179.5 369.6 L1180.5 369.6 L1181.5 369.7 L1182.5 369.7 L1183.5 369.8 L1184.5 369.8 L1185.5 369.8 L1186.5 369.9" fill="none" stroke="#000" stroke-width="1.3"/>
<path d="M649.5 350.7 L650.5 353.0 L651.5 354.3 L652.5 353.9 L653.5 353.2 L654.5 351.9 L655.5 352.4 L656.5 352.8 L657.5 351.9 L658.5 351.7 L659.5 351.9 L660.5 351.8 L661.5 351.7 L662.5 351.3 L663.5 351.2 L664.5 353.3 L665.5 353.5 L666.5 351.9 L667.5 352.4 L668.5 353.0 L669.5 351.9 L670.5 351.4 L671.5 352.7 L672.5 353.0 L673.5 352.5 L674.5 353.4 L675.5 352.9 L676.5 352.0 L677.5 352.1 L678.5 353.0 L679.5 352.1 L680.5 350.8 L681.5 351.7 L682.5 352.6 L683.5 353.3 L684.5 353.8 L685.5 352.4 L686.5 352.0 L687.5 352.9 L688.5 352.0 L689.5 352.5 L690.5 352.4 L691.5 350.8 L692.5 351.1 L693.5 351.5 L694.5 351.4 L695.5 352.6 L696.5 353.2 L697.5 354.0 L698.5 353.7 L699.5 351.7 L700.5 351.4 L701.5 351.8 L702.5 351.6 L703.5 352.5 L704.5 352.9 L705.5 351.4 L706.5 352.3 L707.5 353.5 L708.5 353.3 L709.5 353.5 L710.5 353.7 L711.5 353.7 L712.5 354.1 L713.5 354.4 L714.5 353.9 L715.5 353.9 L716.5 352.8 L717.5 352.5 L718.5 353.3 L719.5 353.5 L720.5 352.9 L721.5 353.8 L722.5 354.8 L723.5 353.0 L724.5 351.9 L725.5 352.5 L726.5 353.6 L727.5 353.4 L728.5 353.5 L729.5 353.6 L730.5 353.9 L731.5 353.9 L732.5 353.6 L733.5 354.7 L734.5 356.4 L735.5 355.2 L736.5 353.3 L737.5 353.4 L738.5 354.2 L739.5 354.1 L740.5 353.3 L741.5 354.1 L742.5 353.8 L743.5 353.2 L744.5 353.6 L745.5 352.9 L746.5 352.3 L747.5 353.4 L748.5 354.5 L749.5 354.7 L750.5 353.5 L751.5 353.3 L752.5 355.0 L753.5 355.7 L754.5 355.2 L755.5 354.3 L756.5 354.8 L757.5 355.0 L758.5 353.9 L759.5 353.8 L760.5 355.5 L761.5 356.2 L762.5 356.0 L763.5 355.6 L764.5 355.5 L765.5 355.5 L766.5 354.8 L767.5 356.8 L768.5 357.4 L769.5 355.6 L770.5 355.1 L771.5 355.6 L772.5 356.5 L773.5 356.0 L774.5 354.1 L775.5 354.3 L776.5 355.5 L777.5 355.7 L778.5 356.6 L779.5 356.8 L780.5 356.5 L781.5 355.6 L782.5 355.7 L783.5 357.7 L784.5 357.7 L785.5 356.6 L786.5 356.2 L787.5 357.2 L788.5 356.6 L789.5 355.4 L790.5 356.3 L791.5 356.9 L792.5 356.3 L793.5 356.1 L794.5 356.2 L795.5 356.1 L796.5 356.3 L797.5 355.5 L798.5 355.6 L799.5 356.9 L800.5 356.3 L801.5 355.7 L802.5 356.7 L803.5 356.2 L804.5 355.9 L805.5 356.0 L806.5 356.6 L807.5 358.8 L808.5 359.4 L809.5 357.8 L810.5 357.0 L811.5 357.3 L812.5 356.9 L813.5 357.8 L814.5 356.9 L815.5 356.6 L816.5 357.5 L817.5 357.7 L818.5 357.9 L819.5 356.6 L820.5 356.7 L821.5 357.6 L822.5 357.4 L823.5 357.3 L824.5 356.9 L825.5 355.2 L826.5 356.1 L827.5 357.9 L828.5 357.5 L829.5 357.1 L830.5 357.6 L831.5 357.3 L832.5 356.2 L833.5 356.3 L834.5 357.5 L835.5 356.8 L836.5 356.7 L837.5 357.2 L838.5 355.7 L839.5 356.9 L840.5 357.5 L841.5 355.9 L842.5 355.7 L843.5 357.1 L844.5 358.0 L845.5 357.1 L846.5 356.6 L847.5 357.3 L848.5 356.6 L849.5 356.3 L850.5 356.6 L851.5 355.9 L852.5 355.6 L853.5 355.8 L854.5 356.1 L855.5 355.5 L856.5 355.1 L857.5 356.0 L858.5 356.2 L859.5 355.8 L860.5 356.2 L861.5 355.7 L862.5 356.1 L863.5 354.9 L864.5 353.5 L865.5 353.4 L866.5 353.6 L867.5 354.3 L868.5 351.3 L869.5 348.9 L870.5 349.8 L871.5 350.1 L872.5 349.2 L873.5 347.7 L874.5 346.4 L875.5 345.6 L876.5 344.0 L877.5 342.8 L878.5 339.8 L879.5 337.9 L880.5 336.8 L881.5 335.0 L882.5 333.4 L883.5 330.0 L884.5 327.9 L885.5 325.3 L886.5 321.7 L887.5 318.4 L888.5 315.8 L889.5 313.8 L890.5 311.1 L891.5 307.1 L892.5 303.3 L893.5 299.5 L894.5 294.7 L895.5 290.8 L896.5 287.2 L897.5 282.1 L898.5 276.7 L899.5 272.1 L900.5 267.6 L901.5 262.3 L902.5 258.1 L903.5 253.5 L904.5 248.3 L905.5 243.1 L906.5 238.2 L907.5 234.2 L908.5 229.1 L909.5 225.6 L910.5 221.6 L911.5 217.2 L912.5 213.5 L913.5 208.1 L914.5 203.6 L915.5 200.9 L916.5 198.1 L917.5 195.0 L918.5 192.3 L919.5 188.9 L920.5 187.1 L921.5 185.3 L922.5 184.6 L923.5 184.7 L924.5 183.6 L925.5 183.8 L926.5 184.7 L927.5 184.5 L928.5 184.2 L929.5 185.6 L930.5 186.9 L931.5 188.8 L932.5 193.1 L933.5 195.3 L934.5 197.1 L935.5 199.5 L936.5 202.0 L937.5 205.6 L938.5 208.3 L939.5 211.9 L940.5 216.1 L941.5 219.0 L942.5 221.0 L943.5 223.3 L944.5 226.7 L945.5 230.1 L946.5 233.1 L947.5 236.1 L948.5 239.3 L949.5 240.7 L950.5 241.9 L951.5 246.0 L952.5 248.2 L953.5 249.2 L954.5 251.3 L955.5 252.7 L956.5 254.7 L957.5 258.7 L958.5 260.8 L959.5 259.9 L960.5 259.9 L961.5 261.6 L962.5 263.9 L963.5 264.6 L964.5 264.5 L965.5 266.5 L966.5 268.4 L967.5 268.4 L968.5 268.0 L969.5 268.0 L970.5 269.0 L971.5 269.4 L972.5 271.0 L973.5 272.8 L974.5 273.3 L975.5 275.6 L976.5 276.7 L977.5 275.5 L978.5 275.9 L979.5 277.9 L980.5 277.4 L981.5 276.5 L982.5 277.3 L983.5 277.1 L984.5 278.3 L985.5 277.8 L986.5 276.0 L987.5 277.0 L988.5 277.1 L989.5 276.7 L990.5 276.1 L991.5 274.7 L992.5 273.8 L993.5 271.0 L994.5 268.3 L995.5 266.9 L996.5 264.5 L997.5 262.2 L998.5 258.4 L999.5 254.3 L1000.5 251.6 L1001.5 248.1 L1002.5 242.7 L1003.5 239.0 L1004.5 235.8 L1005.5 228.2 L1006.5 221.2 L1007.5 217.8 L1008.5 211.9 L1009.5 204.1 L1010.5 196.9 L1011.5 189.6 L1012.5 182.8 L1013.5 175.8 L1014.5 169.3 L1015.5 162.4 L1016.5 154.5 L1017.5 147.0 L1018.5 140.4 L1019.5 133.8 L1020.5 127.1 L1021.5 122.0 L1022.5 116.2 L1023.5 110.0 L1024.5 104.6 L1025.5 99.2 L1026.5 94.2 L1027.5 89.7 L1028.5 86.5 L1029.5 82.8 L1030.5 80.4 L1031.5 78.9 L1032.5 75.9 L1033.5 74.4 L1034.5 73.9 L1035.5 74.3 L1036.5 74.8 L1037.5 76.5 L1038.5 78.1 L1039.5 77.9 L1040.5 80.5 L1041.5 83.6 L1042.5 87.3 L1043.5 92.9 L1044.5 97.3 L1045.5 100.0 L1046.5 103.6 L1047.5 110.2 L1048.5 115.6 L1049.5 119.2 L1050.5 124.5 L1051.5 130.9 L1052.5 135.8 L1053.5 138.9 L1054.5 142.8 L1055.5 147.4 L1056.5 150.8 L1057.5 153.5 L1058.5 157.5 L1059.5 160.8 L1060.5 163.6 L1061.5 166.8 L1062.5 170.5 L1063.5 171.7 L1064.5 171.6 L1065.5 173.2 L1066.5 174.3 L1067.5 175.5 L1068.5 175.0 L1069.5 173.5 L1070.5 172.3 L1071.5 171.5 L1072.5 171.9 L1073.5 171.3 L1074.5 169.0 L1075.5 167.2 L1076.5 166.4 L1077.5 165.3 L1078.5 163.3 L1079.5 161.3 L1080.5 159.0 L1081.5 157.1 L1082.5 158.1 L1083.5 156.4 L1084.5 154.4 L1085.5 155.5 L1086.5 155.2 L1087.5 154.7 L1088.5 155.3 L1089.5 156.6 L1090.5 157.8 L1091.5 158.2 L1092.5 160.1 L1093.5 163.1 L1094.5 165.5 L1095.5 169.3 L1096.5 173.5 L1097.5 177.7 L1098.5 181.1 L1099.5 185.6 L1100.5 191.4 L1101.5 196.5 L1102.5 201.9 L1103.5 206.5 L1104.5 211.1 L1105.5 217.5 L1106.5 222.6 L1107.5 228.2 L1108.5 234.7 L1109.5 240.4 L1110.5 245.7 L1111.5 251.3 L1112.5 258.4 L1113.5 265.4 L1114.5 271.8 L1115.5 276.8 L1116.5 281.6 L1117.5 286.5 L1118.5 292.1 L1119.5 297.5 L1120.5 302.5 L1121.5 308.4 L1122.5 312.4 L1123.5 314.6 L1124.5 318.1 L1125.5 321.9 L1126.5 325.3 L1127.5 330.5 L1128.5 334.6 L1129.5 335.7 L1130.5 338.7 L1131.5 343.1 L1132.5 344.8 L1133.5 345.7 L1134.5 347.7 L1135.5 350.1 L1136.5 352.3 L1137.5 354.3 L1138.5 356.0 L1139.5 357.2 L1140.5 358.2 L1141.5 358.8 L1142.5 357.7 L1143.5 357.8 L1144.5 359.6 L1145.5 359.9 L1146.5 360.7 L1147.5 361.0 L1148.5 360.2 L1149.5 361.6 L1150.5 362.8 L1151.5 362.3 L1152.5 362.7 L1153.5 363.5 L1154.5 363.4 L1155.5 361.4 L1156.5 361.1 L1157.5 362.7 L1158.5 362.8 L1159.5 363.6 L1160.5 365.3 L1161.5 365.2 L1162.5 364.1 L1163.5 366.1 L1164.5 366.9 L1165.5 365.1 L1166.5 365.9 L1167.5 367.2 L1168.5 366.9 L1169.5 367.3 L1170.5 367.7 L1171.5 366.8 L1172.5 367.4 L1173.5 368.6 L1174.5 368.2 L1175.5 368.1 L1176.5 368.5 L1177.5 370.2 L1178.5 369.9 L1179.5 369.0 L1180.5 369.5 L1181.5 368.6 L1182.5 369.1 L1183.5 369.8 L1184.5 370.2 L1185.5 369.9 L1186.5 368.7" fill="none" stroke="#000" stroke-width="2.0" stroke-linejoin="round"/>
<path d="M649.5 352.3h0M656.5 353.2h0M663.5 352.5h0M670.5 353.2h0M677.5 353.7h0M684.5 352.7h0M691.5 351.3h0M698.5 351.7h0M705.5 351.8h0M712.5 354.7h0M719.5 352.8h0M726.5 354.9h0M733.5 354.6h0M740.5 355.9h0M747.5 355.5h0M754.5 354.8h0M761.5 354.9h0M768.5 355.4h0M775.5 355.8h0M782.5 355.4h0M789.5 356.0h0M796.5 357.7h0M803.5 355.0h0M810.5 356.9h0M817.5 356.0h0M824.5 357.1h0M831.5 357.7h0M838.5 356.8h0M845.5 357.4h0M852.5 354.8h0M859.5 356.1h0M866.5 352.1h0M873.5 347.8h0M880.5 337.2h0M887.5 317.6h0M894.5 294.0h0M901.5 263.0h0M908.5 230.5h0M915.5 201.1h0M922.5 186.0h0M929.5 186.1h0M936.5 204.0h0M943.5 225.5h0M950.5 243.3h0M957.5 256.9h0M964.5 264.0h0M971.5 272.0h0M978.5 278.5h0M985.5 279.0h0M992.5 274.4h0M999.5 255.8h0M1006.5 221.1h0M1013.5 177.5h0M1020.5 126.7h0M1027.5 89.8h0M1034.5 74.9h0M1041.5 86.1h0M1048.5 114.6h0M1055.5 147.1h0M1062.5 168.3h0M1069.5 173.2h0M1076.5 166.6h0M1083.5 156.2h0M1090.5 156.7h0M1097.5 175.6h0M1104.5 210.9h0M1111.5 251.3h0M1118.5 291.1h0M1125.5 322.0h0M1132.5 344.4h0M1139.5 356.0h0M1146.5 362.1h0M1153.5 360.9h0M1160.5 363.8h0M1167.5 367.6h0M1174.5 368.0h0M1181.5 368.4h0" stroke="#000" stroke-width="3.4" stroke-linecap="round" fill="none"/>
<path d="M690.5 683.7 L691.5 683.7 L692.5 683.7 L693.5 683.7 L694.5 683.7 L695.5 683.7 L696.5 683.7 L697.5 683.8 L698.5 683.8 L699.5 683.8 L700.5 683.8 L701.5 683.8 L702.5 683.8 L703.5 683.8 L704.5 683.8 L705.5 683.8 L706.5 683.8 L707.5 683.8 L708.5 683.8 L709.5 683.8 L710.5 683.8 L711.5 683.8 L712.5 683.8 L713.5 683.8 L714.5 683.8 L715.5 683.8 L716.5 683.9 L717.5 683.9 L718.5 683.9 L719.5 683.9 L720.5 683.9 L721.5 683.9 L722.5 683.9 L723.5 683.9 L724.5 683.9 L725.5 683.9 L726.5 683.9 L727.5 683.9 L728.5 683.9 L729.5 683.9 L730.5 683.9 L731.5 683.9 L732.5 683.9 L733.5 683.9 L734.5 683.9 L735.5 684.0 L736.5 684.0 L737.5 684.0 L738.5 684.0 L739.5 684.0 L740.5 684.0 L741.5 684.0 L742.5 684.0 L743.5 684.0 L744.5 684.0 L745.5 684.0 L746.5 684.0 L747.5 684.0 L748.5 684.0 L749.5 684.0 L750.5 684.0 L751.5 684.0 L752.5 684.0 L753.5 684.0 L754.5 684.1 L755.5 684.1 L756.5 684.1 L757.5 684.1 L758.5 684.1 L759.5 684.1 L760.5 684.1 L761.5 684.1 L762.5 684.1 L763.5 684.1 L764.5 684.1 L765.5 684.1 L766.5 684.1 L767.5 684.1 L768.5 684.1 L769.5 684.1 L770.5 684.1 L771.5 684.1 L772.5 684.1 L773.5 684.2 L774.5 684.2 L775.5 684.2 L776.5 684.2 L777.5 684.2 L778.5 684.2 L779.5 684.2 L780.5 684.2 L781.5 684.2 L782.5 684.2 L783.5 684.2 L784.5 684.2 L785.5 684.2 L786.5 684.2 L787.5 684.2 L788.5 684.2 L789.5 684.2 L790.5 684.2 L791.5 684.2 L792.5 684.3 L793.5 684.3 L794.5 684.3 L795.5 684.3 L796.5 684.3 L797.5 684.3 L798.5 684.3 L799.5 684.3 L800.5 684.3 L801.5 684.3 L802.5 684.3 L803.5 684.3 L804.5 684.3 L805.5 684.3 L806.5 684.3 L807.5 684.3 L808.5 684.3 L809.5 684.3 L810.5 684.3 L811.5 684.4 L812.5 684.4 L813.5 684.4 L814.5 684.4 L815.5 684.4 L816.5 684.4 L817.5 684.4 L818.5 684.4 L819.5 684.4 L820.5 684.4 L821.5 684.4 L822.5 684.4 L823.5 684.4 L824.5 684.4 L825.5 684.4 L826.5 684.4 L827.5 684.4 L828.5 684.4 L829.5 684.4 L830.5 684.5 L831.5 684.5 L832.5 684.5 L833.5 684.5 L834.5 684.5 L835.5 684.5 L836.5 684.5 L837.5 684.5 L838.5 684.5 L839.5 684.5 L840.5 684.5 L841.5 684.6 L842.5 684.6 L843.5 684.7 L844.5 684.7 L845.5 684.8 L846.5 684.8 L847.5 684.9 L848.5 684.9 L849.5 684.9 L850.5 685.0 L851.5 685.0 L852.5 685.1 L853.5 685.1 L854.5 685.2 L855.5 685.2 L856.5 685.3 L857.5 685.3 L858.5 685.4 L859.5 685.4 L860.5 685.5 L861.5 685.5 L862.5 685.6 L863.5 685.6 L864.5 685.6 L865.5 685.7 L866.5 685.7 L867.5 685.8 L868.5 685.8 L869.5 685.9 L870.5 685.9 L871.5 686.0 L872.5 686.0 L873.5 686.1 L874.5 686.1 L875.5 686.2 L876.5 686.2 L877.5 686.3 L878.5 686.3 L879.5 686.4 L880.5 686.4 L881.5 686.4 L882.5 686.5 L883.5 686.5 L884.5 686.6 L885.5 686.6 L886.5 686.7 L887.5 686.7 L888.5 686.8 L889.5 686.8 L890.5 686.9 L891.5 686.9 L892.5 687.0 L893.5 687.0 L894.5 687.1 L895.5 687.1 L896.5 687.1 L897.5 687.2 L898.5 687.2 L899.5 687.3 L900.5 687.3 L901.5 687.4 L902.5 687.4 L903.5 687.5 L904.5 687.5 L905.5 687.6 L906.5 687.6 L907.5 687.7 L908.5 687.7 L909.5 687.8 L910.5 687.8 L911.5 687.9 L912.5 687.9 L913.5 687.9 L914.5 688.0 L915.5 688.0 L916.5 688.1 L917.5 688.1 L918.5 688.2 L919.5 688.2 L920.5 688.3 L921.5 688.3 L922.5 688.4 L923.5 688.4 L924.5 688.5 L925.5 688.5 L926.5 688.6 L927.5 688.6 L928.5 688.6 L929.5 688.7 L930.5 688.7 L931.5 688.8 L932.5 688.8 L933.5 688.9 L934.5 688.9 L935.5 689.0 L936.5 689.0 L937.5 689.1 L938.5 689.1 L939.5 689.2 L940.5 689.2 L941.5 689.3 L942.5 689.3 L943.5 689.4 L944.5 689.4 L945.5 689.4 L946.5 689.5 L947.5 689.5 L948.5 689.6 L949.5 689.6 L950.5 689.7 L951.5 689.7 L952.5 689.8 L953.5 689.8 L954.5 689.9 L955.5 689.9 L956.5 690.0 L957.5 690.0 L958.5 690.1 L959.5 690.1 L960.5 690.1 L961.5 690.2 L962.5 690.2 L963.5 690.3 L964.5 690.3 L965.5 690.4 L966.5 690.4 L967.5 690.5 L968.5 690.5 L969.5 690.6 L970.5 690.6 L971.5 690.7 L972.5 690.7 L973.5 690.8 L974.5 690.8 L975.5 690.9 L976.5 690.9 L977.5 690.9 L978.5 691.0 L979.5 691.0 L980.5 691.1 L981.5 691.1 L982.5 691.2 L983.5 691.2 L984.5 691.3 L985.5 691.3 L986.5 691.4 L987.5 691.4 L988.5 691.5 L989.5 691.5 L990.5 691.6 L991.5 691.6 L992.5 691.6 L993.5 691.7 L994.5 691.7 L995.5 691.8 L996.5 691.8 L997.5 691.9 L998.5 691.9 L999.5 692.0 L1000.5 692.0 L1001.5 692.0 L1002.5 692.1 L1003.5 692.1 L1004.5 692.1 L1005.5 692.2 L1006.5 692.2 L1007.5 692.2 L1008.5 692.3 L1009.5 692.3 L1010.5 692.3 L1011.5 692.3 L1012.5 692.4 L1013.5 692.4 L1014.5 692.4 L1015.5 692.5 L1016.5 692.5 L1017.5 692.5 L1018.5 692.6 L1019.5 692.6 L1020.5 692.6 L1021.5 692.6 L1022.5 692.7 L1023.5 692.7 L1024.5 692.7 L1025.5 692.8 L1026.5 692.8 L1027.5 692.8 L1028.5 692.9 L1029.5 692.9 L1030.5 692.9 L1031.5 692.9 L1032.5 693.0 L1033.5 693.0 L1034.5 693.0 L1035.5 693.1 L1036.5 693.1 L1037.5 693.1 L1038.5 693.2 L1039.5 693.2 L1040.5 693.2 L1041.5 693.2 L1042.5 693.3 L1043.5 693.3 L1044.5 693.3 L1045.5 693.4 L1046.5 693.4 L1047.5 693.4 L1048.5 693.5 L1049.5 693.5 L1050.5 693.5 L1051.5 693.5 L1052.5 693.6 L1053.5 693.6 L1054.5 693.6 L1055.5 693.7 L1056.5 693.7 L1057.5 693.7 L1058.5 693.8 L1059.5 693.8 L1060.5 693.8 L1061.5 693.8 L1062.5 693.9 L1063.5 693.9 L1064.5 693.9 L1065.5 694.0 L1066.5 694.0 L1067.5 694.0 L1068.5 694.1 L1069.5 694.1 L1070.5 694.1 L1071.5 694.1 L1072.5 694.2 L1073.5 694.2 L1074.5 694.2 L1075.5 694.3 L1076.5 694.3 L1077.5 694.3 L1078.5 694.4 L1079.5 694.4 L1080.5 694.4 L1081.5 694.4 L1082.5 694.5 L1083.5 694.5 L1084.5 694.5 L1085.5 694.6 L1086.5 694.6 L1087.5 694.6 L1088.5 694.7 L1089.5 694.7 L1090.5 694.7 L1091.5 694.7 L1092.5 694.8 L1093.5 694.8 L1094.5 694.8 L1095.5 694.9 L1096.5 694.9 L1097.5 694.9 L1098.5 695.0 L1099.5 695.0 L1100.5 695.0 L1101.5 695.0 L1102.5 695.0 L1103.5 695.0 L1104.5 695.1 L1105.5 695.1 L1106.5 695.1 L1107.5 695.1 L1108.5 695.1 L1109.5 695.1 L1110.5 695.1 L1111.5 695.1 L1112.5 695.1 L1113.5 695.2 L1114.5 695.2 L1115.5 695.2 L1116.5 695.2 L1117.5 695.2 L1118.5 695.2 L1119.5 695.2 L1120.5 695.2 L1121.5 695.2 L1122.5 695.3 L1123.5 695.3 L1124.5 695.3 L1125.5 695.3 L1126.5 695.3 L1127.5 695.3 L1128.5 695.3 L1129.5 695.3 L1130.5 695.4 L1131.5 695.4 L1132.5 695.4 L1133.5 695.4 L1134.5 695.4 L1135.5 695.4 L1136.5 695.4 L1137.5 695.4 L1138.5 695.4 L1139.5 695.5 L1140.5 695.5 L1141.5 695.5 L1142.5 695.5 L1143.5 695.5 L1144.5 695.5 L1145.5 695.5 L1146.5 695.5 L1147.5 695.5 L1148.5 695.6 L1149.5 695.6 L1150.5 695.6 L1151.5 695.6 L1152.5 695.6 L1153.5 695.6 L1154.5 695.6 L1155.5 695.6 L1156.5 695.7 L1157.5 695.7 L1158.5 695.7 L1159.5 695.7 L1160.5 695.7 L1161.5 695.7 L1162.5 695.7 L1163.5 695.7 L1164.5 695.7 L1165.5 695.8 L1166.5 695.8 L1167.5 695.8 L1168.5 695.8 L1169.5 695.8 L1170.5 695.8 L1171.5 695.8 L1172.5 695.8 L1173.5 695.8 L1174.5 695.9 L1175.5 695.9 L1176.5 695.9 L1177.5 695.9 L1178.5 695.9 L1179.5 695.9 L1180.5 695.9 L1181.5 695.9 L1182.5 696.0 L1183.5 696.0 L1184.5 696.0 L1185.5 696.0 L1186.5 696.0" fill="none" stroke="#000" stroke-width="1.4"/>
<path d="M762.5 683.5 L763.5 683.5 L764.5 683.4 L765.5 683.3 L766.5 683.3 L767.5 683.2 L768.5 683.1 L769.5 683.0 L770.5 682.8 L771.5 682.7 L772.5 682.5 L773.5 682.4 L774.5 682.2 L775.5 682.0 L776.5 681.8 L777.5 681.5 L778.5 681.3 L779.5 681.0 L780.5 680.7 L781.5 680.4 L782.5 680.0 L783.5 679.7 L784.5 679.3 L785.5 678.9 L786.5 678.5 L787.5 678.0 L788.5 677.6 L789.5 677.1 L790.5 676.6 L791.5 676.0 L792.5 675.5 L793.5 674.9 L794.5 674.3 L795.5 673.7 L796.5 673.1 L797.5 672.5 L798.5 671.8 L799.5 671.2 L800.5 670.5 L801.5 669.9 L802.5 669.2 L803.5 668.6 L804.5 668.0 L805.5 667.3 L806.5 666.7 L807.5 666.1 L808.5 665.6 L809.5 665.0 L810.5 664.5 L811.5 664.0 L812.5 663.6 L813.5 663.2 L814.5 662.8 L815.5 662.4 L816.5 662.1 L817.5 661.9 L818.5 661.7 L819.5 661.6 L820.5 661.5 L821.5 661.4 L822.5 661.4 L823.5 661.5 L824.5 661.6 L825.5 661.7 L826.5 661.9 L827.5 662.2 L828.5 662.5 L829.5 662.9 L830.5 663.2 L831.5 663.7 L832.5 664.1 L833.5 664.6 L834.5 665.2 L835.5 665.7 L836.5 666.3 L837.5 666.9 L838.5 667.5 L839.5 668.1 L840.5 668.8 L841.5 669.5 L842.5 670.2 L843.5 670.9 L844.5 671.6 L845.5 672.3 L846.5 673.0 L847.5 673.7 L848.5 674.3 L849.5 675.0 L850.5 675.6 L851.5 676.3 L852.5 676.9 L853.5 677.4 L854.5 678.0 L855.5 678.6 L856.5 679.1 L857.5 679.6 L858.5 680.1 L859.5 680.5 L860.5 680.9 L861.5 681.4 L862.5 681.7 L863.5 682.1 L864.5 682.5 L865.5 682.8 L866.5 683.1 L867.5 683.4 L868.5 683.7 L869.5 683.9 L870.5 684.1 L871.5 684.4 L872.5 684.6 L873.5 684.8 L874.5 684.9 L875.5 685.1 L876.5 685.3 L877.5 685.4 L878.5 685.5 L879.5 685.7 L880.5 685.8 L881.5 685.9 L881.5 686.4 L873.5 686.1 L865.5 685.7 L857.5 685.3 L849.5 684.9 L841.5 684.6 L833.5 684.5 L825.5 684.4 L817.5 684.4 L809.5 684.3 L801.5 684.3 L793.5 684.3 L785.5 684.2 L777.5 684.2 L769.5 684.1Z" fill="#fff" stroke="#000" stroke-width="1.4" stroke-linejoin="round"/>
<path d="M688.5 683.2 L689.5 683.1 L690.5 683.1 L691.5 683.0 L692.5 682.9 L693.5 682.9 L694.5 682.8 L695.5 682.7 L696.5 682.6 L697.5 682.4 L698.5 682.3 L699.5 682.2 L700.5 682.0 L701.5 681.9 L702.5 681.7 L703.5 681.5 L704.5 681.3 L705.5 681.1 L706.5 680.9 L707.5 680.7 L708.5 680.5 L709.5 680.3 L710.5 680.1 L711.5 679.8 L712.5 679.6 L713.5 679.3 L714.5 679.1 L715.5 678.8 L716.5 678.6 L717.5 678.4 L718.5 678.1 L719.5 677.9 L720.5 677.6 L721.5 677.4 L722.5 677.2 L723.5 677.0 L724.5 676.8 L725.5 676.7 L726.5 676.5 L727.5 676.4 L728.5 676.2 L729.5 676.1 L730.5 676.1 L731.5 676.0 L732.5 676.0 L733.5 675.9 L734.5 675.9 L735.5 676.0 L736.5 676.0 L737.5 676.1 L738.5 676.2 L739.5 676.3 L740.5 676.4 L741.5 676.6 L742.5 676.7 L743.5 676.9 L744.5 677.1 L745.5 677.3 L746.5 677.6 L747.5 677.8 L748.5 678.0 L749.5 678.3 L750.5 678.5 L751.5 678.8 L752.5 679.0 L753.5 679.3 L754.5 679.6 L755.5 679.8 L756.5 680.1 L757.5 680.3 L758.5 680.6 L759.5 680.8 L760.5 681.0 L761.5 681.2 L762.5 681.4 L763.5 681.7 L764.5 681.8 L765.5 682.0 L766.5 682.2 L767.5 682.4 L768.5 682.5 L769.5 682.7 L770.5 682.8 L771.5 682.9 L772.5 683.1 L773.5 683.2 L774.5 683.3 L775.5 683.4 L776.5 683.5 L777.5 683.5 L778.5 683.6 L779.5 683.7 L779.5 684.2 L771.5 684.1 L763.5 684.1 L755.5 684.1 L747.5 684.0 L739.5 684.0 L731.5 683.9 L723.5 683.9 L715.5 683.8 L707.5 683.8 L699.5 683.8 L691.5 683.7Z" fill="#fff" stroke="#000" stroke-width="1.4" stroke-linejoin="round"/>
<path d="M1014.5 691.9 L1015.5 691.9 L1016.5 691.9 L1017.5 691.8 L1018.5 691.8 L1019.5 691.7 L1020.5 691.7 L1021.5 691.6 L1022.5 691.5 L1023.5 691.4 L1024.5 691.3 L1025.5 691.2 L1026.5 691.1 L1027.5 690.9 L1028.5 690.7 L1029.5 690.6 L1030.5 690.3 L1031.5 690.1 L1032.5 689.8 L1033.5 689.6 L1034.5 689.2 L1035.5 688.9 L1036.5 688.5 L1037.5 688.1 L1038.5 687.7 L1039.5 687.3 L1040.5 686.8 L1041.5 686.2 L1042.5 685.7 L1043.5 685.0 L1044.5 684.4 L1045.5 683.7 L1046.5 683.0 L1047.5 682.2 L1048.5 681.4 L1049.5 680.6 L1050.5 679.7 L1051.5 678.8 L1052.5 677.8 L1053.5 676.9 L1054.5 675.8 L1055.5 674.8 L1056.5 673.7 L1057.5 672.6 L1058.5 671.4 L1059.5 670.3 L1060.5 669.1 L1061.5 667.9 L1062.5 666.7 L1063.5 665.5 L1064.5 664.3 L1065.5 663.1 L1066.5 661.9 L1067.5 660.7 L1068.5 659.6 L1069.5 658.4 L1070.5 657.3 L1071.5 656.3 L1072.5 655.2 L1073.5 654.2 L1074.5 653.3 L1075.5 652.4 L1076.5 651.6 L1077.5 650.8 L1078.5 650.2 L1079.5 649.5 L1080.5 649.0 L1081.5 648.6 L1082.5 648.2 L1083.5 647.9 L1084.5 647.7 L1085.5 647.6 L1086.5 647.6 L1087.5 647.7 L1088.5 647.8 L1089.5 648.1 L1090.5 648.4 L1091.5 648.9 L1092.5 649.4 L1093.5 650.0 L1094.5 650.6 L1095.5 651.4 L1096.5 652.2 L1097.5 653.1 L1098.5 654.0 L1099.5 655.0 L1100.5 656.1 L1101.5 657.1 L1102.5 658.2 L1103.5 659.4 L1104.5 660.6 L1105.5 661.8 L1106.5 663.0 L1107.5 664.2 L1108.5 665.5 L1109.5 666.7 L1110.5 668.0 L1111.5 669.2 L1112.5 670.4 L1113.5 671.7 L1114.5 672.9 L1115.5 674.0 L1116.5 675.2 L1117.5 676.3 L1118.5 677.4 L1119.5 678.5 L1120.5 679.5 L1121.5 680.5 L1122.5 681.5 L1123.5 682.4 L1124.5 683.3 L1125.5 684.1 L1126.5 684.9 L1127.5 685.7 L1128.5 686.4 L1129.5 687.1 L1130.5 687.7 L1131.5 688.3 L1132.5 688.9 L1133.5 689.5 L1134.5 690.0 L1135.5 690.4 L1136.5 690.9 L1137.5 691.3 L1138.5 691.7 L1139.5 692.0 L1140.5 692.3 L1141.5 692.6 L1142.5 692.9 L1143.5 693.2 L1144.5 693.4 L1145.5 693.6 L1146.5 693.8 L1147.5 694.0 L1148.5 694.2 L1149.5 694.3 L1150.5 694.4 L1151.5 694.6 L1152.5 694.7 L1153.5 694.8 L1154.5 694.9 L1155.5 695.0 L1156.5 695.0 L1157.5 695.1 L1158.5 695.2 L1158.5 695.7 L1150.5 695.6 L1142.5 695.5 L1134.5 695.4 L1126.5 695.3 L1118.5 695.2 L1110.5 695.1 L1102.5 695.0 L1094.5 694.8 L1086.5 694.6 L1078.5 694.4 L1070.5 694.1 L1062.5 693.9 L1054.5 693.6 L1046.5 693.4 L1038.5 693.2 L1030.5 692.9 L1022.5 692.7 L1014.5 692.4Z" fill="#fff" stroke="#000" stroke-width="1.4" stroke-linejoin="round"/>
<path d="M828.5 683.9 L829.5 683.9 L830.5 683.9 L831.5 683.9 L832.5 683.9 L833.5 683.9 L834.5 683.9 L835.5 683.9 L836.5 683.9 L837.5 683.9 L838.5 683.9 L839.5 683.9 L840.5 683.9 L841.5 683.9 L842.5 684.0 L843.5 684.0 L844.5 684.0 L845.5 684.1 L846.5 684.1 L847.5 684.1 L848.5 684.2 L849.5 684.2 L850.5 684.2 L851.5 684.3 L852.5 684.3 L853.5 684.3 L854.5 684.4 L855.5 684.4 L856.5 684.4 L857.5 684.4 L858.5 684.4 L859.5 684.5 L860.5 684.5 L861.5 684.5 L862.5 684.5 L863.5 684.5 L864.5 684.5 L865.5 684.5 L866.5 684.5 L867.5 684.5 L868.5 684.5 L869.5 684.4 L870.5 684.4 L871.5 684.3 L872.5 684.2 L873.5 684.2 L874.5 684.1 L875.5 683.9 L876.5 683.8 L877.5 683.6 L878.5 683.4 L879.5 683.2 L880.5 682.9 L881.5 682.6 L882.5 682.3 L883.5 681.9 L884.5 681.4 L885.5 680.9 L886.5 680.3 L887.5 679.6 L888.5 678.9 L889.5 678.0 L890.5 677.1 L891.5 676.1 L892.5 674.9 L893.5 673.6 L894.5 672.2 L895.5 670.6 L896.5 668.9 L897.5 667.0 L898.5 664.9 L899.5 662.7 L900.5 660.2 L901.5 657.5 L902.5 654.6 L903.5 651.5 L904.5 648.1 L905.5 644.5 L906.5 640.6 L907.5 636.4 L908.5 632.0 L909.5 627.3 L910.5 622.3 L911.5 617.0 L912.5 611.5 L913.5 605.6 L914.5 599.5 L915.5 593.1 L916.5 586.5 L917.5 579.6 L918.5 572.5 L919.5 565.1 L920.5 557.5 L921.5 549.8 L922.5 541.9 L923.5 533.8 L924.5 525.7 L925.5 517.4 L926.5 509.2 L927.5 500.9 L928.5 492.6 L929.5 484.4 L930.5 476.3 L931.5 468.4 L932.5 460.6 L933.5 453.1 L934.5 445.8 L935.5 438.9 L936.5 432.2 L937.5 426.0 L938.5 420.2 L939.5 414.9 L940.5 410.1 L941.5 405.8 L942.5 402.1 L943.5 398.9 L944.5 396.4 L945.5 394.5 L946.5 393.2 L947.5 392.6 L948.5 392.7 L949.5 393.3 L950.5 394.5 L951.5 396.2 L952.5 398.5 L953.5 401.4 L954.5 404.7 L955.5 408.6 L956.5 413.0 L957.5 417.8 L958.5 423.0 L959.5 428.6 L960.5 434.6 L961.5 440.9 L962.5 447.6 L963.5 454.5 L964.5 461.6 L965.5 468.9 L966.5 476.4 L967.5 484.1 L968.5 491.8 L969.5 499.6 L970.5 507.4 L971.5 515.3 L972.5 523.1 L973.5 530.8 L974.5 538.5 L975.5 546.1 L976.5 553.6 L977.5 560.9 L978.5 568.0 L979.5 575.0 L980.5 581.8 L981.5 588.4 L982.5 594.7 L983.5 600.8 L984.5 606.7 L985.5 612.4 L986.5 617.8 L987.5 623.0 L988.5 627.9 L989.5 632.5 L990.5 636.9 L991.5 641.1 L992.5 645.1 L993.5 648.8 L994.5 652.3 L995.5 655.5 L996.5 658.6 L997.5 661.4 L998.5 664.1 L999.5 666.5 L1000.5 668.8 L1001.5 670.9 L1002.5 672.8 L1003.5 674.6 L1004.5 676.2 L1005.5 677.7 L1006.5 679.1 L1007.5 680.4 L1008.5 681.5 L1009.5 682.5 L1010.5 683.5 L1011.5 684.4 L1012.5 685.1 L1013.5 685.9 L1014.5 686.5 L1015.5 687.1 L1016.5 687.6 L1017.5 688.1 L1018.5 688.5 L1019.5 688.9 L1020.5 689.2 L1021.5 689.6 L1022.5 689.8 L1023.5 690.1 L1024.5 690.3 L1025.5 690.5 L1026.5 690.7 L1027.5 690.9 L1028.5 691.1 L1029.5 691.2 L1030.5 691.3 L1031.5 691.4 L1032.5 691.6 L1033.5 691.7 L1034.5 691.7 L1035.5 691.8 L1036.5 691.9 L1037.5 692.0 L1038.5 692.1 L1039.5 692.1 L1040.5 692.2 L1041.5 692.3 L1042.5 692.3 L1043.5 692.4 L1044.5 692.4 L1045.5 692.5 L1046.5 692.5 L1047.5 692.6 L1048.5 692.6 L1049.5 692.7 L1050.5 692.7 L1051.5 692.8 L1052.5 692.8 L1053.5 692.9 L1054.5 692.9 L1055.5 693.0 L1056.5 693.0 L1057.5 693.0 L1058.5 693.1 L1059.5 693.1 L1060.5 693.2 L1061.5 693.2 L1062.5 693.2 L1063.5 693.3 L1064.5 693.3 L1065.5 693.4 L1066.5 693.4 L1067.5 693.4 L1068.5 693.5 L1069.5 693.5 L1070.5 693.6 L1071.5 693.6 L1072.5 693.6 L1073.5 693.7 L1074.5 693.7 L1075.5 693.8 L1076.5 693.8 L1076.5 694.3 L1068.5 694.1 L1060.5 693.8 L1052.5 693.6 L1044.5 693.3 L1036.5 693.1 L1028.5 692.9 L1020.5 692.6 L1012.5 692.4 L1004.5 692.1 L996.5 691.8 L988.5 691.5 L980.5 691.1 L972.5 690.7 L964.5 690.3 L956.5 690.0 L948.5 689.6 L940.5 689.2 L932.5 688.8 L924.5 688.5 L916.5 688.1 L908.5 687.7 L900.5 687.3 L892.5 687.0 L884.5 686.6 L876.5 686.2 L868.5 685.8 L860.5 685.5 L852.5 685.1 L844.5 684.7 L836.5 684.5 L828.5 684.4Z" fill="#0a7f0a" stroke="#000" stroke-width="1.4" stroke-linejoin="round"/>
<path d="M977.5 690.4 L978.5 690.4 L979.5 690.4 L980.5 690.3 L981.5 690.2 L982.5 690.2 L983.5 690.1 L984.5 690.0 L985.5 689.8 L986.5 689.7 L987.5 689.5 L988.5 689.3 L989.5 689.0 L990.5 688.8 L991.5 688.5 L992.5 688.1 L993.5 687.7 L994.5 687.3 L995.5 686.8 L996.5 686.3 L997.5 685.8 L998.5 685.2 L999.5 684.5 L1000.5 683.8 L1001.5 683.0 L1002.5 682.2 L1003.5 681.3 L1004.5 680.4 L1005.5 679.4 L1006.5 678.4 L1007.5 677.3 L1008.5 676.2 L1009.5 675.0 L1010.5 673.8 L1011.5 672.6 L1012.5 671.4 L1013.5 670.1 L1014.5 668.8 L1015.5 667.5 L1016.5 666.3 L1017.5 665.0 L1018.5 663.8 L1019.5 662.6 L1020.5 661.4 L1021.5 660.3 L1022.5 659.2 L1023.5 658.2 L1024.5 657.3 L1025.5 656.5 L1026.5 655.7 L1027.5 655.1 L1028.5 654.6 L1029.5 654.1 L1030.5 653.8 L1031.5 653.6 L1032.5 653.5 L1033.5 653.5 L1034.5 653.7 L1035.5 653.9 L1036.5 654.3 L1037.5 654.8 L1038.5 655.4 L1039.5 656.1 L1040.5 656.9 L1041.5 657.8 L1042.5 658.8 L1043.5 659.9 L1044.5 661.0 L1045.5 662.2 L1046.5 663.4 L1047.5 664.7 L1048.5 666.0 L1049.5 667.3 L1050.5 668.6 L1051.5 669.9 L1052.5 671.3 L1053.5 672.6 L1054.5 673.9 L1055.5 675.2 L1056.5 676.4 L1057.5 677.6 L1058.5 678.8 L1059.5 679.9 L1060.5 681.0 L1061.5 682.1 L1062.5 683.1 L1063.5 684.0 L1064.5 684.9 L1065.5 685.7 L1066.5 686.5 L1067.5 687.3 L1068.5 687.9 L1069.5 688.6 L1070.5 689.2 L1071.5 689.7 L1072.5 690.2 L1073.5 690.7 L1074.5 691.1 L1075.5 691.5 L1076.5 691.8 L1077.5 692.1 L1078.5 692.4 L1079.5 692.7 L1080.5 692.9 L1081.5 693.1 L1082.5 693.3 L1083.5 693.5 L1084.5 693.6 L1085.5 693.8 L1086.5 693.9 L1087.5 694.0 L1088.5 694.1 L1088.5 694.7 L1080.5 694.4 L1072.5 694.2 L1064.5 693.9 L1056.5 693.7 L1048.5 693.5 L1040.5 693.2 L1032.5 693.0 L1024.5 692.7 L1016.5 692.5 L1008.5 692.3 L1000.5 692.0 L992.5 691.6 L984.5 691.3Z" fill="#ffff00" stroke="#000" stroke-width="1.4" stroke-linejoin="round"/>
<path d="M690.5 682.9 L691.5 682.9 L692.5 682.8 L693.5 682.7 L694.5 682.6 L695.5 682.5 L696.5 682.4 L697.5 682.3 L698.5 682.1 L699.5 682.0 L700.5 681.9 L701.5 681.7 L702.5 681.5 L703.5 681.4 L704.5 681.2 L705.5 681.0 L706.5 680.8 L707.5 680.6 L708.5 680.3 L709.5 680.1 L710.5 679.9 L711.5 679.6 L712.5 679.4 L713.5 679.2 L714.5 678.9 L715.5 678.7 L716.5 678.4 L717.5 678.2 L718.5 677.9 L719.5 677.7 L720.5 677.5 L721.5 677.2 L722.5 677.0 L723.5 676.8 L724.5 676.6 L725.5 676.5 L726.5 676.3 L727.5 676.2 L728.5 676.0 L729.5 675.9 L730.5 675.8 L731.5 675.8 L732.5 675.7 L733.5 675.7 L734.5 675.7 L735.5 675.7 L736.5 675.8 L737.5 675.8 L738.5 675.9 L739.5 676.0 L740.5 676.2 L741.5 676.3 L742.5 676.5 L743.5 676.7 L744.5 676.8 L745.5 677.0 L746.5 677.3 L747.5 677.5 L748.5 677.7 L749.5 677.9 L750.5 678.2 L751.5 678.4 L752.5 678.6 L753.5 678.9 L754.5 679.1 L755.5 679.3 L756.5 679.6 L757.5 679.8 L758.5 680.0 L759.5 680.2 L760.5 680.4 L761.5 680.5 L762.5 680.7 L763.5 680.8 L764.5 680.9 L765.5 681.0 L766.5 681.1 L767.5 681.2 L768.5 681.2 L769.5 681.3 L770.5 681.3 L771.5 681.2 L772.5 681.2 L773.5 681.1 L774.5 681.0 L775.5 680.9 L776.5 680.8 L777.5 680.6 L778.5 680.4 L779.5 680.2 L780.5 680.0 L781.5 679.7 L782.5 679.4 L783.5 679.1 L784.5 678.7 L785.5 678.4 L786.5 678.0 L787.5 677.5 L788.5 677.1 L789.5 676.6 L790.5 676.1 L791.5 675.6 L792.5 675.0 L793.5 674.5 L794.5 673.9 L795.5 673.3 L796.5 672.7 L797.5 672.1 L798.5 671.4 L799.5 670.8 L800.5 670.1 L801.5 669.5 L802.5 668.8 L803.5 668.2 L804.5 667.6 L805.5 666.9 L806.5 666.3 L807.5 665.7 L808.5 665.1 L809.5 664.6 L810.5 664.1 L811.5 663.6 L812.5 663.1 L813.5 662.7 L814.5 662.3 L815.5 662.0 L816.5 661.7 L817.5 661.4 L818.5 661.2 L819.5 661.1 L820.5 661.0 L821.5 660.9 L822.5 660.9 L823.5 661.0 L824.5 661.1 L825.5 661.2 L826.5 661.4 L827.5 661.7 L828.5 662.0 L829.5 662.3 L830.5 662.7 L831.5 663.1 L832.5 663.5 L833.5 664.0 L834.5 664.6 L835.5 665.1 L836.5 665.7 L837.5 666.3 L838.5 666.9 L839.5 667.5 L840.5 668.2 L841.5 668.8 L842.5 669.5 L843.5 670.2 L844.5 670.9 L845.5 671.6 L846.5 672.2 L847.5 672.9 L848.5 673.6 L849.5 674.2 L850.5 674.8 L851.5 675.4 L852.5 676.0 L853.5 676.6 L854.5 677.1 L855.5 677.7 L856.5 678.2 L857.5 678.6 L858.5 679.1 L859.5 679.5 L860.5 679.9 L861.5 680.3 L862.5 680.6 L863.5 681.0 L864.5 681.3 L865.5 681.5 L866.5 681.8 L867.5 682.0 L868.5 682.2 L869.5 682.4 L870.5 682.5 L871.5 682.7 L872.5 682.7 L873.5 682.8 L874.5 682.8 L875.5 682.8 L876.5 682.8 L877.5 682.7 L878.5 682.6 L879.5 682.5 L880.5 682.3 L881.5 682.0 L882.5 681.7 L883.5 681.4 L884.5 681.0 L885.5 680.5 L886.5 679.9 L887.5 679.3 L888.5 678.6 L889.5 677.8 L890.5 676.9 L891.5 675.8 L892.5 674.7 L893.5 673.4 L894.5 672.0 L895.5 670.4 L896.5 668.7 L897.5 666.8 L898.5 664.8 L899.5 662.5 L900.5 660.0 L901.5 657.4 L902.5 654.5 L903.5 651.3 L904.5 648.0 L905.5 644.3 L906.5 640.4 L907.5 636.3 L908.5 631.9 L909.5 627.1 L910.5 622.2 L911.5 616.9 L912.5 611.3 L913.5 605.5 L914.5 599.4 L915.5 593.0 L916.5 586.4 L917.5 579.5 L918.5 572.3 L919.5 565.0 L920.5 557.4 L921.5 549.7 L922.5 541.8 L923.5 533.7 L924.5 525.6 L925.5 517.3 L926.5 509.0 L927.5 500.8 L928.5 492.5 L929.5 484.3 L930.5 476.2 L931.5 468.3 L932.5 460.5 L933.5 453.0 L934.5 445.7 L935.5 438.7 L936.5 432.1 L937.5 425.9 L938.5 420.1 L939.5 414.8 L940.5 409.9 L941.5 405.7 L942.5 401.9 L943.5 398.8 L944.5 396.2 L945.5 394.3 L946.5 393.1 L947.5 392.5 L948.5 392.5 L949.5 393.1 L950.5 394.3 L951.5 396.1 L952.5 398.4 L953.5 401.2 L954.5 404.6 L955.5 408.4 L956.5 412.8 L957.5 417.6 L958.5 422.8 L959.5 428.4 L960.5 434.4 L961.5 440.7 L962.5 447.4 L963.5 454.2 L964.5 461.4 L965.5 468.7 L966.5 476.2 L967.5 483.8 L968.5 491.5 L969.5 499.3 L970.5 507.1 L971.5 514.9 L972.5 522.7 L973.5 530.4 L974.5 538.1 L975.5 545.6 L976.5 553.0 L977.5 560.3 L978.5 567.3 L979.5 574.2 L980.5 580.9 L981.5 587.4 L982.5 593.6 L983.5 599.6 L984.5 605.3 L985.5 610.8 L986.5 616.0 L987.5 620.9 L988.5 625.6 L989.5 629.9 L990.5 634.0 L991.5 637.8 L992.5 641.4 L993.5 644.7 L994.5 647.7 L995.5 650.4 L996.5 652.9 L997.5 655.1 L998.5 657.1 L999.5 658.9 L1000.5 660.4 L1001.5 661.6 L1002.5 662.7 L1003.5 663.6 L1004.5 664.2 L1005.5 664.7 L1006.5 665.0 L1007.5 665.1 L1008.5 665.1 L1009.5 664.9 L1010.5 664.6 L1011.5 664.1 L1012.5 663.6 L1013.5 663.0 L1014.5 662.2 L1015.5 661.4 L1016.5 660.6 L1017.5 659.7 L1018.5 658.7 L1019.5 657.7 L1020.5 656.8 L1021.5 655.8 L1022.5 654.8 L1023.5 653.8 L1024.5 652.9 L1025.5 652.0 L1026.5 651.1 L1027.5 650.3 L1028.5 649.6 L1029.5 648.9 L1030.5 648.3 L1031.5 647.7 L1032.5 647.3 L1033.5 646.9 L1034.5 646.6 L1035.5 646.3 L1036.5 646.1 L1037.5 646.0 L1038.5 646.0 L1039.5 646.0 L1040.5 646.1 L1041.5 646.2 L1042.5 646.4 L1043.5 646.6 L1044.5 646.8 L1045.5 647.1 L1046.5 647.4 L1047.5 647.7 L1048.5 648.0 L1049.5 648.2 L1050.5 648.5 L1051.5 648.8 L1052.5 649.0 L1053.5 649.2 L1054.5 649.4 L1055.5 649.6 L1056.5 649.7 L1057.5 649.8 L1058.5 649.8 L1059.5 649.9 L1060.5 649.8 L1061.5 649.8 L1062.5 649.7 L1063.5 649.5 L1064.5 649.3 L1065.5 649.1 L1066.5 648.9 L1067.5 648.7 L1068.5 648.4 L1069.5 648.1 L1070.5 647.8 L1071.5 647.4 L1072.5 647.1 L1073.5 646.8 L1074.5 646.5 L1075.5 646.2 L1076.5 646.0 L1077.5 645.7 L1078.5 645.5 L1079.5 645.3 L1080.5 645.2 L1081.5 645.1 L1082.5 645.1 L1083.5 645.1 L1084.5 645.2 L1085.5 645.3 L1086.5 645.5 L1087.5 645.8 L1088.5 646.2 L1089.5 646.6 L1090.5 647.1 L1091.5 647.6 L1092.5 648.2 L1093.5 648.9 L1094.5 649.7 L1095.5 650.5 L1096.5 651.4 L1097.5 652.3 L1098.5 653.3 L1099.5 654.4 L1100.5 655.4 L1101.5 656.5 L1102.5 657.7 L1103.5 658.9 L1104.5 660.1 L1105.5 661.3 L1106.5 662.5 L1107.5 663.8 L1108.5 665.0 L1109.5 666.3 L1110.5 667.5 L1111.5 668.8 L1112.5 670.0 L1113.5 671.3 L1114.5 672.5 L1115.5 673.6 L1116.5 674.8 L1117.5 675.9 L1118.5 677.0 L1119.5 678.1 L1120.5 679.1 L1121.5 680.1 L1122.5 681.1 L1123.5 682.0 L1124.5 682.9 L1125.5 683.8 L1126.5 684.6 L1127.5 685.3 L1128.5 686.1 L1129.5 686.8 L1130.5 687.4 L1131.5 688.0 L1132.5 688.6 L1133.5 689.2 L1134.5 689.7 L1135.5 690.1 L1136.5 690.6 L1137.5 691.0 L1138.5 691.4 L1139.5 691.7 L1140.5 692.1 L1141.5 692.4 L1142.5 692.6 L1143.5 692.9 L1144.5 693.1 L1145.5 693.4 L1146.5 693.6 L1147.5 693.7 L1148.5 693.9 L1149.5 694.1 L1150.5 694.2 L1151.5 694.3 L1152.5 694.4 L1153.5 694.5 L1154.5 694.6 L1155.5 694.7 L1156.5 694.8 L1157.5 694.9 L1158.5 694.9 L1159.5 695.0 L1160.5 695.1 L1161.5 695.1 L1162.5 695.2 L1163.5 695.2 L1164.5 695.2 L1165.5 695.3 L1166.5 695.3 L1167.5 695.3 L1168.5 695.4 L1169.5 695.4 L1170.5 695.4 L1171.5 695.4 L1172.5 695.5 L1173.5 695.5 L1174.5 695.5 L1175.5 695.5 L1176.5 695.6 L1177.5 695.6 L1178.5 695.6 L1179.5 695.6 L1180.5 695.6 L1181.5 695.6 L1182.5 695.7 L1183.5 695.7 L1184.5 695.7 L1185.5 695.7 L1186.5 695.7" fill="none" stroke="#000" stroke-width="1.4"/>
<path d="M649.5 680.4 L650.5 679.7 L651.5 680.6 L652.5 681.5 L653.5 680.3 L654.5 679.4 L655.5 680.5 L656.5 681.4 L657.5 680.6 L658.5 680.5 L659.5 681.2 L660.5 679.7 L661.5 679.3 L662.5 680.8 L663.5 680.8 L664.5 679.3 L665.5 679.6 L666.5 681.6 L667.5 682.9 L668.5 681.2 L669.5 682.0 L670.5 682.8 L671.5 681.8 L672.5 683.5 L673.5 683.6 L674.5 683.1 L675.5 682.1 L676.5 683.1 L677.5 684.1 L678.5 682.8 L679.5 685.8 L680.5 688.5 L681.5 688.6 L682.5 687.6 L683.5 686.7 L684.5 687.6 L685.5 687.0 L686.5 685.3 L687.5 682.9 L688.5 682.1 L689.5 680.8 L690.5 679.4 L691.5 680.8 L692.5 681.2 L693.5 681.0 L694.5 681.4 L695.5 682.7 L696.5 683.4 L697.5 682.1 L698.5 681.9 L699.5 681.3 L700.5 680.2 L701.5 681.1 L702.5 680.3 L703.5 679.4 L704.5 679.2 L705.5 679.2 L706.5 680.9 L707.5 680.1 L708.5 679.0 L709.5 678.7 L710.5 677.6 L711.5 677.1 L712.5 678.5 L713.5 680.6 L714.5 679.7 L715.5 677.5 L716.5 677.4 L717.5 677.4 L718.5 677.2 L719.5 677.4 L720.5 676.8 L721.5 676.8 L722.5 676.0 L723.5 675.2 L724.5 674.3 L725.5 674.1 L726.5 674.1 L727.5 674.2 L728.5 674.3 L729.5 674.4 L730.5 675.2 L731.5 674.2 L732.5 673.3 L733.5 673.6 L734.5 674.6 L735.5 676.3 L736.5 676.4 L737.5 675.2 L738.5 675.6 L739.5 675.0 L740.5 675.2 L741.5 675.9 L742.5 673.3 L743.5 675.6 L744.5 678.5 L745.5 676.4 L746.5 675.7 L747.5 676.4 L748.5 676.6 L749.5 676.1 L750.5 675.8 L751.5 677.3 L752.5 678.1 L753.5 678.8 L754.5 678.9 L755.5 679.9 L756.5 679.6 L757.5 678.5 L758.5 677.9 L759.5 677.2 L760.5 679.4 L761.5 679.8 L762.5 679.4 L763.5 680.1 L764.5 679.2 L765.5 679.1 L766.5 679.6 L767.5 679.5 L768.5 680.4 L769.5 681.1 L770.5 680.3 L771.5 679.3 L772.5 679.8 L773.5 680.2 L774.5 680.6 L775.5 682.3 L776.5 682.0 L777.5 680.1 L778.5 679.3 L779.5 678.6 L780.5 677.8 L781.5 677.5 L782.5 677.5 L783.5 677.6 L784.5 677.9 L785.5 677.6 L786.5 676.6 L787.5 675.6 L788.5 676.3 L789.5 677.0 L790.5 676.6 L791.5 676.2 L792.5 675.5 L793.5 674.3 L794.5 673.2 L795.5 674.5 L796.5 672.6 L797.5 671.0 L798.5 672.2 L799.5 671.1 L800.5 669.9 L801.5 669.8 L802.5 668.2 L803.5 667.0 L804.5 666.3 L805.5 664.9 L806.5 664.5 L807.5 664.2 L808.5 664.2 L809.5 664.0 L810.5 662.4 L811.5 662.9 L812.5 664.2 L813.5 662.9 L814.5 661.6 L815.5 660.7 L816.5 661.0 L817.5 661.1 L818.5 659.4 L819.5 659.5 L820.5 662.4 L821.5 660.6 L822.5 659.4 L823.5 660.9 L824.5 660.2 L825.5 661.0 L826.5 660.5 L827.5 660.0 L828.5 662.0 L829.5 662.1 L830.5 661.3 L831.5 661.9 L832.5 662.3 L833.5 663.8 L834.5 664.0 L835.5 664.1 L836.5 664.4 L837.5 664.9 L838.5 666.2 L839.5 664.7 L840.5 665.5 L841.5 667.1 L842.5 667.5 L843.5 669.9 L844.5 670.2 L845.5 669.1 L846.5 671.5 L847.5 672.9 L848.5 673.7 L849.5 674.4 L850.5 673.5 L851.5 673.8 L852.5 675.8 L853.5 677.0 L854.5 676.8 L855.5 676.7 L856.5 677.1 L857.5 677.2 L858.5 679.0 L859.5 679.8 L860.5 678.2 L861.5 678.2 L862.5 679.8 L863.5 680.9 L864.5 680.6 L865.5 680.0 L866.5 680.4 L867.5 679.9 L868.5 679.3 L869.5 681.1 L870.5 681.7 L871.5 681.6 L872.5 682.8 L873.5 683.0 L874.5 682.3 L875.5 683.2 L876.5 683.6 L877.5 681.9 L878.5 681.9 L879.5 682.2 L880.5 681.0 L881.5 680.5 L882.5 680.7 L883.5 679.0 L884.5 678.6 L885.5 679.2 L886.5 678.5 L887.5 676.9 L888.5 676.3 L889.5 676.5 L890.5 675.9 L891.5 674.2 L892.5 673.4 L893.5 672.0 L894.5 670.1 L895.5 670.1 L896.5 668.1 L897.5 665.0 L898.5 664.1 L899.5 661.9 L900.5 658.6 L901.5 656.3 L902.5 654.3 L903.5 649.6 L904.5 645.0 L905.5 642.1 L906.5 638.1 L907.5 634.0 L908.5 629.7 L909.5 625.8 L910.5 620.8 L911.5 615.4 L912.5 610.7 L913.5 604.3 L914.5 598.0 L915.5 593.2 L916.5 586.6 L917.5 578.3 L918.5 570.9 L919.5 563.3 L920.5 556.0 L921.5 549.4 L922.5 540.8 L923.5 532.0 L924.5 525.1 L925.5 516.7 L926.5 507.8 L927.5 499.2 L928.5 490.3 L929.5 482.4 L930.5 476.3 L931.5 468.4 L932.5 458.9 L933.5 451.3 L934.5 444.2 L935.5 438.0 L936.5 431.7 L937.5 426.3 L938.5 420.5 L939.5 414.8 L940.5 410.0 L941.5 405.2 L942.5 400.4 L943.5 396.8 L944.5 395.1 L945.5 393.1 L946.5 390.6 L947.5 390.7 L948.5 391.8 L949.5 391.6 L950.5 392.9 L951.5 394.8 L952.5 397.5 L953.5 399.7 L954.5 402.2 L955.5 407.0 L956.5 412.1 L957.5 416.4 L958.5 421.2 L959.5 426.5 L960.5 432.8 L961.5 440.4 L962.5 446.4 L963.5 453.5 L964.5 461.9 L965.5 467.9 L966.5 475.4 L967.5 482.4 L968.5 488.5 L969.5 496.4 L970.5 505.0 L971.5 513.4 L972.5 521.1 L973.5 529.1 L974.5 535.8 L975.5 543.5 L976.5 551.4 L977.5 557.9 L978.5 565.6 L979.5 572.2 L980.5 578.3 L981.5 584.9 L982.5 591.9 L983.5 598.9 L984.5 605.0 L985.5 609.5 L986.5 613.8 L987.5 618.8 L988.5 624.3 L989.5 627.9 L990.5 632.5 L991.5 637.3 L992.5 639.6 L993.5 643.4 L994.5 647.6 L995.5 650.3 L996.5 652.8 L997.5 654.9 L998.5 657.0 L999.5 659.4 L1000.5 660.1 L1001.5 661.5 L1002.5 662.7 L1003.5 662.7 L1004.5 662.7 L1005.5 662.9 L1006.5 664.3 L1007.5 663.8 L1008.5 663.6 L1009.5 664.5 L1010.5 664.0 L1011.5 661.9 L1012.5 661.1 L1013.5 662.3 L1014.5 661.2 L1015.5 660.0 L1016.5 658.1 L1017.5 657.6 L1018.5 657.7 L1019.5 656.9 L1020.5 655.1 L1021.5 654.0 L1022.5 654.1 L1023.5 653.2 L1024.5 651.8 L1025.5 650.0 L1026.5 651.2 L1027.5 650.2 L1028.5 647.6 L1029.5 647.3 L1030.5 646.4 L1031.5 646.8 L1032.5 648.1 L1033.5 646.5 L1034.5 644.0 L1035.5 645.0 L1036.5 646.6 L1037.5 646.3 L1038.5 646.3 L1039.5 645.2 L1040.5 644.4 L1041.5 644.2 L1042.5 643.6 L1043.5 645.3 L1044.5 646.0 L1045.5 647.1 L1046.5 647.9 L1047.5 646.3 L1048.5 647.1 L1049.5 648.9 L1050.5 649.0 L1051.5 647.3 L1052.5 647.5 L1053.5 649.3 L1054.5 649.0 L1055.5 647.8 L1056.5 648.9 L1057.5 649.5 L1058.5 648.2 L1059.5 647.9 L1060.5 648.1 L1061.5 648.5 L1062.5 648.9 L1063.5 649.3 L1064.5 649.5 L1065.5 647.6 L1066.5 647.2 L1067.5 648.5 L1068.5 648.2 L1069.5 648.0 L1070.5 647.1 L1071.5 645.5 L1072.5 646.1 L1073.5 645.7 L1074.5 643.5 L1075.5 644.5 L1076.5 645.1 L1077.5 644.1 L1078.5 643.4 L1079.5 642.6 L1080.5 642.6 L1081.5 643.1 L1082.5 644.1 L1083.5 642.9 L1084.5 643.2 L1085.5 644.0 L1086.5 643.1 L1087.5 644.6 L1088.5 645.5 L1089.5 644.5 L1090.5 646.3 L1091.5 647.2 L1092.5 646.8 L1093.5 648.2 L1094.5 649.7 L1095.5 650.1 L1096.5 650.7 L1097.5 651.5 L1098.5 652.6 L1099.5 653.6 L1100.5 653.7 L1101.5 656.5 L1102.5 658.1 L1103.5 658.1 L1104.5 660.6 L1105.5 661.9 L1106.5 661.2 L1107.5 662.7 L1108.5 663.7 L1109.5 665.3 L1110.5 668.0 L1111.5 668.2 L1112.5 668.3 L1113.5 670.0 L1114.5 671.6 L1115.5 672.0 L1116.5 673.5 L1117.5 674.0 L1118.5 674.5 L1119.5 676.6 L1120.5 677.7 L1121.5 679.2 L1122.5 679.5 L1123.5 680.6 L1124.5 682.2 L1125.5 682.2 L1126.5 682.3 L1127.5 682.7 L1128.5 684.6 L1129.5 685.4 L1130.5 685.8 L1131.5 687.7 L1132.5 688.9 L1133.5 689.8 L1134.5 689.5 L1135.5 688.3 L1136.5 689.5 L1137.5 690.8 L1138.5 691.3 L1139.5 691.5 L1140.5 691.8 L1141.5 692.7 L1142.5 692.6 L1143.5 692.7 L1144.5 692.7 L1145.5 692.8 L1146.5 692.8 L1147.5 693.5 L1148.5 693.2 L1149.5 693.8 L1150.5 694.2 L1151.5 693.9 L1152.5 694.0 L1153.5 693.3 L1154.5 694.8 L1155.5 694.8 L1156.5 692.8 L1157.5 692.6 L1158.5 693.3 L1159.5 695.2 L1160.5 695.6 L1161.5 694.8 L1162.5 694.1 L1163.5 693.8 L1164.5 694.9 L1165.5 695.8 L1166.5 695.0 L1167.5 694.3 L1168.5 694.9 L1169.5 693.9 L1170.5 693.8 L1171.5 694.3 L1172.5 692.8 L1173.5 693.4 L1174.5 695.2 L1175.5 694.6 L1176.5 693.4 L1177.5 694.7 L1178.5 695.7 L1179.5 695.4 L1180.5 696.2 L1181.5 695.2 L1182.5 694.8 L1183.5 695.0 L1184.5 694.5 L1185.5 694.6 L1186.5 694.7" fill="none" stroke="#000" stroke-width="2.4" stroke-linejoin="round"/>
<path d="M649.5 681.2h0M656.5 680.5h0M663.5 681.2h0M670.5 681.0h0M677.5 683.7h0M684.5 685.6h0M691.5 681.4h0M698.5 681.0h0M705.5 679.4h0M712.5 680.2h0M719.5 677.9h0M726.5 675.7h0M733.5 674.7h0M740.5 677.1h0M747.5 676.8h0M754.5 678.0h0M761.5 679.8h0M768.5 680.5h0M775.5 681.2h0M782.5 678.4h0M789.5 677.5h0M796.5 670.9h0M803.5 667.8h0M810.5 662.2h0M817.5 662.1h0M824.5 659.8h0M831.5 662.0h0M838.5 666.7h0M845.5 671.7h0M852.5 674.0h0M859.5 678.2h0M866.5 679.5h0M873.5 681.9h0M880.5 681.2h0M887.5 678.0h0M894.5 670.4h0M901.5 656.0h0M908.5 630.2h0M915.5 592.5h0M922.5 542.1h0M929.5 481.6h0M936.5 431.0h0M943.5 397.4h0M950.5 393.8h0M957.5 415.7h0M964.5 460.2h0M971.5 513.0h0M978.5 567.0h0M985.5 609.9h0M992.5 640.3h0M999.5 658.2h0M1006.5 663.7h0M1013.5 660.6h0M1020.5 656.3h0M1027.5 649.6h0M1034.5 645.4h0M1041.5 646.1h0M1048.5 648.1h0M1055.5 647.6h0M1062.5 648.0h0M1069.5 648.5h0M1076.5 646.2h0M1083.5 643.4h0M1090.5 645.0h0M1097.5 650.8h0M1104.5 658.6h0M1111.5 666.4h0M1118.5 676.1h0M1125.5 681.6h0M1132.5 686.5h0M1139.5 691.6h0M1146.5 691.9h0M1153.5 693.5h0M1160.5 694.6h0M1167.5 695.1h0M1174.5 694.2h0M1181.5 694.7h0" stroke="#000" stroke-width="3.4" stroke-linecap="round" fill="none"/>
<path d="M649.5 713.5V60.6M649.5 62H1186.5M1186.5 60.6V701" fill="none" stroke="#000" stroke-width="2.8"/>
<path d="M649.5 701H1186.5" fill="none" stroke="#000" stroke-width="2.3"/>
<text x="649.5" y="743.5" font-size="29.7" text-anchor="middle">298</text>
<text x="716.6" y="743.5" font-size="29.7" text-anchor="middle">296</text>
<text x="783.8" y="743.5" font-size="29.7" text-anchor="middle">294</text>
<text x="850.9" y="743.5" font-size="29.7" text-anchor="middle">292</text>
<text x="918.0" y="743.5" font-size="29.7" text-anchor="middle">290</text>
<text x="985.1" y="743.5" font-size="29.7" text-anchor="middle">288</text>
<text x="1052.2" y="743.5" font-size="29.7" text-anchor="middle">286</text>
<text x="1119.4" y="743.5" font-size="29.7" text-anchor="middle">284</text>
<text x="1186.5" y="743.5" font-size="29.7" text-anchor="middle">282</text>
<path d="M649.5 701v12.5M683.1 701v6M683.1 62v6M716.6 701v12.5M716.6 62v6M750.2 701v6M750.2 62v6M783.8 701v12.5M783.8 62v6M817.3 701v6M817.3 62v6M850.9 701v12.5M850.9 62v6M884.4 701v6M884.4 62v6M918.0 701v12.5M918.0 62v11.5M951.6 701v6M951.6 62v6M985.1 701v12.5M985.1 62v6M1018.7 701v6M1018.7 62v6M1052.2 701v12.5M1052.2 62v6M1085.8 701v6M1085.8 62v11.5M1119.4 701v12.5M1119.4 62v6M1152.9 701v6M1152.9 62v6M1186.5 701v12.5" stroke="#000" stroke-width="2.3" fill="none"/>
<clipPath id="cc"><rect x="1260" y="67" width="539" height="633"/></clipPath><g clip-path="url(#cc)">
<path d="M1260.5 380.2 L1261.5 380.2 L1262.5 380.2 L1263.5 380.2 L1264.5 380.2 L1265.5 380.2 L1266.5 380.2 L1267.5 380.2 L1268.5 380.2 L1269.5 380.2 L1270.5 380.2 L1271.5 380.2 L1272.5 380.2 L1273.5 380.2 L1274.5 380.2 L1275.5 380.2 L1276.5 380.2 L1277.5 380.2 L1278.5 380.2 L1279.5 380.2 L1280.5 380.2 L1281.5 380.2 L1282.5 380.2 L1283.5 380.2 L1284.5 380.2 L1285.5 380.2 L1286.5 380.2 L1287.5 380.2 L1288.5 380.2 L1289.5 380.2 L1290.5 380.2 L1291.5 380.2 L1292.5 380.2 L1293.5 380.2 L1294.5 380.2 L1295.5 380.2 L1296.5 380.2 L1297.5 380.2 L1298.5 380.2 L1299.5 380.2 L1300.5 380.2 L1301.5 380.2 L1302.5 380.2 L1303.5 380.2 L1304.5 380.2 L1305.5 380.2 L1306.5 380.2 L1307.5 380.2 L1308.5 380.2 L1309.5 380.2 L1310.5 380.2 L1311.5 380.2 L1312.5 380.2 L1313.5 380.2 L1314.5 380.2 L1315.5 380.2 L1316.5 380.2 L1317.5 380.2 L1318.5 380.2 L1319.5 380.2 L1320.5 380.2 L1321.5 380.2 L1322.5 380.2 L1323.5 380.2 L1324.5 380.2 L1325.5 380.2 L1326.5 380.2 L1327.5 380.2 L1328.5 380.2 L1329.5 380.2 L1330.5 380.2 L1331.5 380.2 L1332.5 380.2 L1333.5 380.2 L1334.5 380.2 L1335.5 380.2 L1336.5 380.2 L1337.5 380.2 L1338.5 380.2 L1339.5 380.2 L1340.5 380.2 L1341.5 380.2 L1342.5 380.2 L1343.5 380.2 L1344.5 380.2 L1345.5 380.2 L1346.5 380.2 L1347.5 380.2 L1348.5 380.2 L1349.5 380.2 L1350.5 380.2 L1351.5 380.2 L1352.5 380.2 L1353.5 380.2 L1354.5 380.2 L1355.5 380.2 L1356.5 380.2 L1357.5 380.2 L1358.5 380.2 L1359.5 380.2 L1360.5 380.2 L1361.5 380.2 L1362.5 380.2 L1363.5 380.2 L1364.5 380.2 L1365.5 380.2 L1366.5 380.2 L1367.5 380.2 L1368.5 380.2 L1369.5 380.2 L1370.5 380.2 L1371.5 380.2 L1372.5 380.2 L1373.5 380.2 L1374.5 380.2 L1375.5 380.2 L1376.5 380.2 L1377.5 380.2 L1378.5 380.2 L1379.5 380.2 L1380.5 380.2 L1381.5 380.2 L1382.5 380.2 L1383.5 380.2 L1384.5 380.2 L1385.5 380.2 L1386.5 380.2 L1387.5 380.2 L1388.5 380.2 L1389.5 380.2 L1390.5 380.2 L1391.5 380.2 L1392.5 380.2 L1393.5 380.2 L1394.5 380.2 L1395.5 380.2 L1396.5 380.2 L1397.5 380.2 L1398.5 380.2 L1399.5 380.2 L1400.5 380.2 L1401.5 380.2 L1402.5 380.2 L1403.5 380.2 L1404.5 380.2 L1405.5 380.2 L1406.5 380.2 L1407.5 380.2 L1408.5 380.2 L1409.5 380.2 L1410.5 380.2 L1411.5 380.2 L1412.5 380.2 L1413.5 380.2 L1414.5 380.2 L1415.5 380.2 L1416.5 380.2 L1417.5 380.2 L1418.5 380.2 L1419.5 380.2 L1420.5 380.2 L1421.5 380.2 L1422.5 380.2 L1423.5 380.2 L1424.5 380.2 L1425.5 380.2 L1426.5 380.2 L1427.5 380.2 L1428.5 380.2 L1429.5 380.2 L1430.5 380.2 L1431.5 380.2 L1432.5 380.2 L1433.5 380.2 L1434.5 380.2 L1435.5 380.2 L1436.5 380.2 L1437.5 380.2 L1438.5 380.2 L1439.5 380.2 L1440.5 380.2 L1441.5 380.2 L1442.5 380.2 L1443.5 380.2 L1444.5 380.2 L1445.5 380.2 L1446.5 380.2 L1447.5 380.2 L1448.5 380.2 L1449.5 380.2 L1450.5 380.2 L1451.5 380.2 L1452.5 380.2 L1453.5 380.2 L1454.5 380.2 L1455.5 380.2 L1456.5 380.2 L1457.5 380.2 L1458.5 380.2 L1459.5 380.2 L1460.5 380.2 L1461.5 380.2 L1462.5 380.2 L1463.5 380.2 L1464.5 380.2 L1465.5 380.2 L1466.5 380.2 L1467.5 380.2 L1468.5 380.2 L1469.5 380.2 L1470.5 380.2 L1471.5 380.2 L1472.5 380.2 L1473.5 380.2 L1474.5 380.2 L1475.5 380.2 L1476.5 380.2 L1477.5 380.2 L1478.5 380.2 L1479.5 380.2 L1480.5 380.2 L1481.5 380.2 L1482.5 380.2 L1483.5 380.2 L1484.5 380.2 L1485.5 380.2 L1486.5 380.2 L1487.5 380.2 L1488.5 380.2 L1489.5 380.2 L1490.5 380.2 L1491.5 380.2 L1492.5 380.2 L1493.5 380.2 L1494.5 380.2 L1495.5 380.2 L1496.5 380.2 L1497.5 380.2 L1498.5 380.2 L1499.5 380.2 L1500.5 380.2 L1501.5 380.2 L1502.5 380.2 L1503.5 380.2 L1504.5 380.2 L1505.5 380.2 L1506.5 380.2 L1507.5 380.2 L1508.5 380.2 L1509.5 380.2 L1510.5 380.2 L1511.5 380.2 L1512.5 380.2 L1513.5 380.2 L1514.5 380.2 L1515.5 380.2 L1516.5 380.2 L1517.5 380.2 L1518.5 380.2 L1519.5 380.2 L1520.5 380.2 L1521.5 380.2 L1522.5 380.2 L1523.5 380.2 L1524.5 380.2 L1525.5 380.2 L1526.5 380.2 L1527.5 380.2 L1528.5 380.2 L1529.5 380.2 L1530.5 380.2 L1531.5 380.2 L1532.5 380.2 L1533.5 380.2 L1534.5 380.2 L1535.5 380.2 L1536.5 380.2 L1537.5 380.2 L1538.5 380.2 L1539.5 380.2 L1540.5 380.2 L1541.5 380.2 L1542.5 380.2 L1543.5 380.2 L1544.5 380.2 L1545.5 380.2 L1546.5 380.2 L1547.5 380.2 L1548.5 380.2 L1549.5 380.2 L1550.5 380.2 L1551.5 380.2 L1552.5 380.2 L1553.5 380.2 L1554.5 380.2 L1555.5 380.2 L1556.5 380.2 L1557.5 380.2 L1558.5 380.2 L1559.5 380.2 L1560.5 380.2 L1561.5 380.2 L1562.5 380.2 L1563.5 380.2 L1564.5 380.2 L1565.5 380.2 L1566.5 380.2 L1567.5 380.2 L1568.5 380.2 L1569.5 380.2 L1570.5 380.2 L1571.5 380.2 L1572.5 380.2 L1573.5 380.2 L1574.5 380.2 L1575.5 380.2 L1576.5 380.2 L1577.5 380.2 L1578.5 380.2 L1579.5 380.2 L1580.5 380.2 L1581.5 380.2 L1582.5 380.2 L1583.5 380.2 L1584.5 380.2 L1585.5 380.2 L1586.5 380.2 L1587.5 380.2 L1588.5 380.2 L1589.5 380.2 L1590.5 380.2 L1591.5 380.2 L1592.5 380.2 L1593.5 380.2 L1594.5 380.2 L1595.5 380.2 L1596.5 380.2 L1597.5 380.2 L1598.5 380.2 L1599.5 380.2 L1600.5 380.2 L1601.5 380.2 L1602.5 380.2 L1603.5 380.2 L1604.5 380.2 L1605.5 380.2 L1606.5 380.2 L1607.5 380.2 L1608.5 380.2 L1609.5 380.2 L1610.5 380.2 L1611.5 380.2 L1612.5 380.2 L1613.5 380.2 L1614.5 380.2 L1615.5 380.2 L1616.5 380.2 L1617.5 380.2 L1618.5 380.2 L1619.5 380.2 L1620.5 380.2 L1621.5 380.2 L1622.5 380.2 L1623.5 380.2 L1624.5 380.2 L1625.5 380.2 L1626.5 380.2 L1627.5 380.2 L1628.5 380.2 L1629.5 380.2 L1630.5 380.2 L1631.5 380.2 L1632.5 380.2 L1633.5 380.2 L1634.5 380.2 L1635.5 380.2 L1636.5 380.2 L1637.5 380.2 L1638.5 380.2 L1639.5 380.2 L1640.5 380.2 L1641.5 380.2 L1642.5 380.2 L1643.5 380.2 L1644.5 380.2 L1645.5 380.2 L1646.5 380.2 L1647.5 380.2 L1648.5 380.2 L1649.5 380.2 L1650.5 380.2 L1651.5 380.2 L1652.5 380.2 L1653.5 380.2 L1654.5 380.2 L1655.5 380.2 L1656.5 380.2 L1657.5 380.2 L1658.5 380.2 L1659.5 380.2 L1660.5 380.2 L1661.5 380.2 L1662.5 380.2 L1663.5 380.2 L1664.5 380.2 L1665.5 380.2 L1666.5 380.2 L1667.5 380.2 L1668.5 380.2 L1669.5 380.2 L1670.5 380.2 L1671.5 380.2 L1672.5 380.2 L1673.5 380.2 L1674.5 380.2 L1675.5 380.2 L1676.5 380.2 L1677.5 380.2 L1678.5 380.2 L1679.5 380.2 L1680.5 380.2 L1681.5 380.2 L1682.5 380.2 L1683.5 380.2 L1684.5 380.2 L1685.5 380.2 L1686.5 380.2 L1687.5 380.2 L1688.5 380.2 L1689.5 380.2 L1690.5 380.2 L1691.5 380.2 L1692.5 380.2 L1693.5 380.2 L1694.5 380.2 L1695.5 380.2 L1696.5 380.2 L1697.5 380.2 L1698.5 380.2 L1699.5 380.2 L1700.5 380.2 L1701.5 380.2 L1702.5 380.2 L1703.5 380.2 L1704.5 380.2 L1705.5 380.2 L1706.5 380.2 L1707.5 380.2 L1708.5 380.2 L1709.5 380.2 L1710.5 380.2 L1711.5 380.2 L1712.5 380.2 L1713.5 380.2 L1714.5 380.2 L1715.5 380.2 L1716.5 380.2 L1717.5 380.2 L1718.5 380.2 L1719.5 380.2 L1720.5 380.2 L1721.5 380.2 L1722.5 380.2 L1723.5 380.2 L1724.5 380.2 L1725.5 380.2 L1726.5 380.2 L1727.5 380.2 L1728.5 380.2 L1729.5 380.2 L1730.5 380.2 L1731.5 380.2 L1732.5 380.2 L1733.5 380.2 L1734.5 380.2 L1735.5 380.2 L1736.5 380.2 L1737.5 380.2 L1738.5 380.2 L1739.5 380.2 L1740.5 380.2 L1741.5 380.2 L1742.5 380.2 L1743.5 380.2 L1744.5 380.2 L1745.5 380.2 L1746.5 380.2 L1747.5 380.2 L1748.5 380.2 L1749.5 380.2 L1750.5 380.2 L1751.5 380.2 L1752.5 380.2 L1753.5 380.2 L1754.5 380.2 L1755.5 380.2 L1756.5 380.2 L1757.5 380.2 L1758.5 380.2 L1759.5 380.2 L1760.5 380.2 L1761.5 380.2 L1762.5 380.2 L1763.5 380.2 L1764.5 380.2 L1765.5 380.2 L1766.5 380.2 L1767.5 380.2 L1768.5 380.2 L1769.5 380.2 L1770.5 380.2 L1771.5 380.2 L1772.5 380.2 L1773.5 380.2 L1774.5 380.2 L1775.5 380.2 L1776.5 380.2 L1777.5 380.2 L1778.5 380.2 L1779.5 380.2 L1780.5 380.2 L1781.5 380.2 L1782.5 380.2 L1783.5 380.2 L1784.5 380.2 L1785.5 380.2 L1786.5 380.2 L1787.5 380.2 L1788.5 380.2 L1789.5 380.2 L1790.5 380.2 L1791.5 380.2 L1792.5 380.2 L1793.5 380.2 L1794.5 380.2 L1795.5 380.2 L1796.5 380.2 L1797.5 380.2 L1798.5 380.2" fill="none" stroke="#000" stroke-width="1.8"/>
<path d="M1333.5 379.7 L1334.5 379.6 L1335.5 379.6 L1336.5 379.5 L1337.5 379.5 L1338.5 379.4 L1339.5 379.4 L1340.5 379.3 L1341.5 379.2 L1342.5 379.2 L1343.5 379.1 L1344.5 379.0 L1345.5 378.9 L1346.5 378.9 L1347.5 378.8 L1348.5 378.7 L1349.5 378.5 L1350.5 378.4 L1351.5 378.3 L1352.5 378.2 L1353.5 378.1 L1354.5 377.9 L1355.5 377.8 L1356.5 377.6 L1357.5 377.4 L1358.5 377.2 L1359.5 377.0 L1360.5 376.8 L1361.5 376.6 L1362.5 376.4 L1363.5 376.2 L1364.5 375.9 L1365.5 375.6 L1366.5 375.4 L1367.5 375.1 L1368.5 374.8 L1369.5 374.4 L1370.5 374.1 L1371.5 373.7 L1372.5 373.3 L1373.5 372.9 L1374.5 372.5 L1375.5 372.1 L1376.5 371.6 L1377.5 371.1 L1378.5 370.6 L1379.5 370.1 L1380.5 369.5 L1381.5 369.0 L1382.5 368.4 L1383.5 367.7 L1384.5 367.1 L1385.5 366.4 L1386.5 365.6 L1387.5 364.9 L1388.5 364.1 L1389.5 363.3 L1390.5 362.4 L1391.5 361.5 L1392.5 360.6 L1393.5 359.6 L1394.5 358.6 L1395.5 357.6 L1396.5 356.5 L1397.5 355.4 L1398.5 354.2 L1399.5 353.0 L1400.5 351.8 L1401.5 350.5 L1402.5 349.1 L1403.5 347.8 L1404.5 346.3 L1405.5 344.8 L1406.5 343.3 L1407.5 341.7 L1408.5 340.1 L1409.5 338.4 L1410.5 336.7 L1411.5 334.9 L1412.5 333.1 L1413.5 331.2 L1414.5 329.3 L1415.5 327.3 L1416.5 325.2 L1417.5 323.1 L1418.5 320.9 L1419.5 318.7 L1420.5 316.5 L1421.5 314.1 L1422.5 311.7 L1423.5 309.3 L1424.5 306.8 L1425.5 304.3 L1426.5 301.7 L1427.5 299.0 L1428.5 296.3 L1429.5 293.6 L1430.5 290.8 L1431.5 287.9 L1432.5 285.0 L1433.5 282.0 L1434.5 279.0 L1435.5 276.0 L1436.5 272.9 L1437.5 269.7 L1438.5 266.5 L1439.5 263.3 L1440.5 260.0 L1441.5 256.7 L1442.5 253.4 L1443.5 250.0 L1444.5 246.6 L1445.5 243.2 L1446.5 239.7 L1447.5 236.2 L1448.5 232.7 L1449.5 229.2 L1450.5 225.6 L1451.5 222.0 L1452.5 218.5 L1453.5 214.9 L1454.5 211.3 L1455.5 207.7 L1456.5 204.1 L1457.5 200.5 L1458.5 196.9 L1459.5 193.3 L1460.5 189.8 L1461.5 186.2 L1462.5 182.7 L1463.5 179.2 L1464.5 175.7 L1465.5 172.3 L1466.5 168.9 L1467.5 165.5 L1468.5 162.1 L1469.5 158.9 L1470.5 155.6 L1471.5 152.4 L1472.5 149.3 L1473.5 146.2 L1474.5 143.2 L1475.5 140.2 L1476.5 137.3 L1477.5 134.5 L1478.5 131.8 L1479.5 129.1 L1480.5 126.6 L1481.5 124.1 L1482.5 121.7 L1483.5 119.4 L1484.5 117.1 L1485.5 115.0 L1486.5 113.0 L1487.5 111.1 L1488.5 109.3 L1489.5 107.6 L1490.5 106.0 L1491.5 104.5 L1492.5 103.1 L1493.5 101.8 L1494.5 100.7 L1495.5 99.6 L1496.5 98.7 L1497.5 97.9 L1498.5 97.2 L1499.5 96.7 L1500.5 96.3 L1501.5 95.9 L1502.5 95.8 L1503.5 95.7 L1504.5 95.8 L1505.5 95.9 L1506.5 96.2 L1507.5 96.6 L1508.5 97.1 L1509.5 97.7 L1510.5 98.5 L1511.5 99.3 L1512.5 100.3 L1513.5 101.3 L1514.5 102.5 L1515.5 103.7 L1516.5 105.1 L1517.5 106.6 L1518.5 108.2 L1519.5 109.8 L1520.5 111.6 L1521.5 113.5 L1522.5 115.4 L1523.5 117.5 L1524.5 119.6 L1525.5 121.8 L1526.5 124.1 L1527.5 126.5 L1528.5 129.0 L1529.5 131.5 L1530.5 134.1 L1531.5 136.8 L1532.5 139.6 L1533.5 142.4 L1534.5 145.2 L1535.5 148.2 L1536.5 151.2 L1537.5 154.2 L1538.5 157.3 L1539.5 160.4 L1540.5 163.6 L1541.5 166.8 L1542.5 170.0 L1543.5 173.3 L1544.5 176.6 L1545.5 180.0 L1546.5 183.3 L1547.5 186.7 L1548.5 190.1 L1549.5 193.5 L1550.5 196.9 L1551.5 200.4 L1552.5 203.8 L1553.5 207.3 L1554.5 210.7 L1555.5 214.1 L1556.5 217.6 L1557.5 221.0 L1558.5 224.4 L1559.5 227.8 L1560.5 231.2 L1561.5 234.6 L1562.5 237.9 L1563.5 241.3 L1564.5 244.6 L1565.5 247.9 L1566.5 251.1 L1567.5 254.3 L1568.5 257.5 L1569.5 260.7 L1570.5 263.8 L1571.5 266.9 L1572.5 270.0 L1573.5 273.0 L1574.5 275.9 L1575.5 278.9 L1576.5 281.7 L1577.5 284.6 L1578.5 287.4 L1579.5 290.1 L1580.5 292.8 L1581.5 295.5 L1582.5 298.1 L1583.5 300.7 L1584.5 303.2 L1585.5 305.6 L1586.5 308.0 L1587.5 310.4 L1588.5 312.7 L1589.5 315.0 L1590.5 317.2 L1591.5 319.3 L1592.5 321.4 L1593.5 323.5 L1594.5 325.5 L1595.5 327.5 L1596.5 329.4 L1597.5 331.2 L1598.5 333.0 L1599.5 334.8 L1600.5 336.5 L1601.5 338.2 L1602.5 339.8 L1603.5 341.4 L1604.5 342.9 L1605.5 344.4 L1606.5 345.8 L1607.5 347.2 L1608.5 348.5 L1609.5 349.8 L1610.5 351.1 L1611.5 352.3 L1612.5 353.5 L1613.5 354.6 L1614.5 355.7 L1615.5 356.8 L1616.5 357.8 L1617.5 358.8 L1618.5 359.8 L1619.5 360.7 L1620.5 361.6 L1621.5 362.4 L1622.5 363.2 L1623.5 364.0 L1624.5 364.8 L1625.5 365.5 L1626.5 366.2 L1627.5 366.9 L1628.5 367.5 L1629.5 368.1 L1630.5 368.7 L1631.5 369.3 L1632.5 369.8 L1633.5 370.4 L1634.5 370.9 L1635.5 371.3 L1636.5 371.8 L1637.5 372.2 L1638.5 372.6 L1639.5 373.0 L1640.5 373.4 L1641.5 373.8 L1642.5 374.1 L1643.5 374.5 L1644.5 374.8 L1645.5 375.1 L1646.5 375.4 L1647.5 375.6 L1648.5 375.9 L1649.5 376.1 L1650.5 376.4 L1651.5 376.6 L1652.5 376.8 L1653.5 377.0 L1654.5 377.2 L1655.5 377.3 L1656.5 377.5 L1657.5 377.7 L1658.5 377.8 L1659.5 378.0 L1660.5 378.1 L1661.5 378.2 L1662.5 378.3 L1663.5 378.5 L1664.5 378.6 L1665.5 378.7 L1666.5 378.8 L1667.5 378.9 L1668.5 378.9 L1669.5 379.0 L1670.5 379.1 L1671.5 379.2 L1672.5 379.2 L1673.5 379.3 L1674.5 379.4 L1675.5 379.4 L1676.5 379.5 L1677.5 379.5 L1678.5 379.6 L1679.5 379.6 L1680.5 379.6 L1681.5 379.7 L1681.5 380.2 L1673.5 380.2 L1665.5 380.2 L1657.5 380.2 L1649.5 380.2 L1641.5 380.2 L1633.5 380.2 L1625.5 380.2 L1617.5 380.2 L1609.5 380.2 L1601.5 380.2 L1593.5 380.2 L1585.5 380.2 L1577.5 380.2 L1569.5 380.2 L1561.5 380.2 L1553.5 380.2 L1545.5 380.2 L1537.5 380.2 L1529.5 380.2 L1521.5 380.2 L1513.5 380.2 L1505.5 380.2 L1497.5 380.2 L1489.5 380.2 L1481.5 380.2 L1473.5 380.2 L1465.5 380.2 L1457.5 380.2 L1449.5 380.2 L1441.5 380.2 L1433.5 380.2 L1425.5 380.2 L1417.5 380.2 L1409.5 380.2 L1401.5 380.2 L1393.5 380.2 L1385.5 380.2 L1377.5 380.2 L1369.5 380.2 L1361.5 380.2 L1353.5 380.2 L1345.5 380.2 L1337.5 380.2Z" fill="#0a7f0a" stroke="#000" stroke-width="1.8" stroke-linejoin="round"/>
<path d="M1589.5 379.7 L1590.5 379.6 L1591.5 379.6 L1592.5 379.5 L1593.5 379.5 L1594.5 379.4 L1595.5 379.3 L1596.5 379.3 L1597.5 379.2 L1598.5 379.1 L1599.5 379.0 L1600.5 378.9 L1601.5 378.8 L1602.5 378.7 L1603.5 378.6 L1604.5 378.5 L1605.5 378.4 L1606.5 378.3 L1607.5 378.1 L1608.5 378.0 L1609.5 377.9 L1610.5 377.7 L1611.5 377.5 L1612.5 377.4 L1613.5 377.2 L1614.5 377.0 L1615.5 376.8 L1616.5 376.6 L1617.5 376.4 L1618.5 376.2 L1619.5 376.0 L1620.5 375.7 L1621.5 375.5 L1622.5 375.2 L1623.5 374.9 L1624.5 374.7 L1625.5 374.4 L1626.5 374.1 L1627.5 373.8 L1628.5 373.5 L1629.5 373.2 L1630.5 372.8 L1631.5 372.5 L1632.5 372.2 L1633.5 371.8 L1634.5 371.4 L1635.5 371.1 L1636.5 370.7 L1637.5 370.3 L1638.5 369.9 L1639.5 369.5 L1640.5 369.1 L1641.5 368.7 L1642.5 368.3 L1643.5 367.9 L1644.5 367.5 L1645.5 367.1 L1646.5 366.7 L1647.5 366.3 L1648.5 365.9 L1649.5 365.5 L1650.5 365.1 L1651.5 364.7 L1652.5 364.3 L1653.5 363.9 L1654.5 363.5 L1655.5 363.1 L1656.5 362.7 L1657.5 362.3 L1658.5 362.0 L1659.5 361.6 L1660.5 361.3 L1661.5 360.9 L1662.5 360.6 L1663.5 360.3 L1664.5 360.0 L1665.5 359.8 L1666.5 359.5 L1667.5 359.2 L1668.5 359.0 L1669.5 358.8 L1670.5 358.6 L1671.5 358.4 L1672.5 358.3 L1673.5 358.1 L1674.5 358.0 L1675.5 357.9 L1676.5 357.8 L1677.5 357.8 L1678.5 357.7 L1679.5 357.7 L1680.5 357.7 L1681.5 357.7 L1682.5 357.8 L1683.5 357.8 L1684.5 357.9 L1685.5 358.0 L1686.5 358.1 L1687.5 358.3 L1688.5 358.4 L1689.5 358.6 L1690.5 358.8 L1691.5 359.0 L1692.5 359.2 L1693.5 359.5 L1694.5 359.8 L1695.5 360.0 L1696.5 360.3 L1697.5 360.6 L1698.5 360.9 L1699.5 361.3 L1700.5 361.6 L1701.5 362.0 L1702.5 362.3 L1703.5 362.7 L1704.5 363.1 L1705.5 363.5 L1706.5 363.9 L1707.5 364.3 L1708.5 364.7 L1709.5 365.1 L1710.5 365.5 L1711.5 365.9 L1712.5 366.3 L1713.5 366.7 L1714.5 367.1 L1715.5 367.5 L1716.5 367.9 L1717.5 368.3 L1718.5 368.7 L1719.5 369.1 L1720.5 369.5 L1721.5 369.9 L1722.5 370.3 L1723.5 370.7 L1724.5 371.1 L1725.5 371.4 L1726.5 371.8 L1727.5 372.2 L1728.5 372.5 L1729.5 372.8 L1730.5 373.2 L1731.5 373.5 L1732.5 373.8 L1733.5 374.1 L1734.5 374.4 L1735.5 374.7 L1736.5 374.9 L1737.5 375.2 L1738.5 375.5 L1739.5 375.7 L1740.5 376.0 L1741.5 376.2 L1742.5 376.4 L1743.5 376.6 L1744.5 376.8 L1745.5 377.0 L1746.5 377.2 L1747.5 377.4 L1748.5 377.5 L1749.5 377.7 L1750.5 377.9 L1751.5 378.0 L1752.5 378.1 L1753.5 378.3 L1754.5 378.4 L1755.5 378.5 L1756.5 378.6 L1757.5 378.7 L1758.5 378.8 L1759.5 378.9 L1760.5 379.0 L1761.5 379.1 L1762.5 379.2 L1763.5 379.3 L1764.5 379.3 L1765.5 379.4 L1766.5 379.5 L1767.5 379.5 L1768.5 379.6 L1769.5 379.6 L1770.5 379.7 L1770.5 380.2 L1762.5 380.2 L1754.5 380.2 L1746.5 380.2 L1738.5 380.2 L1730.5 380.2 L1722.5 380.2 L1714.5 380.2 L1706.5 380.2 L1698.5 380.2 L1690.5 380.2 L1682.5 380.2 L1674.5 380.2 L1666.5 380.2 L1658.5 380.2 L1650.5 380.2 L1642.5 380.2 L1634.5 380.2 L1626.5 380.2 L1618.5 380.2 L1610.5 380.2 L1602.5 380.2 L1594.5 380.2Z" fill="#ff0000" stroke="#000" stroke-width="1.8" stroke-linejoin="round"/>
<path d="M1260.5 380.2 L1261.5 380.2 L1262.5 380.2 L1263.5 380.2 L1264.5 380.2 L1265.5 380.2 L1266.5 380.2 L1267.5 380.2 L1268.5 380.2 L1269.5 380.2 L1270.5 380.2 L1271.5 380.2 L1272.5 380.2 L1273.5 380.2 L1274.5 380.2 L1275.5 380.2 L1276.5 380.2 L1277.5 380.2 L1278.5 380.2 L1279.5 380.2 L1280.5 380.2 L1281.5 380.2 L1282.5 380.2 L1283.5 380.2 L1284.5 380.2 L1285.5 380.2 L1286.5 380.2 L1287.5 380.2 L1288.5 380.2 L1289.5 380.2 L1290.5 380.2 L1291.5 380.2 L1292.5 380.2 L1293.5 380.2 L1294.5 380.2 L1295.5 380.2 L1296.5 380.2 L1297.5 380.2 L1298.5 380.2 L1299.5 380.2 L1300.5 380.2 L1301.5 380.2 L1302.5 380.2 L1303.5 380.2 L1304.5 380.1 L1305.5 380.1 L1306.5 380.1 L1307.5 380.1 L1308.5 380.1 L1309.5 380.1 L1310.5 380.1 L1311.5 380.1 L1312.5 380.1 L1313.5 380.1 L1314.5 380.1 L1315.5 380.1 L1316.5 380.1 L1317.5 380.0 L1318.5 380.0 L1319.5 380.0 L1320.5 380.0 L1321.5 380.0 L1322.5 380.0 L1323.5 379.9 L1324.5 379.9 L1325.5 379.9 L1326.5 379.9 L1327.5 379.9 L1328.5 379.8 L1329.5 379.8 L1330.5 379.8 L1331.5 379.7 L1332.5 379.7 L1333.5 379.7 L1334.5 379.6 L1335.5 379.6 L1336.5 379.5 L1337.5 379.5 L1338.5 379.4 L1339.5 379.4 L1340.5 379.3 L1341.5 379.2 L1342.5 379.2 L1343.5 379.1 L1344.5 379.0 L1345.5 378.9 L1346.5 378.9 L1347.5 378.8 L1348.5 378.7 L1349.5 378.5 L1350.5 378.4 L1351.5 378.3 L1352.5 378.2 L1353.5 378.1 L1354.5 377.9 L1355.5 377.8 L1356.5 377.6 L1357.5 377.4 L1358.5 377.2 L1359.5 377.0 L1360.5 376.8 L1361.5 376.6 L1362.5 376.4 L1363.5 376.2 L1364.5 375.9 L1365.5 375.6 L1366.5 375.4 L1367.5 375.1 L1368.5 374.8 L1369.5 374.4 L1370.5 374.1 L1371.5 373.7 L1372.5 373.3 L1373.5 372.9 L1374.5 372.5 L1375.5 372.1 L1376.5 371.6 L1377.5 371.1 L1378.5 370.6 L1379.5 370.1 L1380.5 369.5 L1381.5 369.0 L1382.5 368.4 L1383.5 367.7 L1384.5 367.1 L1385.5 366.4 L1386.5 365.6 L1387.5 364.9 L1388.5 364.1 L1389.5 363.3 L1390.5 362.4 L1391.5 361.5 L1392.5 360.6 L1393.5 359.6 L1394.5 358.6 L1395.5 357.6 L1396.5 356.5 L1397.5 355.4 L1398.5 354.2 L1399.5 353.0 L1400.5 351.8 L1401.5 350.5 L1402.5 349.1 L1403.5 347.8 L1404.5 346.3 L1405.5 344.8 L1406.5 343.3 L1407.5 341.7 L1408.5 340.1 L1409.5 338.4 L1410.5 336.7 L1411.5 334.9 L1412.5 333.1 L1413.5 331.2 L1414.5 329.3 L1415.5 327.3 L1416.5 325.2 L1417.5 323.1 L1418.5 320.9 L1419.5 318.7 L1420.5 316.5 L1421.5 314.1 L1422.5 311.7 L1423.5 309.3 L1424.5 306.8 L1425.5 304.3 L1426.5 301.7 L1427.5 299.0 L1428.5 296.3 L1429.5 293.6 L1430.5 290.8 L1431.5 287.9 L1432.5 285.0 L1433.5 282.0 L1434.5 279.0 L1435.5 276.0 L1436.5 272.9 L1437.5 269.7 L1438.5 266.5 L1439.5 263.3 L1440.5 260.0 L1441.5 256.7 L1442.5 253.4 L1443.5 250.0 L1444.5 246.6 L1445.5 243.2 L1446.5 239.7 L1447.5 236.2 L1448.5 232.7 L1449.5 229.2 L1450.5 225.6 L1451.5 222.0 L1452.5 218.5 L1453.5 214.9 L1454.5 211.3 L1455.5 207.7 L1456.5 204.1 L1457.5 200.5 L1458.5 196.9 L1459.5 193.3 L1460.5 189.8 L1461.5 186.2 L1462.5 182.7 L1463.5 179.2 L1464.5 175.7 L1465.5 172.3 L1466.5 168.9 L1467.5 165.5 L1468.5 162.1 L1469.5 158.9 L1470.5 155.6 L1471.5 152.4 L1472.5 149.3 L1473.5 146.2 L1474.5 143.2 L1475.5 140.2 L1476.5 137.3 L1477.5 134.5 L1478.5 131.8 L1479.5 129.1 L1480.5 126.6 L1481.5 124.1 L1482.5 121.7 L1483.5 119.4 L1484.5 117.1 L1485.5 115.0 L1486.5 113.0 L1487.5 111.1 L1488.5 109.3 L1489.5 107.6 L1490.5 106.0 L1491.5 104.5 L1492.5 103.1 L1493.5 101.8 L1494.5 100.7 L1495.5 99.6 L1496.5 98.7 L1497.5 97.9 L1498.5 97.2 L1499.5 96.7 L1500.5 96.3 L1501.5 95.9 L1502.5 95.8 L1503.5 95.7 L1504.5 95.8 L1505.5 95.9 L1506.5 96.2 L1507.5 96.6 L1508.5 97.1 L1509.5 97.7 L1510.5 98.5 L1511.5 99.3 L1512.5 100.3 L1513.5 101.3 L1514.5 102.5 L1515.5 103.7 L1516.5 105.1 L1517.5 106.6 L1518.5 108.2 L1519.5 109.8 L1520.5 111.6 L1521.5 113.5 L1522.5 115.4 L1523.5 117.5 L1524.5 119.6 L1525.5 121.8 L1526.5 124.1 L1527.5 126.5 L1528.5 129.0 L1529.5 131.5 L1530.5 134.1 L1531.5 136.8 L1532.5 139.6 L1533.5 142.4 L1534.5 145.2 L1535.5 148.2 L1536.5 151.2 L1537.5 154.2 L1538.5 157.3 L1539.5 160.4 L1540.5 163.6 L1541.5 166.8 L1542.5 170.0 L1543.5 173.3 L1544.5 176.6 L1545.5 180.0 L1546.5 183.3 L1547.5 186.7 L1548.5 190.1 L1549.5 193.5 L1550.5 196.9 L1551.5 200.4 L1552.5 203.8 L1553.5 207.2 L1554.5 210.7 L1555.5 214.1 L1556.5 217.6 L1557.5 221.0 L1558.5 224.4 L1559.5 227.8 L1560.5 231.2 L1561.5 234.6 L1562.5 237.9 L1563.5 241.2 L1564.5 244.5 L1565.5 247.8 L1566.5 251.1 L1567.5 254.3 L1568.5 257.5 L1569.5 260.6 L1570.5 263.7 L1571.5 266.8 L1572.5 269.8 L1573.5 272.8 L1574.5 275.8 L1575.5 278.7 L1576.5 281.6 L1577.5 284.4 L1578.5 287.2 L1579.5 289.9 L1580.5 292.6 L1581.5 295.2 L1582.5 297.8 L1583.5 300.3 L1584.5 302.8 L1585.5 305.2 L1586.5 307.6 L1587.5 309.9 L1588.5 312.2 L1589.5 314.4 L1590.5 316.6 L1591.5 318.7 L1592.5 320.8 L1593.5 322.8 L1594.5 324.7 L1595.5 326.6 L1596.5 328.4 L1597.5 330.2 L1598.5 331.9 L1599.5 333.6 L1600.5 335.2 L1601.5 336.8 L1602.5 338.3 L1603.5 339.8 L1604.5 341.2 L1605.5 342.6 L1606.5 343.9 L1607.5 345.1 L1608.5 346.3 L1609.5 347.5 L1610.5 348.6 L1611.5 349.7 L1612.5 350.7 L1613.5 351.6 L1614.5 352.5 L1615.5 353.4 L1616.5 354.2 L1617.5 355.0 L1618.5 355.7 L1619.5 356.4 L1620.5 357.1 L1621.5 357.7 L1622.5 358.3 L1623.5 358.8 L1624.5 359.3 L1625.5 359.7 L1626.5 360.1 L1627.5 360.5 L1628.5 360.8 L1629.5 361.1 L1630.5 361.4 L1631.5 361.6 L1632.5 361.8 L1633.5 362.0 L1634.5 362.1 L1635.5 362.2 L1636.5 362.3 L1637.5 362.4 L1638.5 362.4 L1639.5 362.4 L1640.5 362.4 L1641.5 362.3 L1642.5 362.3 L1643.5 362.2 L1644.5 362.1 L1645.5 362.0 L1646.5 361.9 L1647.5 361.7 L1648.5 361.6 L1649.5 361.4 L1650.5 361.2 L1651.5 361.0 L1652.5 360.8 L1653.5 360.6 L1654.5 360.4 L1655.5 360.2 L1656.5 360.0 L1657.5 359.8 L1658.5 359.6 L1659.5 359.4 L1660.5 359.2 L1661.5 359.0 L1662.5 358.8 L1663.5 358.6 L1664.5 358.4 L1665.5 358.2 L1666.5 358.1 L1667.5 357.9 L1668.5 357.8 L1669.5 357.6 L1670.5 357.5 L1671.5 357.4 L1672.5 357.3 L1673.5 357.2 L1674.5 357.2 L1675.5 357.1 L1676.5 357.1 L1677.5 357.1 L1678.5 357.1 L1679.5 357.1 L1680.5 357.1 L1681.5 357.2 L1682.5 357.3 L1683.5 357.4 L1684.5 357.5 L1685.5 357.6 L1686.5 357.8 L1687.5 357.9 L1688.5 358.1 L1689.5 358.3 L1690.5 358.5 L1691.5 358.8 L1692.5 359.0 L1693.5 359.3 L1694.5 359.6 L1695.5 359.8 L1696.5 360.2 L1697.5 360.5 L1698.5 360.8 L1699.5 361.1 L1700.5 361.5 L1701.5 361.9 L1702.5 362.2 L1703.5 362.6 L1704.5 363.0 L1705.5 363.4 L1706.5 363.8 L1707.5 364.2 L1708.5 364.6 L1709.5 365.0 L1710.5 365.4 L1711.5 365.8 L1712.5 366.2 L1713.5 366.7 L1714.5 367.1 L1715.5 367.5 L1716.5 367.9 L1717.5 368.3 L1718.5 368.7 L1719.5 369.1 L1720.5 369.5 L1721.5 369.9 L1722.5 370.3 L1723.5 370.7 L1724.5 371.1 L1725.5 371.4 L1726.5 371.8 L1727.5 372.1 L1728.5 372.5 L1729.5 372.8 L1730.5 373.2 L1731.5 373.5 L1732.5 373.8 L1733.5 374.1 L1734.5 374.4 L1735.5 374.7 L1736.5 374.9 L1737.5 375.2 L1738.5 375.5 L1739.5 375.7 L1740.5 376.0 L1741.5 376.2 L1742.5 376.4 L1743.5 376.6 L1744.5 376.8 L1745.5 377.0 L1746.5 377.2 L1747.5 377.4 L1748.5 377.5 L1749.5 377.7 L1750.5 377.9 L1751.5 378.0 L1752.5 378.1 L1753.5 378.3 L1754.5 378.4 L1755.5 378.5 L1756.5 378.6 L1757.5 378.7 L1758.5 378.8 L1759.5 378.9 L1760.5 379.0 L1761.5 379.1 L1762.5 379.2 L1763.5 379.3 L1764.5 379.3 L1765.5 379.4 L1766.5 379.5 L1767.5 379.5 L1768.5 379.6 L1769.5 379.6 L1770.5 379.7 L1771.5 379.7 L1772.5 379.7 L1773.5 379.8 L1774.5 379.8 L1775.5 379.8 L1776.5 379.9 L1777.5 379.9 L1778.5 379.9 L1779.5 380.0 L1780.5 380.0 L1781.5 380.0 L1782.5 380.0 L1783.5 380.0 L1784.5 380.0 L1785.5 380.1 L1786.5 380.1 L1787.5 380.1 L1788.5 380.1 L1789.5 380.1 L1790.5 380.1 L1791.5 380.1 L1792.5 380.1 L1793.5 380.1 L1794.5 380.1 L1795.5 380.1 L1796.5 380.2 L1797.5 380.2 L1798.5 380.2" fill="none" stroke="#000" stroke-width="1.8"/>
<path d="M1260 380.6H1799" stroke="#000" stroke-width="3"/>
<path d="M1263.9 368.1h0M1269.8 373.6h0M1274.7 374.6h0M1279.6 376.0h0M1284.6 367.7h0M1289.5 376.4h0M1294.4 375.6h0M1309.2 372.4h0M1314.1 369.1h0M1318.4 371.6h0M1328.9 369.1h0M1333.8 375.0h0M1338.7 361.8h0M1343.3 357.8h0M1348.6 374.0h0M1353.1 363.7h0M1357.9 363.3h0M1363.0 369.7h0M1368.3 354.9h0M1372.8 355.9h0M1377.6 358.2h0M1382.7 359.2h0M1387.0 343.8h0M1391.9 331.0h0M1396.5 326.7h0M1401.8 320.4h0M1406.7 321.2h0M1411.7 323.7h0M1416.6 312.9h0M1421.5 293.6h0M1436.3 266.6h0M1441.2 256.7h0M1509.3 78.4h0M1504.4 88.5h0M1513.7 93.7h0M1519.3 102.5h0M1523.7 101.6h0M1529.0 110.0h0M1533.4 136.0h0M1537.8 161.4h0M1543.4 177.0h0M1548.3 200.0h0M1625.6 362.2h0M1631.5 354.3h0M1636.5 352.8h0M1649.3 357.9h0M1657.2 346.4h0M1661.1 342.9h0M1676.9 341.5h0M1680.8 339.5h0M1685.7 347.4h0M1689.7 348.0h0M1695.6 354.3h0M1720.2 364.2h0M1749.8 371.1h0M1752.8 372.5h0M1778.4 375.0h0M1783.3 364.6h0M1788.3 370.1h0M1797.1 375.0h0M1439.6 264.4h0M1446.3 240.0h0M1452.0 221.6h0M1458.2 201.7h0M1464.7 176.9h0M1470.0 155.4h0M1476.1 139.0h0M1483.4 122.7h0M1487.0 108.6h0M1494.1 98.4h0M1551.6 197.9h0M1559.2 221.9h0M1565.6 246.5h0M1572.7 266.3h0M1579.3 285.6h0M1587.3 301.8h0M1594.0 320.2h0M1600.8 331.7h0M1607.4 342.9h0M1615.6 348.4h0M1621.1 351.4h0M1629.5 358.3h0" stroke="#000" stroke-width="4.6" stroke-linecap="round" fill="none"/>
<path d="M1260.5 685.0 L1261.5 685.0 L1262.5 685.0 L1263.5 685.0 L1264.5 685.0 L1265.5 685.0 L1266.5 685.0 L1267.5 685.0 L1268.5 685.0 L1269.5 685.0 L1270.5 685.0 L1271.5 685.0 L1272.5 685.0 L1273.5 685.0 L1274.5 685.0 L1275.5 685.0 L1276.5 685.0 L1277.5 685.0 L1278.5 685.0 L1279.5 685.0 L1280.5 685.0 L1281.5 685.0 L1282.5 685.0 L1283.5 685.0 L1284.5 685.0 L1285.5 685.0 L1286.5 685.0 L1287.5 685.0 L1288.5 685.0 L1289.5 685.0 L1290.5 685.0 L1291.5 685.0 L1292.5 685.0 L1293.5 685.0 L1294.5 685.0 L1295.5 685.0 L1296.5 685.0 L1297.5 685.0 L1298.5 685.0 L1299.5 685.0 L1300.5 685.0 L1301.5 685.0 L1302.5 685.0 L1303.5 685.0 L1304.5 685.0 L1305.5 685.0 L1306.5 685.0 L1307.5 685.0 L1308.5 685.0 L1309.5 685.0 L1310.5 685.0 L1311.5 685.0 L1312.5 685.0 L1313.5 685.0 L1314.5 685.0 L1315.5 685.0 L1316.5 685.0 L1317.5 685.0 L1318.5 685.0 L1319.5 685.0 L1320.5 685.0 L1321.5 685.0 L1322.5 685.0 L1323.5 685.0 L1324.5 685.0 L1325.5 685.0 L1326.5 685.0 L1327.5 685.0 L1328.5 685.0 L1329.5 685.0 L1330.5 685.0 L1331.5 685.0 L1332.5 685.0 L1333.5 685.0 L1334.5 685.0 L1335.5 685.0 L1336.5 685.0 L1337.5 685.0 L1338.5 685.0 L1339.5 685.0 L1340.5 685.0 L1341.5 685.0 L1342.5 685.0 L1343.5 685.0 L1344.5 685.0 L1345.5 685.0 L1346.5 685.0 L1347.5 685.0 L1348.5 685.0 L1349.5 685.0 L1350.5 685.0 L1351.5 685.0 L1352.5 685.0 L1353.5 685.0 L1354.5 685.0 L1355.5 685.0 L1356.5 685.0 L1357.5 685.0 L1358.5 685.0 L1359.5 685.0 L1360.5 685.0 L1361.5 685.0 L1362.5 685.0 L1363.5 685.0 L1364.5 685.0 L1365.5 685.0 L1366.5 685.0 L1367.5 685.0 L1368.5 685.0 L1369.5 685.0 L1370.5 685.0 L1371.5 685.0 L1372.5 685.0 L1373.5 685.0 L1374.5 685.0 L1375.5 685.0 L1376.5 685.0 L1377.5 685.0 L1378.5 685.0 L1379.5 685.0 L1380.5 685.0 L1381.5 685.0 L1382.5 685.0 L1383.5 685.0 L1384.5 685.0 L1385.5 685.0 L1386.5 685.0 L1387.5 685.0 L1388.5 685.0 L1389.5 685.0 L1390.5 685.0 L1391.5 685.0 L1392.5 685.0 L1393.5 685.0 L1394.5 685.0 L1395.5 685.0 L1396.5 685.0 L1397.5 685.0 L1398.5 685.0 L1399.5 685.0 L1400.5 685.0 L1401.5 685.0 L1402.5 685.0 L1403.5 685.0 L1404.5 685.0 L1405.5 685.0 L1406.5 685.0 L1407.5 685.0 L1408.5 685.0 L1409.5 685.0 L1410.5 685.0 L1411.5 685.0 L1412.5 685.0 L1413.5 685.0 L1414.5 685.0 L1415.5 685.0 L1416.5 685.0 L1417.5 685.0 L1418.5 685.0 L1419.5 685.0 L1420.5 685.0 L1421.5 685.0 L1422.5 685.0 L1423.5 685.0 L1424.5 685.0 L1425.5 685.0 L1426.5 685.0 L1427.5 685.0 L1428.5 685.0 L1429.5 685.0 L1430.5 685.0 L1431.5 685.0 L1432.5 685.0 L1433.5 685.0 L1434.5 685.0 L1435.5 685.0 L1436.5 685.0 L1437.5 685.0 L1438.5 685.0 L1439.5 685.0 L1440.5 685.0 L1441.5 685.0 L1442.5 685.0 L1443.5 685.0 L1444.5 685.0 L1445.5 685.0 L1446.5 685.0 L1447.5 685.0 L1448.5 685.0 L1449.5 685.0 L1450.5 685.0 L1451.5 685.0 L1452.5 685.0 L1453.5 685.0 L1454.5 685.0 L1455.5 685.0 L1456.5 685.0 L1457.5 685.0 L1458.5 685.0 L1459.5 685.0 L1460.5 685.0 L1461.5 685.0 L1462.5 685.0 L1463.5 685.0 L1464.5 685.0 L1465.5 685.0 L1466.5 685.0 L1467.5 685.0 L1468.5 685.0 L1469.5 685.0 L1470.5 685.0 L1471.5 685.0 L1472.5 685.0 L1473.5 685.0 L1474.5 685.0 L1475.5 685.0 L1476.5 685.0 L1477.5 685.0 L1478.5 685.0 L1479.5 685.0 L1480.5 685.0 L1481.5 685.0 L1482.5 685.0 L1483.5 685.0 L1484.5 685.0 L1485.5 685.0 L1486.5 685.0 L1487.5 685.0 L1488.5 685.0 L1489.5 685.0 L1490.5 685.0 L1491.5 685.0 L1492.5 685.0 L1493.5 685.0 L1494.5 685.0 L1495.5 685.0 L1496.5 685.0 L1497.5 685.0 L1498.5 685.0 L1499.5 685.0 L1500.5 685.0 L1501.5 685.0 L1502.5 685.0 L1503.5 685.0 L1504.5 685.0 L1505.5 685.0 L1506.5 685.0 L1507.5 685.0 L1508.5 685.0 L1509.5 685.0 L1510.5 685.0 L1511.5 685.0 L1512.5 685.0 L1513.5 685.0 L1514.5 685.0 L1515.5 685.0 L1516.5 685.0 L1517.5 685.0 L1518.5 685.0 L1519.5 685.0 L1520.5 685.0 L1521.5 685.0 L1522.5 685.0 L1523.5 685.0 L1524.5 685.0 L1525.5 685.0 L1526.5 685.0 L1527.5 685.0 L1528.5 685.0 L1529.5 685.0 L1530.5 685.0 L1531.5 685.0 L1532.5 685.0 L1533.5 685.0 L1534.5 685.0 L1535.5 685.0 L1536.5 685.0 L1537.5 685.0 L1538.5 685.0 L1539.5 685.0 L1540.5 685.0 L1541.5 685.0 L1542.5 685.0 L1543.5 685.0 L1544.5 685.0 L1545.5 685.0 L1546.5 685.0 L1547.5 685.0 L1548.5 685.0 L1549.5 685.0 L1550.5 685.0 L1551.5 685.0 L1552.5 685.0 L1553.5 685.0 L1554.5 685.0 L1555.5 685.0 L1556.5 685.0 L1557.5 685.0 L1558.5 685.0 L1559.5 685.0 L1560.5 685.0 L1561.5 685.0 L1562.5 685.0 L1563.5 685.0 L1564.5 685.0 L1565.5 685.0 L1566.5 685.0 L1567.5 685.0 L1568.5 685.0 L1569.5 685.0 L1570.5 685.0 L1571.5 685.0 L1572.5 685.0 L1573.5 685.0 L1574.5 685.0 L1575.5 685.0 L1576.5 685.0 L1577.5 685.0 L1578.5 685.0 L1579.5 685.0 L1580.5 685.0 L1581.5 685.0 L1582.5 685.0 L1583.5 685.0 L1584.5 685.0 L1585.5 685.0 L1586.5 685.0 L1587.5 685.0 L1588.5 685.0 L1589.5 685.0 L1590.5 685.0 L1591.5 685.0 L1592.5 685.0 L1593.5 685.0 L1594.5 685.0 L1595.5 685.0 L1596.5 685.0 L1597.5 685.0 L1598.5 685.0 L1599.5 685.0 L1600.5 685.0 L1601.5 685.0 L1602.5 685.0 L1603.5 685.0 L1604.5 685.0 L1605.5 685.0 L1606.5 685.0 L1607.5 685.0 L1608.5 685.0 L1609.5 685.0 L1610.5 685.0 L1611.5 685.0 L1612.5 685.0 L1613.5 685.0 L1614.5 685.0 L1615.5 685.0 L1616.5 685.0 L1617.5 685.0 L1618.5 685.0 L1619.5 685.0 L1620.5 685.0 L1621.5 685.0 L1622.5 685.0 L1623.5 685.0 L1624.5 685.0 L1625.5 685.0 L1626.5 685.0 L1627.5 685.0 L1628.5 685.0 L1629.5 685.0 L1630.5 685.0 L1631.5 685.0 L1632.5 685.0 L1633.5 685.0 L1634.5 685.0 L1635.5 685.0 L1636.5 685.0 L1637.5 685.0 L1638.5 685.0 L1639.5 685.0 L1640.5 685.0 L1641.5 685.0 L1642.5 685.0 L1643.5 685.0 L1644.5 685.0 L1645.5 685.0 L1646.5 685.0 L1647.5 685.0 L1648.5 685.0 L1649.5 685.0 L1650.5 685.0 L1651.5 685.0 L1652.5 685.0 L1653.5 685.0 L1654.5 685.0 L1655.5 685.0 L1656.5 685.0 L1657.5 685.0 L1658.5 685.0 L1659.5 685.0 L1660.5 685.0 L1661.5 685.0 L1662.5 685.0 L1663.5 685.0 L1664.5 685.0 L1665.5 685.0 L1666.5 685.0 L1667.5 685.0 L1668.5 685.0 L1669.5 685.0 L1670.5 685.0 L1671.5 685.0 L1672.5 685.0 L1673.5 685.0 L1674.5 685.0 L1675.5 685.0 L1676.5 685.0 L1677.5 685.0 L1678.5 685.0 L1679.5 685.0 L1680.5 685.0 L1681.5 685.0 L1682.5 685.0 L1683.5 685.0 L1684.5 685.0 L1685.5 685.0 L1686.5 685.0 L1687.5 685.0 L1688.5 685.0 L1689.5 685.0 L1690.5 685.0 L1691.5 685.0 L1692.5 685.0 L1693.5 685.0 L1694.5 685.0 L1695.5 685.0 L1696.5 685.0 L1697.5 685.0 L1698.5 685.0 L1699.5 685.0 L1700.5 685.0 L1701.5 685.0 L1702.5 685.0 L1703.5 685.0 L1704.5 685.0 L1705.5 685.0 L1706.5 685.0 L1707.5 685.0 L1708.5 685.0 L1709.5 685.0 L1710.5 685.0 L1711.5 685.0 L1712.5 685.0 L1713.5 685.0 L1714.5 685.0 L1715.5 685.0 L1716.5 685.0 L1717.5 685.0 L1718.5 685.0 L1719.5 685.0 L1720.5 685.0 L1721.5 685.0 L1722.5 685.0 L1723.5 685.0 L1724.5 685.0 L1725.5 685.0 L1726.5 685.0 L1727.5 685.0 L1728.5 685.0 L1729.5 685.0 L1730.5 685.0 L1731.5 685.0 L1732.5 685.0 L1733.5 685.0 L1734.5 685.0 L1735.5 685.0 L1736.5 685.0 L1737.5 685.0 L1738.5 685.0 L1739.5 685.0 L1740.5 685.0 L1741.5 685.0 L1742.5 685.0 L1743.5 685.0 L1744.5 685.0 L1745.5 685.0 L1746.5 685.0 L1747.5 685.0 L1748.5 685.0 L1749.5 685.0 L1750.5 685.0 L1751.5 685.0 L1752.5 685.0 L1753.5 685.0 L1754.5 685.0 L1755.5 685.0 L1756.5 685.0 L1757.5 685.0 L1758.5 685.0 L1759.5 685.0 L1760.5 685.0 L1761.5 685.0 L1762.5 685.0 L1763.5 685.0 L1764.5 685.0 L1765.5 685.0 L1766.5 685.0 L1767.5 685.0 L1768.5 685.0 L1769.5 685.0 L1770.5 685.0 L1771.5 685.0 L1772.5 685.0 L1773.5 685.0 L1774.5 685.0 L1775.5 685.0 L1776.5 685.0 L1777.5 685.0 L1778.5 685.0 L1779.5 685.0 L1780.5 685.0 L1781.5 685.0 L1782.5 685.0 L1783.5 685.0 L1784.5 685.0 L1785.5 685.0 L1786.5 685.0 L1787.5 685.0 L1788.5 685.0 L1789.5 685.0 L1790.5 685.0 L1791.5 685.0 L1792.5 685.0 L1793.5 685.0 L1794.5 685.0 L1795.5 685.0 L1796.5 685.0 L1797.5 685.0 L1798.5 685.0" fill="none" stroke="#000" stroke-width="1.8"/>
<path d="M1260.5 684.1 L1261.5 684.1 L1262.5 684.0 L1263.5 684.0 L1264.5 683.9 L1265.5 683.9 L1266.5 683.8 L1267.5 683.8 L1268.5 683.7 L1269.5 683.7 L1270.5 683.6 L1271.5 683.6 L1272.5 683.5 L1273.5 683.4 L1274.5 683.4 L1275.5 683.3 L1276.5 683.2 L1277.5 683.2 L1278.5 683.1 L1279.5 683.0 L1280.5 682.9 L1281.5 682.8 L1282.5 682.7 L1283.5 682.6 L1284.5 682.6 L1285.5 682.5 L1286.5 682.4 L1287.5 682.2 L1288.5 682.1 L1289.5 682.0 L1290.5 681.9 L1291.5 681.8 L1292.5 681.7 L1293.5 681.5 L1294.5 681.4 L1295.5 681.3 L1296.5 681.1 L1297.5 681.0 L1298.5 680.8 L1299.5 680.7 L1300.5 680.5 L1301.5 680.4 L1302.5 680.2 L1303.5 680.0 L1304.5 679.8 L1305.5 679.7 L1306.5 679.5 L1307.5 679.3 L1308.5 679.1 L1309.5 678.9 L1310.5 678.6 L1311.5 678.4 L1312.5 678.2 L1313.5 678.0 L1314.5 677.7 L1315.5 677.5 L1316.5 677.2 L1317.5 677.0 L1318.5 676.7 L1319.5 676.4 L1320.5 676.1 L1321.5 675.9 L1322.5 675.6 L1323.5 675.3 L1324.5 674.9 L1325.5 674.6 L1326.5 674.3 L1327.5 674.0 L1328.5 673.6 L1329.5 673.3 L1330.5 672.9 L1331.5 672.5 L1332.5 672.2 L1333.5 671.8 L1334.5 671.4 L1335.5 671.0 L1336.5 670.6 L1337.5 670.2 L1338.5 669.7 L1339.5 669.3 L1340.5 668.8 L1341.5 668.4 L1342.5 667.9 L1343.5 667.4 L1344.5 666.9 L1345.5 666.5 L1346.5 665.9 L1347.5 665.4 L1348.5 664.9 L1349.5 664.4 L1350.5 663.8 L1351.5 663.3 L1352.5 662.7 L1353.5 662.1 L1354.5 661.5 L1355.5 660.9 L1356.5 660.3 L1357.5 659.7 L1358.5 659.1 L1359.5 658.4 L1360.5 657.8 L1361.5 657.1 L1362.5 656.5 L1363.5 655.8 L1364.5 655.1 L1365.5 654.4 L1366.5 653.7 L1367.5 653.0 L1368.5 652.2 L1369.5 651.5 L1370.5 650.7 L1371.5 650.0 L1372.5 649.2 L1373.5 648.4 L1374.5 647.6 L1375.5 646.8 L1376.5 646.0 L1377.5 645.2 L1378.5 644.4 L1379.5 643.6 L1380.5 642.7 L1381.5 641.9 L1382.5 641.0 L1383.5 640.1 L1384.5 639.3 L1385.5 638.4 L1386.5 637.5 L1387.5 636.6 L1388.5 635.7 L1389.5 634.8 L1390.5 633.9 L1391.5 632.9 L1392.5 632.0 L1393.5 631.1 L1394.5 630.1 L1395.5 629.2 L1396.5 628.2 L1397.5 627.3 L1398.5 626.3 L1399.5 625.3 L1400.5 624.4 L1401.5 623.4 L1402.5 622.4 L1403.5 621.5 L1404.5 620.5 L1405.5 619.5 L1406.5 618.5 L1407.5 617.5 L1408.5 616.5 L1409.5 615.6 L1410.5 614.6 L1411.5 613.6 L1412.5 612.6 L1413.5 611.6 L1414.5 610.6 L1415.5 609.7 L1416.5 608.7 L1417.5 607.7 L1418.5 606.7 L1419.5 605.8 L1420.5 604.8 L1421.5 603.9 L1422.5 602.9 L1423.5 602.0 L1424.5 601.0 L1425.5 600.1 L1426.5 599.2 L1427.5 598.2 L1428.5 597.3 L1429.5 596.4 L1430.5 595.5 L1431.5 594.6 L1432.5 593.8 L1433.5 592.9 L1434.5 592.0 L1435.5 591.2 L1436.5 590.3 L1437.5 589.5 L1438.5 588.7 L1439.5 587.9 L1440.5 587.1 L1441.5 586.4 L1442.5 585.6 L1443.5 584.9 L1444.5 584.1 L1445.5 583.4 L1446.5 582.7 L1447.5 582.0 L1448.5 581.4 L1449.5 580.7 L1450.5 580.1 L1451.5 579.5 L1452.5 578.9 L1453.5 578.3 L1454.5 577.8 L1455.5 577.2 L1456.5 576.7 L1457.5 576.2 L1458.5 575.7 L1459.5 575.2 L1460.5 574.8 L1461.5 574.4 L1462.5 574.0 L1463.5 573.6 L1464.5 573.2 L1465.5 572.9 L1466.5 572.6 L1467.5 572.3 L1468.5 572.0 L1469.5 571.8 L1470.5 571.5 L1471.5 571.3 L1472.5 571.1 L1473.5 571.0 L1474.5 570.8 L1475.5 570.7 L1476.5 570.6 L1477.5 570.6 L1478.5 570.5 L1479.5 570.5 L1480.5 570.5 L1481.5 570.5 L1482.5 570.6 L1483.5 570.6 L1484.5 570.7 L1485.5 570.8 L1486.5 571.0 L1487.5 571.1 L1488.5 571.3 L1489.5 571.5 L1490.5 571.8 L1491.5 572.0 L1492.5 572.3 L1493.5 572.6 L1494.5 572.9 L1495.5 573.2 L1496.5 573.6 L1497.5 574.0 L1498.5 574.4 L1499.5 574.8 L1500.5 575.2 L1501.5 575.7 L1502.5 576.2 L1503.5 576.7 L1504.5 577.2 L1505.5 577.8 L1506.5 578.3 L1507.5 578.9 L1508.5 579.5 L1509.5 580.1 L1510.5 580.7 L1511.5 581.4 L1512.5 582.0 L1513.5 582.7 L1514.5 583.4 L1515.5 584.1 L1516.5 584.9 L1517.5 585.6 L1518.5 586.4 L1519.5 587.1 L1520.5 587.9 L1521.5 588.7 L1522.5 589.5 L1523.5 590.3 L1524.5 591.2 L1525.5 592.0 L1526.5 592.9 L1527.5 593.8 L1528.5 594.6 L1529.5 595.5 L1530.5 596.4 L1531.5 597.3 L1532.5 598.2 L1533.5 599.2 L1534.5 600.1 L1535.5 601.0 L1536.5 602.0 L1537.5 602.9 L1538.5 603.9 L1539.5 604.8 L1540.5 605.8 L1541.5 606.7 L1542.5 607.7 L1543.5 608.7 L1544.5 609.7 L1545.5 610.6 L1546.5 611.6 L1547.5 612.6 L1548.5 613.6 L1549.5 614.6 L1550.5 615.6 L1551.5 616.5 L1552.5 617.5 L1553.5 618.5 L1554.5 619.5 L1555.5 620.5 L1556.5 621.5 L1557.5 622.4 L1558.5 623.4 L1559.5 624.4 L1560.5 625.3 L1561.5 626.3 L1562.5 627.3 L1563.5 628.2 L1564.5 629.2 L1565.5 630.1 L1566.5 631.1 L1567.5 632.0 L1568.5 632.9 L1569.5 633.9 L1570.5 634.8 L1571.5 635.7 L1572.5 636.6 L1573.5 637.5 L1574.5 638.4 L1575.5 639.3 L1576.5 640.1 L1577.5 641.0 L1578.5 641.9 L1579.5 642.7 L1580.5 643.6 L1581.5 644.4 L1582.5 645.2 L1583.5 646.0 L1584.5 646.8 L1585.5 647.6 L1586.5 648.4 L1587.5 649.2 L1588.5 650.0 L1589.5 650.7 L1590.5 651.5 L1591.5 652.2 L1592.5 653.0 L1593.5 653.7 L1594.5 654.4 L1595.5 655.1 L1596.5 655.8 L1597.5 656.5 L1598.5 657.1 L1599.5 657.8 L1600.5 658.4 L1601.5 659.1 L1602.5 659.7 L1603.5 660.3 L1604.5 660.9 L1605.5 661.5 L1606.5 662.1 L1607.5 662.7 L1608.5 663.3 L1609.5 663.8 L1610.5 664.4 L1611.5 664.9 L1612.5 665.4 L1613.5 665.9 L1614.5 666.5 L1615.5 666.9 L1616.5 667.4 L1617.5 667.9 L1618.5 668.4 L1619.5 668.8 L1620.5 669.3 L1621.5 669.7 L1622.5 670.2 L1623.5 670.6 L1624.5 671.0 L1625.5 671.4 L1626.5 671.8 L1627.5 672.2 L1628.5 672.5 L1629.5 672.9 L1630.5 673.3 L1631.5 673.6 L1632.5 674.0 L1633.5 674.3 L1634.5 674.6 L1635.5 674.9 L1636.5 675.3 L1637.5 675.6 L1638.5 675.9 L1639.5 676.1 L1640.5 676.4 L1641.5 676.7 L1642.5 677.0 L1643.5 677.2 L1644.5 677.5 L1645.5 677.7 L1646.5 678.0 L1647.5 678.2 L1648.5 678.4 L1649.5 678.6 L1650.5 678.9 L1651.5 679.1 L1652.5 679.3 L1653.5 679.5 L1654.5 679.7 L1655.5 679.8 L1656.5 680.0 L1657.5 680.2 L1658.5 680.4 L1659.5 680.5 L1660.5 680.7 L1661.5 680.8 L1662.5 681.0 L1663.5 681.1 L1664.5 681.3 L1665.5 681.4 L1666.5 681.5 L1667.5 681.7 L1668.5 681.8 L1669.5 681.9 L1670.5 682.0 L1671.5 682.1 L1672.5 682.2 L1673.5 682.4 L1674.5 682.5 L1675.5 682.6 L1676.5 682.6 L1677.5 682.7 L1678.5 682.8 L1679.5 682.9 L1680.5 683.0 L1681.5 683.1 L1682.5 683.2 L1683.5 683.2 L1684.5 683.3 L1685.5 683.4 L1686.5 683.4 L1687.5 683.5 L1688.5 683.6 L1689.5 683.6 L1690.5 683.7 L1691.5 683.7 L1692.5 683.8 L1693.5 683.8 L1694.5 683.9 L1695.5 683.9 L1696.5 684.0 L1697.5 684.0 L1698.5 684.1 L1699.5 684.1 L1700.5 684.1 L1701.5 684.2 L1702.5 684.2 L1703.5 684.2 L1704.5 684.3 L1705.5 684.3 L1706.5 684.3 L1707.5 684.4 L1708.5 684.4 L1709.5 684.4 L1710.5 684.5 L1711.5 684.5 L1711.5 685.0 L1703.5 685.0 L1695.5 685.0 L1687.5 685.0 L1679.5 685.0 L1671.5 685.0 L1663.5 685.0 L1655.5 685.0 L1647.5 685.0 L1639.5 685.0 L1631.5 685.0 L1623.5 685.0 L1615.5 685.0 L1607.5 685.0 L1599.5 685.0 L1591.5 685.0 L1583.5 685.0 L1575.5 685.0 L1567.5 685.0 L1559.5 685.0 L1551.5 685.0 L1543.5 685.0 L1535.5 685.0 L1527.5 685.0 L1519.5 685.0 L1511.5 685.0 L1503.5 685.0 L1495.5 685.0 L1487.5 685.0 L1479.5 685.0 L1471.5 685.0 L1463.5 685.0 L1455.5 685.0 L1447.5 685.0 L1439.5 685.0 L1431.5 685.0 L1423.5 685.0 L1415.5 685.0 L1407.5 685.0 L1399.5 685.0 L1391.5 685.0 L1383.5 685.0 L1375.5 685.0 L1367.5 685.0 L1359.5 685.0 L1351.5 685.0 L1343.5 685.0 L1335.5 685.0 L1327.5 685.0 L1319.5 685.0 L1311.5 685.0 L1303.5 685.0 L1295.5 685.0 L1287.5 685.0 L1279.5 685.0 L1271.5 685.0 L1263.5 685.0Z" fill="#0a7f0a" stroke="#000" stroke-width="1.8" stroke-linejoin="round"/>
<path d="M1494.5 684.5 L1495.5 684.4 L1496.5 684.4 L1497.5 684.3 L1498.5 684.3 L1499.5 684.2 L1500.5 684.2 L1501.5 684.1 L1502.5 684.0 L1503.5 683.9 L1504.5 683.8 L1505.5 683.7 L1506.5 683.6 L1507.5 683.5 L1508.5 683.4 L1509.5 683.3 L1510.5 683.1 L1511.5 683.0 L1512.5 682.8 L1513.5 682.7 L1514.5 682.5 L1515.5 682.3 L1516.5 682.1 L1517.5 681.9 L1518.5 681.6 L1519.5 681.4 L1520.5 681.1 L1521.5 680.8 L1522.5 680.5 L1523.5 680.2 L1524.5 679.9 L1525.5 679.5 L1526.5 679.1 L1527.5 678.7 L1528.5 678.3 L1529.5 677.9 L1530.5 677.4 L1531.5 676.9 L1532.5 676.3 L1533.5 675.8 L1534.5 675.2 L1535.5 674.5 L1536.5 673.9 L1537.5 673.2 L1538.5 672.4 L1539.5 671.7 L1540.5 670.8 L1541.5 670.0 L1542.5 669.1 L1543.5 668.1 L1544.5 667.1 L1545.5 666.1 L1546.5 665.0 L1547.5 663.9 L1548.5 662.7 L1549.5 661.5 L1550.5 660.2 L1551.5 658.8 L1552.5 657.4 L1553.5 655.9 L1554.5 654.4 L1555.5 652.8 L1556.5 651.2 L1557.5 649.4 L1558.5 647.7 L1559.5 645.8 L1560.5 643.9 L1561.5 641.9 L1562.5 639.8 L1563.5 637.7 L1564.5 635.5 L1565.5 633.2 L1566.5 630.9 L1567.5 628.5 L1568.5 626.0 L1569.5 623.4 L1570.5 620.8 L1571.5 618.0 L1572.5 615.3 L1573.5 612.4 L1574.5 609.4 L1575.5 606.4 L1576.5 603.3 L1577.5 600.2 L1578.5 596.9 L1579.5 593.6 L1580.5 590.3 L1581.5 586.8 L1582.5 583.3 L1583.5 579.7 L1584.5 576.1 L1585.5 572.4 L1586.5 568.7 L1587.5 564.8 L1588.5 561.0 L1589.5 557.1 L1590.5 553.1 L1591.5 549.1 L1592.5 545.1 L1593.5 541.0 L1594.5 536.9 L1595.5 532.7 L1596.5 528.5 L1597.5 524.4 L1598.5 520.1 L1599.5 515.9 L1600.5 511.7 L1601.5 507.5 L1602.5 503.2 L1603.5 499.0 L1604.5 494.8 L1605.5 490.6 L1606.5 486.4 L1607.5 482.3 L1608.5 478.2 L1609.5 474.1 L1610.5 470.0 L1611.5 466.1 L1612.5 462.1 L1613.5 458.3 L1614.5 454.5 L1615.5 450.7 L1616.5 447.1 L1617.5 443.5 L1618.5 440.0 L1619.5 436.6 L1620.5 433.3 L1621.5 430.2 L1622.5 427.1 L1623.5 424.1 L1624.5 421.3 L1625.5 418.5 L1626.5 415.9 L1627.5 413.5 L1628.5 411.2 L1629.5 409.0 L1630.5 406.9 L1631.5 405.0 L1632.5 403.3 L1633.5 401.7 L1634.5 400.2 L1635.5 398.9 L1636.5 397.8 L1637.5 396.8 L1638.5 396.0 L1639.5 395.4 L1640.5 394.9 L1641.5 394.6 L1642.5 394.5 L1643.5 394.5 L1644.5 394.7 L1645.5 395.1 L1646.5 395.6 L1647.5 396.3 L1648.5 397.2 L1649.5 398.2 L1650.5 399.4 L1651.5 400.8 L1652.5 402.3 L1653.5 403.9 L1654.5 405.8 L1655.5 407.7 L1656.5 409.8 L1657.5 412.1 L1658.5 414.5 L1659.5 417.0 L1660.5 419.6 L1661.5 422.4 L1662.5 425.3 L1663.5 428.3 L1664.5 431.4 L1665.5 434.7 L1666.5 438.0 L1667.5 441.4 L1668.5 444.9 L1669.5 448.5 L1670.5 452.2 L1671.5 456.0 L1672.5 459.8 L1673.5 463.7 L1674.5 467.7 L1675.5 471.7 L1676.5 475.7 L1677.5 479.8 L1678.5 483.9 L1679.5 488.1 L1680.5 492.3 L1681.5 496.5 L1682.5 500.7 L1683.5 504.9 L1684.5 509.2 L1685.5 513.4 L1686.5 517.6 L1687.5 521.8 L1688.5 526.0 L1689.5 530.2 L1690.5 534.4 L1691.5 538.5 L1692.5 542.6 L1693.5 546.7 L1694.5 550.7 L1695.5 554.7 L1696.5 558.6 L1697.5 562.5 L1698.5 566.4 L1699.5 570.2 L1700.5 573.9 L1701.5 577.6 L1702.5 581.2 L1703.5 584.7 L1704.5 588.2 L1705.5 591.6 L1706.5 595.0 L1707.5 598.2 L1708.5 601.4 L1709.5 604.6 L1710.5 607.6 L1711.5 610.6 L1712.5 613.5 L1713.5 616.4 L1714.5 619.1 L1715.5 621.8 L1716.5 624.4 L1717.5 627.0 L1718.5 629.4 L1719.5 631.8 L1720.5 634.2 L1721.5 636.4 L1722.5 638.6 L1723.5 640.7 L1724.5 642.7 L1725.5 644.7 L1726.5 646.6 L1727.5 648.4 L1728.5 650.1 L1729.5 651.8 L1730.5 653.5 L1731.5 655.0 L1732.5 656.5 L1733.5 658.0 L1734.5 659.4 L1735.5 660.7 L1736.5 662.0 L1737.5 663.2 L1738.5 664.4 L1739.5 665.5 L1740.5 666.5 L1741.5 667.6 L1742.5 668.5 L1743.5 669.4 L1744.5 670.3 L1745.5 671.2 L1746.5 672.0 L1747.5 672.7 L1748.5 673.5 L1749.5 674.1 L1750.5 674.8 L1751.5 675.4 L1752.5 676.0 L1753.5 676.6 L1754.5 677.1 L1755.5 677.6 L1756.5 678.0 L1757.5 678.5 L1758.5 678.9 L1759.5 679.3 L1760.5 679.7 L1761.5 680.0 L1762.5 680.4 L1763.5 680.7 L1764.5 681.0 L1765.5 681.2 L1766.5 681.5 L1767.5 681.7 L1768.5 682.0 L1769.5 682.2 L1770.5 682.4 L1771.5 682.6 L1772.5 682.7 L1773.5 682.9 L1774.5 683.1 L1775.5 683.2 L1776.5 683.3 L1777.5 683.5 L1778.5 683.6 L1779.5 683.7 L1780.5 683.8 L1781.5 683.9 L1782.5 684.0 L1783.5 684.0 L1784.5 684.1 L1785.5 684.2 L1786.5 684.3 L1787.5 684.3 L1788.5 684.4 L1789.5 684.4 L1790.5 684.5 L1790.5 685.0 L1782.5 685.0 L1774.5 685.0 L1766.5 685.0 L1758.5 685.0 L1750.5 685.0 L1742.5 685.0 L1734.5 685.0 L1726.5 685.0 L1718.5 685.0 L1710.5 685.0 L1702.5 685.0 L1694.5 685.0 L1686.5 685.0 L1678.5 685.0 L1670.5 685.0 L1662.5 685.0 L1654.5 685.0 L1646.5 685.0 L1638.5 685.0 L1630.5 685.0 L1622.5 685.0 L1614.5 685.0 L1606.5 685.0 L1598.5 685.0 L1590.5 685.0 L1582.5 685.0 L1574.5 685.0 L1566.5 685.0 L1558.5 685.0 L1550.5 685.0 L1542.5 685.0 L1534.5 685.0 L1526.5 685.0 L1518.5 685.0 L1510.5 685.0 L1502.5 685.0 L1494.5 685.0Z" fill="#ff0000" stroke="#000" stroke-width="1.8" stroke-linejoin="round"/>
<path d="M1260.5 684.1 L1261.5 684.1 L1262.5 684.0 L1263.5 684.0 L1264.5 683.9 L1265.5 683.9 L1266.5 683.8 L1267.5 683.8 L1268.5 683.7 L1269.5 683.7 L1270.5 683.6 L1271.5 683.6 L1272.5 683.5 L1273.5 683.4 L1274.5 683.4 L1275.5 683.3 L1276.5 683.2 L1277.5 683.2 L1278.5 683.1 L1279.5 683.0 L1280.5 682.9 L1281.5 682.8 L1282.5 682.7 L1283.5 682.6 L1284.5 682.6 L1285.5 682.5 L1286.5 682.4 L1287.5 682.2 L1288.5 682.1 L1289.5 682.0 L1290.5 681.9 L1291.5 681.8 L1292.5 681.7 L1293.5 681.5 L1294.5 681.4 L1295.5 681.3 L1296.5 681.1 L1297.5 681.0 L1298.5 680.8 L1299.5 680.7 L1300.5 680.5 L1301.5 680.4 L1302.5 680.2 L1303.5 680.0 L1304.5 679.8 L1305.5 679.7 L1306.5 679.5 L1307.5 679.3 L1308.5 679.1 L1309.5 678.9 L1310.5 678.6 L1311.5 678.4 L1312.5 678.2 L1313.5 678.0 L1314.5 677.7 L1315.5 677.5 L1316.5 677.2 L1317.5 677.0 L1318.5 676.7 L1319.5 676.4 L1320.5 676.1 L1321.5 675.9 L1322.5 675.6 L1323.5 675.3 L1324.5 674.9 L1325.5 674.6 L1326.5 674.3 L1327.5 674.0 L1328.5 673.6 L1329.5 673.3 L1330.5 672.9 L1331.5 672.5 L1332.5 672.2 L1333.5 671.8 L1334.5 671.4 L1335.5 671.0 L1336.5 670.6 L1337.5 670.2 L1338.5 669.7 L1339.5 669.3 L1340.5 668.8 L1341.5 668.4 L1342.5 667.9 L1343.5 667.4 L1344.5 666.9 L1345.5 666.5 L1346.5 665.9 L1347.5 665.4 L1348.5 664.9 L1349.5 664.4 L1350.5 663.8 L1351.5 663.3 L1352.5 662.7 L1353.5 662.1 L1354.5 661.5 L1355.5 660.9 L1356.5 660.3 L1357.5 659.7 L1358.5 659.1 L1359.5 658.4 L1360.5 657.8 L1361.5 657.1 L1362.5 656.5 L1363.5 655.8 L1364.5 655.1 L1365.5 654.4 L1366.5 653.7 L1367.5 653.0 L1368.5 652.2 L1369.5 651.5 L1370.5 650.7 L1371.5 650.0 L1372.5 649.2 L1373.5 648.4 L1374.5 647.6 L1375.5 646.8 L1376.5 646.0 L1377.5 645.2 L1378.5 644.4 L1379.5 643.6 L1380.5 642.7 L1381.5 641.9 L1382.5 641.0 L1383.5 640.1 L1384.5 639.3 L1385.5 638.4 L1386.5 637.5 L1387.5 636.6 L1388.5 635.7 L1389.5 634.8 L1390.5 633.9 L1391.5 632.9 L1392.5 632.0 L1393.5 631.1 L1394.5 630.1 L1395.5 629.2 L1396.5 628.2 L1397.5 627.3 L1398.5 626.3 L1399.5 625.3 L1400.5 624.4 L1401.5 623.4 L1402.5 622.4 L1403.5 621.5 L1404.5 620.5 L1405.5 619.5 L1406.5 618.5 L1407.5 617.5 L1408.5 616.5 L1409.5 615.6 L1410.5 614.6 L1411.5 613.6 L1412.5 612.6 L1413.5 611.6 L1414.5 610.6 L1415.5 609.7 L1416.5 608.7 L1417.5 607.7 L1418.5 606.7 L1419.5 605.8 L1420.5 604.8 L1421.5 603.9 L1422.5 602.9 L1423.5 602.0 L1424.5 601.0 L1425.5 600.1 L1426.5 599.2 L1427.5 598.2 L1428.5 597.3 L1429.5 596.4 L1430.5 595.5 L1431.5 594.6 L1432.5 593.8 L1433.5 592.9 L1434.5 592.0 L1435.5 591.2 L1436.5 590.3 L1437.5 589.5 L1438.5 588.7 L1439.5 587.9 L1440.5 587.1 L1441.5 586.4 L1442.5 585.6 L1443.5 584.9 L1444.5 584.1 L1445.5 583.4 L1446.5 582.7 L1447.5 582.0 L1448.5 581.4 L1449.5 580.7 L1450.5 580.1 L1451.5 579.5 L1452.5 578.9 L1453.5 578.3 L1454.5 577.7 L1455.5 577.2 L1456.5 576.7 L1457.5 576.2 L1458.5 575.7 L1459.5 575.2 L1460.5 574.8 L1461.5 574.4 L1462.5 573.9 L1463.5 573.6 L1464.5 573.2 L1465.5 572.9 L1466.5 572.5 L1467.5 572.2 L1468.5 572.0 L1469.5 571.7 L1470.5 571.5 L1471.5 571.3 L1472.5 571.1 L1473.5 570.9 L1474.5 570.8 L1475.5 570.6 L1476.5 570.5 L1477.5 570.5 L1478.5 570.4 L1479.5 570.4 L1480.5 570.4 L1481.5 570.4 L1482.5 570.4 L1483.5 570.4 L1484.5 570.5 L1485.5 570.6 L1486.5 570.7 L1487.5 570.9 L1488.5 571.0 L1489.5 571.2 L1490.5 571.4 L1491.5 571.6 L1492.5 571.9 L1493.5 572.1 L1494.5 572.4 L1495.5 572.7 L1496.5 573.0 L1497.5 573.3 L1498.5 573.7 L1499.5 574.0 L1500.5 574.4 L1501.5 574.8 L1502.5 575.2 L1503.5 575.6 L1504.5 576.0 L1505.5 576.5 L1506.5 576.9 L1507.5 577.4 L1508.5 577.9 L1509.5 578.4 L1510.5 578.9 L1511.5 579.4 L1512.5 579.9 L1513.5 580.4 L1514.5 580.9 L1515.5 581.4 L1516.5 582.0 L1517.5 582.5 L1518.5 583.0 L1519.5 583.5 L1520.5 584.0 L1521.5 584.6 L1522.5 585.1 L1523.5 585.6 L1524.5 586.1 L1525.5 586.6 L1526.5 587.0 L1527.5 587.5 L1528.5 587.9 L1529.5 588.4 L1530.5 588.8 L1531.5 589.2 L1532.5 589.6 L1533.5 589.9 L1534.5 590.2 L1535.5 590.6 L1536.5 590.8 L1537.5 591.1 L1538.5 591.3 L1539.5 591.5 L1540.5 591.6 L1541.5 591.7 L1542.5 591.8 L1543.5 591.8 L1544.5 591.8 L1545.5 591.8 L1546.5 591.6 L1547.5 591.5 L1548.5 591.3 L1549.5 591.0 L1550.5 590.7 L1551.5 590.4 L1552.5 589.9 L1553.5 589.4 L1554.5 588.9 L1555.5 588.3 L1556.5 587.6 L1557.5 586.9 L1558.5 586.1 L1559.5 585.2 L1560.5 584.2 L1561.5 583.2 L1562.5 582.1 L1563.5 580.9 L1564.5 579.7 L1565.5 578.4 L1566.5 577.0 L1567.5 575.5 L1568.5 573.9 L1569.5 572.3 L1570.5 570.5 L1571.5 568.7 L1572.5 566.8 L1573.5 564.9 L1574.5 562.8 L1575.5 560.7 L1576.5 558.5 L1577.5 556.2 L1578.5 553.8 L1579.5 551.3 L1580.5 548.8 L1581.5 546.2 L1582.5 543.5 L1583.5 540.8 L1584.5 537.9 L1585.5 535.0 L1586.5 532.1 L1587.5 529.0 L1588.5 526.0 L1589.5 522.8 L1590.5 519.6 L1591.5 516.3 L1592.5 513.0 L1593.5 509.7 L1594.5 506.2 L1595.5 502.8 L1596.5 499.3 L1597.5 495.8 L1598.5 492.3 L1599.5 488.7 L1600.5 485.1 L1601.5 481.5 L1602.5 477.9 L1603.5 474.3 L1604.5 470.7 L1605.5 467.1 L1606.5 463.5 L1607.5 460.0 L1608.5 456.4 L1609.5 452.9 L1610.5 449.4 L1611.5 446.0 L1612.5 442.6 L1613.5 439.2 L1614.5 435.9 L1615.5 432.7 L1616.5 429.5 L1617.5 426.4 L1618.5 423.4 L1619.5 420.5 L1620.5 417.6 L1621.5 414.9 L1622.5 412.2 L1623.5 409.7 L1624.5 407.3 L1625.5 404.9 L1626.5 402.7 L1627.5 400.7 L1628.5 398.7 L1629.5 396.9 L1630.5 395.2 L1631.5 393.6 L1632.5 392.2 L1633.5 391.0 L1634.5 389.9 L1635.5 388.9 L1636.5 388.1 L1637.5 387.4 L1638.5 386.9 L1639.5 386.6 L1640.5 386.4 L1641.5 386.3 L1642.5 386.5 L1643.5 386.8 L1644.5 387.2 L1645.5 387.8 L1646.5 388.6 L1647.5 389.5 L1648.5 390.6 L1649.5 391.9 L1650.5 393.3 L1651.5 394.8 L1652.5 396.5 L1653.5 398.4 L1654.5 400.4 L1655.5 402.6 L1656.5 404.8 L1657.5 407.3 L1658.5 409.8 L1659.5 412.5 L1660.5 415.3 L1661.5 418.2 L1662.5 421.3 L1663.5 424.4 L1664.5 427.7 L1665.5 431.1 L1666.5 434.5 L1667.5 438.1 L1668.5 441.7 L1669.5 445.4 L1670.5 449.2 L1671.5 453.1 L1672.5 457.1 L1673.5 461.1 L1674.5 465.1 L1675.5 469.2 L1676.5 473.4 L1677.5 477.5 L1678.5 481.8 L1679.5 486.0 L1680.5 490.3 L1681.5 494.5 L1682.5 498.8 L1683.5 503.1 L1684.5 507.4 L1685.5 511.8 L1686.5 516.0 L1687.5 520.3 L1688.5 524.6 L1689.5 528.8 L1690.5 533.1 L1691.5 537.2 L1692.5 541.4 L1693.5 545.5 L1694.5 549.6 L1695.5 553.6 L1696.5 557.6 L1697.5 561.6 L1698.5 565.4 L1699.5 569.3 L1700.5 573.0 L1701.5 576.7 L1702.5 580.4 L1703.5 584.0 L1704.5 587.5 L1705.5 590.9 L1706.5 594.3 L1707.5 597.6 L1708.5 600.8 L1709.5 604.0 L1710.5 607.1 L1711.5 610.1 L1712.5 613.0 L1713.5 615.9 L1714.5 618.7 L1715.5 621.4 L1716.5 624.0 L1717.5 626.6 L1718.5 629.1 L1719.5 631.5 L1720.5 633.8 L1721.5 636.1 L1722.5 638.3 L1723.5 640.4 L1724.5 642.4 L1725.5 644.4 L1726.5 646.3 L1727.5 648.1 L1728.5 649.9 L1729.5 651.6 L1730.5 653.3 L1731.5 654.8 L1732.5 656.3 L1733.5 657.8 L1734.5 659.2 L1735.5 660.5 L1736.5 661.8 L1737.5 663.0 L1738.5 664.2 L1739.5 665.3 L1740.5 666.4 L1741.5 667.4 L1742.5 668.4 L1743.5 669.3 L1744.5 670.2 L1745.5 671.1 L1746.5 671.9 L1747.5 672.6 L1748.5 673.4 L1749.5 674.1 L1750.5 674.7 L1751.5 675.3 L1752.5 675.9 L1753.5 676.5 L1754.5 677.0 L1755.5 677.5 L1756.5 678.0 L1757.5 678.4 L1758.5 678.9 L1759.5 679.3 L1760.5 679.6 L1761.5 680.0 L1762.5 680.3 L1763.5 680.6 L1764.5 680.9 L1765.5 681.2 L1766.5 681.5 L1767.5 681.7 L1768.5 681.9 L1769.5 682.2 L1770.5 682.4 L1771.5 682.5 L1772.5 682.7 L1773.5 682.9 L1774.5 683.0 L1775.5 683.2 L1776.5 683.3 L1777.5 683.4 L1778.5 683.6 L1779.5 683.7 L1780.5 683.8 L1781.5 683.9 L1782.5 684.0 L1783.5 684.0 L1784.5 684.1 L1785.5 684.2 L1786.5 684.2 L1787.5 684.3 L1788.5 684.4 L1789.5 684.4 L1790.5 684.5 L1791.5 684.5 L1792.5 684.5 L1793.5 684.6 L1794.5 684.6 L1795.5 684.6 L1796.5 684.7 L1797.5 684.7 L1798.5 684.7" fill="none" stroke="#000" stroke-width="1.8"/>
<path d="M1260 685H1799" stroke="#000" stroke-width="3"/>
<path d="M1284.9 661.9h0M1290.0 656.3h0M1294.9 620.2h0M1319.3 657.9h0M1329.3 663.0h0M1338.8 644.8h0M1343.7 626.0h0M1349.2 664.1h0M1382.5 641.5h0M1387.6 636.4h0M1392.9 633.1h0M1397.3 608.7h0M1402.4 616.9h0M1406.9 592.7h0M1422.4 596.9h0M1436.8 560.6h0M1451.2 570.5h0M1456.3 528.9h0M1462.3 559.5h0M1469.6 561.0h0M1485.5 551.7h0M1491.1 562.1h0M1495.5 561.0h0M1519.9 536.6h0M1520.0 537.6h0M1544.4 541.5h0M1539.7 558.1h0M1548.4 557.3h0M1534.6 597.5h0M1553.5 613.3h0M1562.6 593.6h0M1569.3 598.7h0M1573.2 580.2h0M1579.1 548.6h0M1585.0 526.6h0M1590.9 519.9h0M1598.8 502.1h0M1602.7 486.4h0M1607.5 472.6h0M1614.6 427.3h0M1622.4 393.8h0M1661.1 387.1h0M1666.6 418.2h0M1686.3 495.1h0M1690.6 526.6h0M1701.2 565.2h0M1711.1 598.7h0M1721.7 608.5h0M1724.9 604.6h0M1744.6 634.1h0M1739.5 651.1h0M1754.4 662.9h0M1778.9 676.3h0M1797.8 667.6h0" stroke="#000" stroke-width="5.0" stroke-linecap="round" fill="none"/>
</g>
<path d="M1486.5 95.5V380" stroke="#2fd08f" stroke-width="2.4" stroke-dasharray="12 7" fill="none"/>
<path d="M1486.5 383V696" stroke="#12b464" stroke-width="2.4" stroke-dasharray="12 7" fill="none"/>
<path d="M1465.7 158.5V173" stroke="#2fd08f" stroke-width="2"/>
<path d="M1641.5 299V379" stroke="#ff0000" stroke-width="2.0" stroke-dasharray="12 7" fill="none"/>
<path d="M1641.5 381V393" stroke="#f00" stroke-width="2"/>
<path d="M1641.5 687V700" stroke="#f00" stroke-width="2"/>
<path d="M1260.5 712.5V67.19999999999999M1260.5 68.6H1799.3M1799.3 67.19999999999999V700" fill="none" stroke="#000" stroke-width="2.8"/>
<path d="M1260.5 700H1799.3" fill="none" stroke="#000" stroke-width="2.3"/>
<text x="1260.5" y="743.5" font-size="29.7" text-anchor="middle">692</text>
<text x="1358.5" y="743.5" font-size="29.7" text-anchor="middle">690</text>
<text x="1456.4" y="743.5" font-size="29.7" text-anchor="middle">688</text>
<text x="1554.4" y="743.5" font-size="29.7" text-anchor="middle">686</text>
<text x="1652.4" y="743.5" font-size="29.7" text-anchor="middle">684</text>
<text x="1750.3" y="743.5" font-size="29.7" text-anchor="middle">682</text>
<path d="M1260.5 700v12.5M1309.5 700v6M1309.5 68.6v6M1358.5 700v12.5M1358.5 68.6v11.5M1407.4 700v6M1407.4 68.6v6M1456.4 700v12.5M1456.4 68.6v6M1505.4 700v6M1505.4 68.6v6M1554.4 700v12.5M1554.4 68.6v6M1603.4 700v6M1603.4 68.6v11.5M1652.4 700v12.5M1652.4 68.6v6M1701.3 700v6M1701.3 68.6v6M1750.3 700v12.5M1750.3 68.6v6M1799.3 700v6" stroke="#000" stroke-width="2.3" fill="none"/>
<text x="27.5" y="39.5" font-size="48" fill="#000" font-weight="bold" text-anchor="start" textLength="44" lengthAdjust="spacingAndGlyphs">a)</text>
<text x="122" y="39.2" font-size="39" fill="#000" font-weight="bold" text-anchor="start" textLength="71" lengthAdjust="spacingAndGlyphs">C 1s</text>
<text x="240.5" y="39.2" font-size="39" fill="#000" font-weight="bold" text-anchor="start" textLength="228" lengthAdjust="spacingAndGlyphs">hν = 1487 eV</text>
<text x="650.5" y="39.5" font-size="50" fill="#000" font-weight="bold" text-anchor="start" textLength="44" lengthAdjust="spacingAndGlyphs">b)</text>
<text x="749" y="39.2" font-size="39" fill="#000" font-weight="bold" text-anchor="start" textLength="71" lengthAdjust="spacingAndGlyphs">C 1s</text>
<text x="865" y="39.2" font-size="39" fill="#000" font-weight="bold" text-anchor="start" textLength="228" lengthAdjust="spacingAndGlyphs">hν = 2984 eV</text>
<text x="1261" y="39.5" font-size="48" fill="#000" font-weight="bold" text-anchor="start" textLength="40" lengthAdjust="spacingAndGlyphs">c)</text>
<text x="1349" y="39.2" font-size="39" fill="#000" font-weight="bold" text-anchor="start" textLength="66" lengthAdjust="spacingAndGlyphs">F 1s</text>
<text x="1462" y="39.2" font-size="39" fill="#000" font-weight="bold" text-anchor="start" textLength="228" lengthAdjust="spacingAndGlyphs">hν = 1487 eV</text>
<text x="38.1" y="118.7" font-size="36" fill="#000"><tspan textLength="88.0" lengthAdjust="spacingAndGlyphs">NaPF</tspan><tspan dy="9.2" dx="1.5" font-size="26.6">6</tspan></text>
<text x="37.7" y="159" font-size="36" fill="#000" font-weight="normal" text-anchor="start" textLength="158.6" lengthAdjust="spacingAndGlyphs">no DMCF</text>
<text x="39.6" y="446.6" font-size="36" fill="#000"><tspan textLength="88.8" lengthAdjust="spacingAndGlyphs">NaPF</tspan><tspan dy="9.2" dx="1.5" font-size="26.6">6</tspan></text>
<text x="39.7" y="488.5" font-size="36" fill="#000" font-weight="normal" text-anchor="start" textLength="165.3" lengthAdjust="spacingAndGlyphs">3% DMCF</text>
<text x="199.3" y="228.7" font-size="42" fill="#0a7f0a"><tspan textLength="58" lengthAdjust="spacingAndGlyphs">CO</tspan><tspan dy="12" dx="2" font-size="29.0">3</tspan></text>
<text x="212.8" y="441" font-size="42" fill="#0a7f0a"><tspan textLength="58" lengthAdjust="spacingAndGlyphs">CO</tspan><tspan dy="12" dx="2" font-size="29.0">3</tspan></text>
<text x="485.3" y="121.7" font-size="41" fill="#000" font-weight="normal" text-anchor="start" textLength="66.1" lengthAdjust="spacingAndGlyphs">C-C</text>
<text x="485.3" y="168.5" font-size="41" fill="#000" font-weight="normal" text-anchor="start" textLength="68.1" lengthAdjust="spacingAndGlyphs">C-H</text>
<text x="360.3" y="103" font-size="42" fill="#f79646" font-weight="normal" text-anchor="start" textLength="73.2" lengthAdjust="spacingAndGlyphs">C-O</text>
<text x="306.3" y="127.2" font-size="42" fill="#0033cc" font-weight="normal" text-anchor="start" textLength="32.7" lengthAdjust="spacingAndGlyphs">O</text>
<text x="306.8" y="186" font-size="42" fill="#0033cc" font-weight="normal" text-anchor="start" textLength="82.7" lengthAdjust="spacingAndGlyphs">C=O</text>
<path d="M322.8 132.4V149" stroke="#0033cc" stroke-width="2.4"/>
<text x="69.2" y="559.8" font-size="36.5" fill="#000" font-weight="normal" text-anchor="start" textLength="74.1" lengthAdjust="spacingAndGlyphs">K 2p</text>
<text x="666.1" y="114.2" font-size="36" fill="#000"><tspan textLength="88.8" lengthAdjust="spacingAndGlyphs">NaPF</tspan><tspan dy="9.2" dx="1.5" font-size="26.6">6</tspan></text>
<text x="666.2" y="155" font-size="36" fill="#000" font-weight="normal" text-anchor="start" textLength="158.3" lengthAdjust="spacingAndGlyphs">no DMCF</text>
<text x="665.2" y="442.2" font-size="36" fill="#000"><tspan textLength="88.8" lengthAdjust="spacingAndGlyphs">NaPF</tspan><tspan dy="9.2" dx="1.5" font-size="26.6">6</tspan></text>
<text x="665.3" y="485" font-size="36" fill="#000" font-weight="normal" text-anchor="start" textLength="166.2" lengthAdjust="spacingAndGlyphs">3% DMCF</text>
<text x="881.3" y="163.7" font-size="42" fill="#0a7f0a"><tspan textLength="59.5" lengthAdjust="spacingAndGlyphs">CO</tspan><tspan dy="12" dx="2" font-size="29.0">3</tspan></text>
<text x="849.8" y="442.2" font-size="42" fill="#0a7f0a"><tspan textLength="59.5" lengthAdjust="spacingAndGlyphs">CO</tspan><tspan dy="12" dx="2" font-size="29.0">3</tspan></text>
<text x="705.6" y="607" font-size="36.5" fill="#000" font-weight="normal" text-anchor="start" textLength="74.1" lengthAdjust="spacingAndGlyphs">K 2p</text>
<text x="1274.6" y="124.2" font-size="36" fill="#000"><tspan textLength="89.1" lengthAdjust="spacingAndGlyphs">NaPF</tspan><tspan dy="9.2" dx="1.5" font-size="26.6">6</tspan></text>
<text x="1274.7" y="165" font-size="36" fill="#000" font-weight="normal" text-anchor="start" textLength="158.3" lengthAdjust="spacingAndGlyphs">no DMCF</text>
<text x="1273.8" y="455.9" font-size="36" fill="#000"><tspan textLength="89.1" lengthAdjust="spacingAndGlyphs">NaPF</tspan><tspan dy="9.2" dx="1.5" font-size="26.6">6</tspan></text>
<text x="1273.9" y="497" font-size="36" fill="#000" font-weight="normal" text-anchor="start" textLength="165.9" lengthAdjust="spacingAndGlyphs">3% DMCF</text>
<text x="1549.6" y="125.5" font-size="40.2" fill="#0a7f0a"><tspan textLength="100.9" lengthAdjust="spacingAndGlyphs">NaPF</tspan><tspan dy="11.7" dx="1.5" font-size="28.9">6</tspan></text>
<text x="1637.8" y="290.3" font-size="40.5" fill="#ff0000" font-weight="normal" text-anchor="start" textLength="73.6" lengthAdjust="spacingAndGlyphs">NaF</text>
<text x="1681" y="335.6" font-size="40" fill="#ff0000" font-weight="bold" text-anchor="start" textLength="107" lengthAdjust="spacingAndGlyphs">0.5 %</text>
<text x="1710" y="541.5" font-size="40" fill="#ff0000" font-weight="bold" text-anchor="start" textLength="107.5" lengthAdjust="spacingAndGlyphs">5.7 %</text>
<text x="302.5" y="798.5" font-size="33.5" fill="#000" font-weight="normal" text-anchor="middle">Binding Energy (eV)</text>
<text x="923.5" y="798.5" font-size="33.5" fill="#000" font-weight="normal" text-anchor="middle">Binding Energy (eV)</text>
<text x="1534.5" y="798.5" font-size="33.5" fill="#000" font-weight="normal" text-anchor="middle">Binding Energy (eV)</text>
<path d="M110.3 580.9L104.5 608.3" stroke="#000" stroke-width="1.7" fill="none"/>
<path d="M102.4 618.2L96.6 602.2L104.5 608.3L114.2 606.0Z" fill="#000"/>
<path d="M140.6 571.2L155.8 592.0" stroke="#000" stroke-width="1.7" fill="none"/>
<path d="M161.7 600.2L145.9 593.9L155.8 592.0L160.5 583.2Z" fill="#000"/>
<path d="M747.0 625.5L741.7 653.6" stroke="#000" stroke-width="1.7" fill="none"/>
<path d="M739.8 663.5L733.6 647.7L741.7 653.6L751.4 651.0Z" fill="#000"/>
<path d="M778.5 623.0L793.0 642.4" stroke="#000" stroke-width="1.7" fill="none"/>
<path d="M799.0 650.5L783.2 644.3L793.0 642.4L797.6 633.6Z" fill="#000"/>
<path d="M250.6 244.3L263.4 261.3" stroke="#0a7f0a" stroke-width="1.7" fill="none"/>
<path d="M269.4 269.4L253.5 263.3L263.4 261.3L268.0 252.5Z" fill="#0a7f0a"/>
<path d="M264.4 456.8L277.5 473.8" stroke="#0a7f0a" stroke-width="1.7" fill="none"/>
<path d="M283.7 481.8L267.8 475.9L277.5 473.8L282.0 464.9Z" fill="#0a7f0a"/>
<path d="M902.3 459.5L914.6 475.5" stroke="#0a7f0a" stroke-width="1.7" fill="none"/>
<path d="M920.8 483.5L904.9 477.6L914.6 475.5L919.2 466.6Z" fill="#0a7f0a"/>
<path d="M341.7 200.0L351.3 254.3" stroke="#0033cc" stroke-width="1.7" fill="none"/>
<path d="M353.1 264.2L341.7 251.6L351.3 254.3L359.5 248.4Z" fill="#0033cc"/>
</svg>
</body></html>
